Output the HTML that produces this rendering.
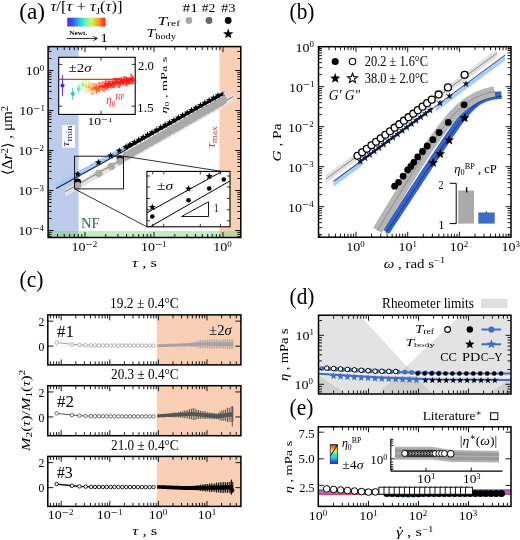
<!DOCTYPE html>
<html><head><meta charset="utf-8"><title>Figure</title>
<style>
html,body{margin:0;padding:0;background:#fff;width:520px;height:540px;overflow:hidden}
svg{display:block}
text{font-family:"Liberation Serif","DejaVu Serif",serif}
</style></head>
<body>
<svg width="520" height="540" viewBox="0 0 520 540">
<defs>
<linearGradient id="rainbow" x1="0" y1="0" x2="1" y2="0">
<stop offset="0" stop-color="#5a1ee8"/><stop offset="0.15" stop-color="#2f5cf5"/><stop offset="0.35" stop-color="#1fd8e0"/>
<stop offset="0.5" stop-color="#80f5a8"/><stop offset="0.65" stop-color="#d6f060"/><stop offset="0.82" stop-color="#ff9a30"/><stop offset="1" stop-color="#ff1a10"/>
</linearGradient>
<linearGradient id="rainbowv" x1="0" y1="1" x2="0" y2="0">
<stop offset="0" stop-color="#3a2ae8"/><stop offset="0.2" stop-color="#2090f0"/><stop offset="0.4" stop-color="#30e8c0"/>
<stop offset="0.6" stop-color="#c0f060"/><stop offset="0.8" stop-color="#ff9a30"/><stop offset="1" stop-color="#e82010"/>
</linearGradient>
</defs>
<rect width="520" height="540" fill="#fff"/>
<text transform="translate(19.23,18.88) scale(1.165,1.179)" font-size="20" fill="#000" >(a)</text>
<text transform="translate(50.40,11.32) scale(1.277,1.092)" font-size="13" fill="#000" ><tspan font-style="italic">τ</tspan>/[<tspan font-style="italic">τ</tspan> + <tspan font-style="italic">τ</tspan><tspan font-size="8" dy="2.5">J</tspan><tspan dy="-2.5">(</tspan><tspan font-style="italic">τ</tspan>)]</text>
<rect x="67.3" y="17.7" width="38" height="8.8" fill="url(#rainbow)" stroke="none" stroke-width="1" />
<text transform="translate(69.30,34.60) scale(0.972,0.900)" font-size="7.5" fill="#000" font-weight="bold">Newt.</text>
<line x1="66.5" y1="38.5" x2="97" y2="38.5" stroke="#000" stroke-width="0.8" />
<polyline points="93.3,36.4 97.5,38.5 93.3,40.6" fill="none" stroke="#000" stroke-width="0.8"/>
<text transform="translate(100.20,42.30) scale(1.400,1.100)" font-size="11" fill="#000" >1</text>
<text transform="translate(182.50,11.90) scale(1.282,1.025)" font-size="12" fill="#000" >#1</text>
<text transform="translate(201.70,11.90) scale(1.142,1.025)" font-size="12" fill="#000" >#2</text>
<text transform="translate(220.90,11.90) scale(1.217,1.025)" font-size="12" fill="#000" >#3</text>
<text transform="translate(157.46,24.68) scale(1.235,0.918)" font-size="14" fill="#000" ><tspan font-style="italic">T</tspan><tspan font-size="9.5" dy="1.2">ref</tspan></text>
<text transform="translate(146.60,37.45) scale(1.100,0.915)" font-size="14" fill="#000" ><tspan font-style="italic">T</tspan><tspan font-size="9.5" dy="1.2">body</tspan></text>
<circle cx="188.9" cy="20.5" r="3.4" fill="#a8a8a8" stroke="none" stroke-width="1" />
<circle cx="209" cy="20.5" r="3.4" fill="#666666" stroke="none" stroke-width="1" />
<circle cx="228.2" cy="20.5" r="3.4" fill="#000" stroke="none" stroke-width="1" />
<polygon points="228.2,28.6 229.53,32.17 233.34,32.33 230.36,34.7 231.37,38.37 228.2,36.27 225.03,38.37 226.04,34.7 223.06,32.33 226.87,32.17" fill="#000" stroke="none" stroke-width="1"/>
<rect x="48.1" y="46.6" width="30.5" height="190.9" fill="#bccbec" stroke="none" stroke-width="1" />
<rect x="219.4" y="46.6" width="21.4" height="190.9" fill="#f9cfb6" stroke="none" stroke-width="1" />
<rect x="48.1" y="231" width="192.7" height="6.5" fill="#7fd07f" stroke="none" stroke-width="1" fill-opacity="0.45"/>
<text transform="translate(80.97,227.90) scale(1.133,1.137)" font-size="13" fill="#2f6a3c" >NF</text>
<rect x="62.3" y="125" width="12.7" height="22.7" fill="#ffffff" stroke="none" stroke-width="1" />
<text transform="translate(69.43,146.70) rotate(-90) scale(1.150,0.856)" font-size="12.5" fill="#1e1e6e" ><tspan font-style="italic">τ</tspan><tspan font-size="9" dy="2.5">min</tspan></text>
<text transform="translate(214.53,148.00) rotate(-90) scale(1.100,0.922)" font-size="12.5" fill="#b84a30" ><tspan font-style="italic">τ</tspan><tspan font-size="9" dy="2.5">max</tspan></text>
<polygon points="56.2,183.3 131,141.94 131,147.44 56.2,188.8" fill="#a6c8f2" />
<polygon points="214,96.04 224.6,90.17 224.6,95.67 214,101.54" fill="#a6c8f2" />
<polygon points="65.4,189 233.3,93.97 233.3,101.47 65.4,196.5" fill="#e3e3e3" />
<line x1="56.2" y1="188.5" x2="224.6" y2="95.37" stroke="#10205a" stroke-width="1.1" />
<line x1="65.4" y1="191.5" x2="233.3" y2="96.47" stroke="#6a6a5a" stroke-width="0.9" />
<circle cx="77.7" cy="181.8" r="3.4" fill="#000" stroke="none" stroke-width="1" />
<circle cx="77.7" cy="185.4" r="3.4" fill="#ababab" stroke="#9c9c9c" stroke-width="0.5" />
<circle cx="98.9" cy="173.42" r="3.4" fill="#ababab" stroke="#9c9c9c" stroke-width="0.5" />
<circle cx="111.2" cy="166.47" r="3.4" fill="#ababab" stroke="#9c9c9c" stroke-width="0.5" />
<circle cx="120" cy="158.6" r="3.4" fill="#222" stroke="none" stroke-width="1" />
<circle cx="120" cy="161.5" r="3.4" fill="#a9a9a9" stroke="none" stroke-width="1" />
<polygon points="124.5,152.34 127.92,150.39 131.34,148.44 134.76,146.49 138.18,144.54 141.6,142.59 145.02,140.64 148.44,138.69 151.87,136.74 155.29,134.79 158.71,132.84 162.13,130.89 165.55,128.94 168.97,126.99 172.39,125.04 175.81,123.09 179.23,121.14 182.65,119.19 186.07,117.24 189.49,115.29 192.91,113.34 196.33,111.39 199.76,109.44 203.18,107.49 206.6,105.54 210.02,103.59 213.44,101.64 216.86,99.69 220.28,97.74 223.7,95.79 223.7,104.59 220.28,106.54 216.86,108.49 213.44,110.44 210.02,112.39 206.6,114.34 203.18,116.29 199.76,118.24 196.33,120.19 192.91,122.14 189.49,124.09 186.07,126.04 182.65,127.99 179.23,129.94 175.81,131.89 172.39,133.84 168.97,135.79 165.55,137.74 162.13,139.69 158.71,141.64 155.29,143.59 151.87,145.54 148.44,147.49 145.02,149.44 141.6,151.39 138.18,153.34 134.76,155.29 131.34,157.24 127.92,159.19 124.5,161.14" fill="#a9a9a9" />
<circle cx="126.5" cy="155.59" r="4.2" fill="#a9a9a9" stroke="none" stroke-width="1" />
<circle cx="222.82" cy="100.19" r="4.4" fill="#a9a9a9" stroke="none" stroke-width="1" />
<circle cx="128" cy="155.64" r="3.5" fill="#a9a9a9" stroke="none" stroke-width="1" />
<circle cx="132.4" cy="153.13" r="3.5" fill="#a9a9a9" stroke="none" stroke-width="1" />
<circle cx="136.8" cy="150.62" r="3.5" fill="#a9a9a9" stroke="none" stroke-width="1" />
<circle cx="141.2" cy="148.12" r="3.5" fill="#a9a9a9" stroke="none" stroke-width="1" />
<circle cx="145.6" cy="145.61" r="3.5" fill="#a9a9a9" stroke="none" stroke-width="1" />
<circle cx="150" cy="143.1" r="3.5" fill="#a9a9a9" stroke="none" stroke-width="1" />
<circle cx="154.4" cy="140.59" r="3.5" fill="#a9a9a9" stroke="none" stroke-width="1" />
<circle cx="158.8" cy="138.08" r="3.5" fill="#a9a9a9" stroke="none" stroke-width="1" />
<circle cx="163.2" cy="135.58" r="3.5" fill="#a9a9a9" stroke="none" stroke-width="1" />
<circle cx="167.6" cy="133.07" r="3.5" fill="#a9a9a9" stroke="none" stroke-width="1" />
<circle cx="172" cy="130.56" r="3.5" fill="#a9a9a9" stroke="none" stroke-width="1" />
<circle cx="176.4" cy="128.05" r="3.5" fill="#a9a9a9" stroke="none" stroke-width="1" />
<circle cx="180.8" cy="125.54" r="3.5" fill="#a9a9a9" stroke="none" stroke-width="1" />
<circle cx="185.2" cy="123.04" r="3.5" fill="#a9a9a9" stroke="none" stroke-width="1" />
<circle cx="189.6" cy="120.53" r="3.5" fill="#a9a9a9" stroke="none" stroke-width="1" />
<circle cx="194" cy="118.02" r="3.5" fill="#a9a9a9" stroke="none" stroke-width="1" />
<circle cx="198.4" cy="115.51" r="3.5" fill="#a9a9a9" stroke="none" stroke-width="1" />
<circle cx="202.8" cy="113" r="3.5" fill="#a9a9a9" stroke="none" stroke-width="1" />
<circle cx="207.2" cy="110.5" r="3.5" fill="#a9a9a9" stroke="none" stroke-width="1" />
<circle cx="211.6" cy="107.99" r="3.5" fill="#a9a9a9" stroke="none" stroke-width="1" />
<circle cx="216" cy="105.48" r="3.5" fill="#a9a9a9" stroke="none" stroke-width="1" />
<circle cx="220.4" cy="102.97" r="3.5" fill="#a9a9a9" stroke="none" stroke-width="1" />
<line x1="126" y1="150.56" x2="222" y2="96.32" stroke="#ffffff" stroke-width="1.0" />
<polygon points="126,146.24 129.36,144.36 132.71,142.48 136.07,140.6 139.42,138.72 142.78,136.85 146.13,134.97 149.49,133.09 152.84,131.21 156.2,129.33 159.55,127.45 162.91,125.57 166.26,123.69 169.62,121.81 172.97,119.94 176.33,118.06 179.68,116.18 183.04,114.3 186.39,112.42 189.75,110.54 193.1,108.66 196.46,106.78 199.81,104.9 203.17,103.03 206.52,101.15 209.88,99.27 213.23,97.39 216.59,95.51 219.94,93.63 223.3,91.75 223.3,95.15 219.94,97.03 216.59,98.91 213.23,100.79 209.88,102.67 206.52,104.55 203.17,106.43 199.81,108.3 196.46,110.18 193.1,112.06 189.75,113.94 186.39,115.82 183.04,117.7 179.68,119.58 176.33,121.46 172.97,123.34 169.62,125.21 166.26,127.09 162.91,128.97 159.55,130.85 156.2,132.73 152.84,134.61 149.49,136.49 146.13,138.37 142.78,140.25 139.42,142.12 136.07,144 132.71,145.88 129.36,147.76 126,149.64" fill="#000" />
<polygon points="77.7,170.49 78.59,172.86 81.12,172.98 79.14,174.56 79.82,177 77.7,175.6 75.58,177 76.26,174.56 74.28,172.98 76.81,172.86" fill="#000" stroke="none" stroke-width="1"/>
<polygon points="98.47,158.86 99.36,161.23 101.89,161.34 99.91,162.92 100.59,165.37 98.47,163.97 96.36,165.37 97.03,162.92 95.05,161.34 97.58,161.23" fill="#000" stroke="none" stroke-width="1"/>
<polygon points="110.62,152.05 111.51,154.43 114.05,154.54 112.06,156.12 112.74,158.56 110.62,157.16 108.51,158.56 109.18,156.12 107.2,154.54 109.73,154.43" fill="#000" stroke="none" stroke-width="1"/>
<polygon points="119.24,147.22 120.13,149.6 122.67,149.71 120.68,151.29 121.36,153.74 119.24,152.34 117.13,153.74 117.8,151.29 115.82,149.71 118.35,149.6" fill="#000" stroke="none" stroke-width="1"/>
<polygon points="125.93,143.48 126.82,145.86 129.35,145.97 127.37,147.55 128.04,149.99 125.93,148.59 123.81,149.99 124.49,147.55 122.51,145.97 125.04,145.86" fill="#000" stroke="none" stroke-width="1"/>
<polygon points="130,141.2 130.89,143.58 133.42,143.69 131.44,145.27 132.12,147.71 130,146.31 127.88,147.71 128.56,145.27 126.58,143.69 129.11,143.58" fill="#000" stroke="none" stroke-width="1"/>
<polygon points="134.4,138.74 135.29,141.11 137.82,141.22 135.84,142.8 136.52,145.25 134.4,143.85 132.28,145.25 132.96,142.8 130.98,141.22 133.51,141.11" fill="#000" stroke="none" stroke-width="1"/>
<polygon points="138.8,136.27 139.69,138.65 142.22,138.76 140.24,140.34 140.92,142.78 138.8,141.38 136.68,142.78 137.36,140.34 135.38,138.76 137.91,138.65" fill="#000" stroke="none" stroke-width="1"/>
<polygon points="143.2,133.81 144.09,136.18 146.62,136.3 144.64,137.88 145.32,140.32 143.2,138.92 141.08,140.32 141.76,137.88 139.78,136.3 142.31,136.18" fill="#000" stroke="none" stroke-width="1"/>
<polygon points="147.6,131.34 148.49,133.72 151.02,133.83 149.04,135.41 149.72,137.86 147.6,136.46 145.48,137.86 146.16,135.41 144.18,133.83 146.71,133.72" fill="#000" stroke="none" stroke-width="1"/>
<polygon points="152,128.88 152.89,131.26 155.42,131.37 153.44,132.95 154.12,135.39 152,133.99 149.88,135.39 150.56,132.95 148.58,131.37 151.11,131.26" fill="#000" stroke="none" stroke-width="1"/>
<polygon points="156.4,126.42 157.29,128.79 159.82,128.9 157.84,130.48 158.52,132.93 156.4,131.53 154.28,132.93 154.96,130.48 152.98,128.9 155.51,128.79" fill="#000" stroke="none" stroke-width="1"/>
<polygon points="160.8,123.95 161.69,126.33 164.22,126.44 162.24,128.02 162.92,130.46 160.8,129.06 158.68,130.46 159.36,128.02 157.38,126.44 159.91,126.33" fill="#000" stroke="none" stroke-width="1"/>
<polygon points="165.2,121.49 166.09,123.86 168.62,123.98 166.64,125.56 167.32,128 165.2,126.6 163.08,128 163.76,125.56 161.78,123.98 164.31,123.86" fill="#000" stroke="none" stroke-width="1"/>
<polygon points="169.6,119.02 170.49,121.4 173.02,121.51 171.04,123.09 171.72,125.54 169.6,124.14 167.48,125.54 168.16,123.09 166.18,121.51 168.71,121.4" fill="#000" stroke="none" stroke-width="1"/>
<polygon points="174,116.56 174.89,118.94 177.42,119.05 175.44,120.63 176.12,123.07 174,121.67 171.88,123.07 172.56,120.63 170.58,119.05 173.11,118.94" fill="#000" stroke="none" stroke-width="1"/>
<polygon points="178.4,114.1 179.29,116.47 181.82,116.58 179.84,118.16 180.52,120.61 178.4,119.21 176.28,120.61 176.96,118.16 174.98,116.58 177.51,116.47" fill="#000" stroke="none" stroke-width="1"/>
<polygon points="182.8,111.63 183.69,114.01 186.22,114.12 184.24,115.7 184.92,118.14 182.8,116.74 180.68,118.14 181.36,115.7 179.38,114.12 181.91,114.01" fill="#000" stroke="none" stroke-width="1"/>
<polygon points="187.2,109.17 188.09,111.54 190.62,111.66 188.64,113.24 189.32,115.68 187.2,114.28 185.08,115.68 185.76,113.24 183.78,111.66 186.31,111.54" fill="#000" stroke="none" stroke-width="1"/>
<polygon points="191.6,106.7 192.49,109.08 195.02,109.19 193.04,110.77 193.72,113.22 191.6,111.82 189.48,113.22 190.16,110.77 188.18,109.19 190.71,109.08" fill="#000" stroke="none" stroke-width="1"/>
<polygon points="196,104.24 196.89,106.62 199.42,106.73 197.44,108.31 198.12,110.75 196,109.35 193.88,110.75 194.56,108.31 192.58,106.73 195.11,106.62" fill="#000" stroke="none" stroke-width="1"/>
<polygon points="200.4,101.78 201.29,104.15 203.82,104.26 201.84,105.84 202.52,108.29 200.4,106.89 198.28,108.29 198.96,105.84 196.98,104.26 199.51,104.15" fill="#000" stroke="none" stroke-width="1"/>
<polygon points="204.8,99.31 205.69,101.69 208.22,101.8 206.24,103.38 206.92,105.82 204.8,104.42 202.68,105.82 203.36,103.38 201.38,101.8 203.91,101.69" fill="#000" stroke="none" stroke-width="1"/>
<polygon points="209.2,96.85 210.09,99.22 212.62,99.34 210.64,100.92 211.32,103.36 209.2,101.96 207.08,103.36 207.76,100.92 205.78,99.34 208.31,99.22" fill="#000" stroke="none" stroke-width="1"/>
<polygon points="213.6,94.38 214.49,96.76 217.02,96.87 215.04,98.45 215.72,100.9 213.6,99.5 211.48,100.9 212.16,98.45 210.18,96.87 212.71,96.76" fill="#000" stroke="none" stroke-width="1"/>
<polygon points="218,91.92 218.89,94.3 221.42,94.41 219.44,95.99 220.12,98.43 218,97.03 215.88,98.43 216.56,95.99 214.58,94.41 217.11,94.3" fill="#000" stroke="none" stroke-width="1"/>
<rect x="74.6" y="156.2" width="48.9" height="32.7" fill="none" stroke="#000" stroke-width="0.9" />
<line x1="123.5" y1="156.2" x2="222" y2="171.4" stroke="#000" stroke-width="0.8" />
<line x1="74.6" y1="188.9" x2="146.9" y2="226.8" stroke="#000" stroke-width="0.8" />
<rect x="146.9" y="171.4" width="83.1" height="55.4" fill="#fff" stroke="#000" stroke-width="1.1" />
<line x1="152.8" y1="226.8" x2="152.8" y2="223.8" stroke="#000" stroke-width="0.8" />
<line x1="152.8" y1="171.4" x2="152.8" y2="174.4" stroke="#000" stroke-width="0.8" />
<line x1="163.8" y1="226.8" x2="163.8" y2="223.8" stroke="#000" stroke-width="0.8" />
<line x1="163.8" y1="171.4" x2="163.8" y2="174.4" stroke="#000" stroke-width="0.8" />
<line x1="200.3" y1="226.8" x2="200.3" y2="223.8" stroke="#000" stroke-width="0.8" />
<line x1="200.3" y1="171.4" x2="200.3" y2="174.4" stroke="#000" stroke-width="0.8" />
<line x1="220.4" y1="226.8" x2="220.4" y2="223.8" stroke="#000" stroke-width="0.8" />
<line x1="220.4" y1="171.4" x2="220.4" y2="174.4" stroke="#000" stroke-width="0.8" />
<line x1="146.9" y1="176" x2="149.9" y2="176" stroke="#000" stroke-width="0.8" />
<line x1="230" y1="176" x2="227" y2="176" stroke="#000" stroke-width="0.8" />
<line x1="146.9" y1="187" x2="149.9" y2="187" stroke="#000" stroke-width="0.8" />
<line x1="230" y1="187" x2="227" y2="187" stroke="#000" stroke-width="0.8" />
<line x1="146.9" y1="198.5" x2="149.9" y2="198.5" stroke="#000" stroke-width="0.8" />
<line x1="230" y1="198.5" x2="227" y2="198.5" stroke="#000" stroke-width="0.8" />
<line x1="146.9" y1="209.8" x2="149.9" y2="209.8" stroke="#000" stroke-width="0.8" />
<line x1="230" y1="209.8" x2="227" y2="209.8" stroke="#000" stroke-width="0.8" />
<line x1="146.9" y1="220.8" x2="149.9" y2="220.8" stroke="#000" stroke-width="0.8" />
<line x1="230" y1="220.8" x2="227" y2="220.8" stroke="#000" stroke-width="0.8" />
<clipPath id="ci"><rect x="146.9" y="171.4" width="83.1" height="55.400000000000006"/></clipPath>
<g clip-path="url(#ci)">
<line x1="140" y1="216.62" x2="232" y2="165.84" stroke="#000" stroke-width="1.0" />
<line x1="140" y1="232.56" x2="232" y2="179.75" stroke="#000" stroke-width="1.0" />
</g>
<circle cx="152.3" cy="216.5" r="2.3" fill="#000" stroke="none" stroke-width="1" />
<circle cx="188.5" cy="200.3" r="2.3" fill="#000" stroke="none" stroke-width="1" />
<circle cx="209.2" cy="188.5" r="2.3" fill="#000" stroke="none" stroke-width="1" />
<circle cx="223.8" cy="179.5" r="2.3" fill="#000" stroke="none" stroke-width="1" />
<polygon points="152.3,203.5 153.21,205.94 155.82,206.06 153.78,207.68 154.47,210.19 152.3,208.75 150.13,210.19 150.82,207.68 148.78,206.06 151.39,205.94" fill="#000" stroke="none" stroke-width="1"/>
<polygon points="188.5,185.1 189.41,187.54 192.02,187.66 189.98,189.28 190.67,191.79 188.5,190.35 186.33,191.79 187.02,189.28 184.98,187.66 187.59,187.54" fill="#000" stroke="none" stroke-width="1"/>
<polygon points="209.2,172.6 210.11,175.04 212.72,175.16 210.68,176.78 211.37,179.29 209.2,177.85 207.03,179.29 207.72,176.78 205.68,175.16 208.29,175.04" fill="#000" stroke="none" stroke-width="1"/>
<polygon points="181.5,216.5 208.5,216.5 208.5,201.8" fill="none" stroke="#000" stroke-width="0.9"/>
<text transform="translate(213.75,212.20) scale(0.850,1.000)" font-size="11.5" fill="#000" >1</text>
<text transform="translate(156.90,190.30) scale(1.246,0.929)" font-size="12.5" fill="#000" >±<tspan font-style="italic">σ</tspan></text>
<rect x="58.7" y="57.3" width="76.5" height="57.1" fill="#fff" stroke="#000" stroke-width="1.1" />
<line x1="58.7" y1="64.4" x2="62.2" y2="64.4" stroke="#000" stroke-width="0.8" />
<line x1="135.2" y1="64.4" x2="131.7" y2="64.4" stroke="#000" stroke-width="0.8" />
<line x1="58.7" y1="106.2" x2="62.2" y2="106.2" stroke="#000" stroke-width="0.8" />
<line x1="135.2" y1="106.2" x2="131.7" y2="106.2" stroke="#000" stroke-width="0.8" />
<line x1="101" y1="57.3" x2="101" y2="60.8" stroke="#000" stroke-width="0.8" />
<line x1="101" y1="114.4" x2="101" y2="110.9" stroke="#000" stroke-width="0.8" />
<text transform="translate(138.10,70.00) scale(1.047,1.013)" font-size="12" fill="#000" >2.0</text>
<text transform="translate(136.98,111.60) scale(1.121,1.012)" font-size="12" fill="#000" >1.5</text>
<text transform="translate(166.91,113.60) rotate(-90) scale(1.235,0.764)" font-size="11.5" fill="#000" ><tspan font-style="italic">η</tspan><tspan font-size="8" dy="2.5">0</tspan><tspan dy="-2.5"> ,  mPa s</tspan></text>
<text transform="translate(87.45,125.40) scale(1.050,0.850)" font-size="13" fill="#000" >10<tspan font-size="11.5" dy="-3.3" letter-spacing="0.2">−</tspan><tspan font-size="8.3" dy="-0.9">1</tspan></text>
<text transform="translate(68.40,71.60) scale(1.155,0.975)" font-size="13" fill="#000" >±2<tspan font-style="italic">σ</tspan></text>
<line x1="58.7" y1="79.4" x2="135.2" y2="79.4" stroke="#e8392c" stroke-width="1.1" />
<text transform="translate(106.30,104.07) scale(0.857,0.977)" font-size="13" fill="#e8392c" ><tspan font-style="italic">η</tspan><tspan font-size="8.5" dy="2.5">0</tspan><tspan font-size="8.5" dy="-6.5">BP</tspan></text>
<line x1="62.5" y1="75" x2="62.5" y2="96.2" stroke="#5a1ee8" stroke-width="0.9" />
<circle cx="62.5" cy="85.6" r="2.1" fill="#5a1ee8" stroke="none" stroke-width="1" />
<line x1="72.7" y1="87.6" x2="72.7" y2="100" stroke="#20cbe2" stroke-width="0.9" />
<circle cx="72.7" cy="93.8" r="2.1" fill="#20cbe2" stroke="none" stroke-width="1" />
<line x1="78.67" y1="84" x2="78.67" y2="94" stroke="#5febba" stroke-width="0.9" />
<circle cx="78.67" cy="89" r="2.1" fill="#5febba" stroke="none" stroke-width="1" />
<line x1="82.91" y1="80.1" x2="82.91" y2="89.1" stroke="#adf281" stroke-width="0.9" />
<circle cx="82.91" cy="84.6" r="2.1" fill="#adf281" stroke="none" stroke-width="1" />
<line x1="86.2" y1="80.77" x2="86.2" y2="92.21" stroke="#dfdb54" stroke-width="0.9" />
<circle cx="86.2" cy="86.49" r="1.6" fill="#dfdb54" stroke="none" stroke-width="1" />
<line x1="85" y1="80.77" x2="87.4" y2="80.77" stroke="#dfdb54" stroke-width="0.7" />
<line x1="85" y1="92.21" x2="87.4" y2="92.21" stroke="#dfdb54" stroke-width="0.7" />
<line x1="88.88" y1="81.97" x2="88.88" y2="91.12" stroke="#eebd43" stroke-width="0.9" />
<circle cx="88.88" cy="86.54" r="1.6" fill="#eebd43" stroke="none" stroke-width="1" />
<line x1="87.68" y1="81.97" x2="90.08" y2="81.97" stroke="#eebd43" stroke-width="0.7" />
<line x1="87.68" y1="91.12" x2="90.08" y2="91.12" stroke="#eebd43" stroke-width="0.7" />
<line x1="91.15" y1="83.66" x2="91.15" y2="93.75" stroke="#faa435" stroke-width="0.9" />
<circle cx="91.15" cy="88.71" r="1.6" fill="#faa435" stroke="none" stroke-width="1" />
<line x1="89.95" y1="83.66" x2="92.35" y2="83.66" stroke="#faa435" stroke-width="0.7" />
<line x1="89.95" y1="93.75" x2="92.35" y2="93.75" stroke="#faa435" stroke-width="0.7" />
<line x1="93.11" y1="83.64" x2="93.11" y2="94.32" stroke="#ff8b2c" stroke-width="0.9" />
<circle cx="93.11" cy="88.98" r="1.6" fill="#ff8b2c" stroke="none" stroke-width="1" />
<line x1="91.91" y1="83.64" x2="94.31" y2="83.64" stroke="#ff8b2c" stroke-width="0.7" />
<line x1="91.91" y1="94.32" x2="94.31" y2="94.32" stroke="#ff8b2c" stroke-width="0.7" />
<line x1="94.85" y1="84.29" x2="94.85" y2="90.56" stroke="#ff6f25" stroke-width="0.9" />
<circle cx="94.85" cy="87.42" r="1.6" fill="#ff6f25" stroke="none" stroke-width="1" />
<line x1="93.65" y1="84.29" x2="96.05" y2="84.29" stroke="#ff6f25" stroke-width="0.7" />
<line x1="93.65" y1="90.56" x2="96.05" y2="90.56" stroke="#ff6f25" stroke-width="0.7" />
<line x1="96.4" y1="83.82" x2="96.4" y2="93.14" stroke="#ff591f" stroke-width="0.9" />
<circle cx="96.4" cy="88.48" r="1.6" fill="#ff591f" stroke="none" stroke-width="1" />
<line x1="95.2" y1="83.82" x2="97.6" y2="83.82" stroke="#ff591f" stroke-width="0.7" />
<line x1="95.2" y1="93.14" x2="97.6" y2="93.14" stroke="#ff591f" stroke-width="0.7" />
<line x1="97.8" y1="85.98" x2="97.8" y2="91.8" stroke="#ff591f" stroke-width="0.9" />
<circle cx="97.8" cy="88.89" r="1.6" fill="#ff591f" stroke="none" stroke-width="1" />
<line x1="96.6" y1="85.98" x2="99" y2="85.98" stroke="#ff591f" stroke-width="0.7" />
<line x1="96.6" y1="91.8" x2="99" y2="91.8" stroke="#ff591f" stroke-width="0.7" />
<line x1="99.08" y1="82.25" x2="99.08" y2="91.34" stroke="#ff521e" stroke-width="0.9" />
<circle cx="99.08" cy="86.79" r="1.6" fill="#ff521e" stroke="none" stroke-width="1" />
<line x1="97.88" y1="82.25" x2="100.28" y2="82.25" stroke="#ff521e" stroke-width="0.7" />
<line x1="97.88" y1="91.34" x2="100.28" y2="91.34" stroke="#ff521e" stroke-width="0.7" />
<line x1="100.26" y1="83.32" x2="100.26" y2="89.99" stroke="#ff4b1c" stroke-width="0.9" />
<circle cx="100.26" cy="86.66" r="1.6" fill="#ff4b1c" stroke="none" stroke-width="1" />
<line x1="99.06" y1="83.32" x2="101.46" y2="83.32" stroke="#ff4b1c" stroke-width="0.7" />
<line x1="99.06" y1="89.99" x2="101.46" y2="89.99" stroke="#ff4b1c" stroke-width="0.7" />
<line x1="102.37" y1="82.08" x2="102.37" y2="90.28" stroke="#ff3d18" stroke-width="0.9" />
<circle cx="102.37" cy="86.18" r="1.6" fill="#ff3d18" stroke="none" stroke-width="1" />
<line x1="101.17" y1="82.08" x2="103.57" y2="82.08" stroke="#ff3d18" stroke-width="0.7" />
<line x1="101.17" y1="90.28" x2="103.57" y2="90.28" stroke="#ff3d18" stroke-width="0.7" />
<line x1="104.21" y1="82" x2="104.21" y2="91.29" stroke="#ff2f15" stroke-width="0.9" />
<circle cx="104.21" cy="86.65" r="1.6" fill="#ff2f15" stroke="none" stroke-width="1" />
<line x1="103.01" y1="82" x2="105.41" y2="82" stroke="#ff2f15" stroke-width="0.7" />
<line x1="103.01" y1="91.29" x2="105.41" y2="91.29" stroke="#ff2f15" stroke-width="0.7" />
<line x1="105.85" y1="79.83" x2="105.85" y2="88.97" stroke="#ff2111" stroke-width="0.9" />
<circle cx="105.85" cy="84.4" r="1.6" fill="#ff2111" stroke="none" stroke-width="1" />
<line x1="104.65" y1="79.83" x2="107.05" y2="79.83" stroke="#ff2111" stroke-width="0.7" />
<line x1="104.65" y1="88.97" x2="107.05" y2="88.97" stroke="#ff2111" stroke-width="0.7" />
<line x1="107.32" y1="81.85" x2="107.32" y2="89.72" stroke="#ff1a10" stroke-width="0.9" />
<circle cx="107.32" cy="85.78" r="1.6" fill="#ff1a10" stroke="none" stroke-width="1" />
<line x1="106.12" y1="81.85" x2="108.52" y2="81.85" stroke="#ff1a10" stroke-width="0.7" />
<line x1="106.12" y1="89.72" x2="108.52" y2="89.72" stroke="#ff1a10" stroke-width="0.7" />
<line x1="108.66" y1="81.11" x2="108.66" y2="87.51" stroke="#ff1a10" stroke-width="0.9" />
<circle cx="108.66" cy="84.31" r="1.6" fill="#ff1a10" stroke="none" stroke-width="1" />
<line x1="107.46" y1="81.11" x2="109.86" y2="81.11" stroke="#ff1a10" stroke-width="0.7" />
<line x1="107.46" y1="87.51" x2="109.86" y2="87.51" stroke="#ff1a10" stroke-width="0.7" />
<line x1="109.89" y1="80.96" x2="109.89" y2="86.77" stroke="#ff1a10" stroke-width="0.9" />
<circle cx="109.89" cy="83.86" r="1.6" fill="#ff1a10" stroke="none" stroke-width="1" />
<line x1="108.69" y1="80.96" x2="111.09" y2="80.96" stroke="#ff1a10" stroke-width="0.7" />
<line x1="108.69" y1="86.77" x2="111.09" y2="86.77" stroke="#ff1a10" stroke-width="0.7" />
<line x1="111.02" y1="81.55" x2="111.02" y2="88.07" stroke="#ff1a10" stroke-width="0.9" />
<circle cx="111.02" cy="84.81" r="1.6" fill="#ff1a10" stroke="none" stroke-width="1" />
<line x1="109.82" y1="81.55" x2="112.22" y2="81.55" stroke="#ff1a10" stroke-width="0.7" />
<line x1="109.82" y1="88.07" x2="112.22" y2="88.07" stroke="#ff1a10" stroke-width="0.7" />
<line x1="112.57" y1="80.79" x2="112.57" y2="87.25" stroke="#ff1a10" stroke-width="0.9" />
<circle cx="112.57" cy="84.02" r="1.6" fill="#ff1a10" stroke="none" stroke-width="1" />
<line x1="111.37" y1="80.79" x2="113.77" y2="80.79" stroke="#ff1a10" stroke-width="0.7" />
<line x1="111.37" y1="87.25" x2="113.77" y2="87.25" stroke="#ff1a10" stroke-width="0.7" />
<line x1="113.98" y1="78.5" x2="113.98" y2="87.73" stroke="#ff1a10" stroke-width="0.9" />
<circle cx="113.98" cy="83.11" r="1.6" fill="#ff1a10" stroke="none" stroke-width="1" />
<line x1="112.78" y1="78.5" x2="115.18" y2="78.5" stroke="#ff1a10" stroke-width="0.7" />
<line x1="112.78" y1="87.73" x2="115.18" y2="87.73" stroke="#ff1a10" stroke-width="0.7" />
<line x1="115.26" y1="78.31" x2="115.26" y2="86.25" stroke="#ff1a10" stroke-width="0.9" />
<circle cx="115.26" cy="82.28" r="1.6" fill="#ff1a10" stroke="none" stroke-width="1" />
<line x1="114.06" y1="78.31" x2="116.46" y2="78.31" stroke="#ff1a10" stroke-width="0.7" />
<line x1="114.06" y1="86.25" x2="116.46" y2="86.25" stroke="#ff1a10" stroke-width="0.7" />
<line x1="116.44" y1="78.79" x2="116.44" y2="84.59" stroke="#ff1a10" stroke-width="0.9" />
<circle cx="116.44" cy="81.69" r="1.6" fill="#ff1a10" stroke="none" stroke-width="1" />
<line x1="115.24" y1="78.79" x2="117.64" y2="78.79" stroke="#ff1a10" stroke-width="0.7" />
<line x1="115.24" y1="84.59" x2="117.64" y2="84.59" stroke="#ff1a10" stroke-width="0.7" />
<line x1="117.87" y1="78.4" x2="117.87" y2="86.25" stroke="#ff1a10" stroke-width="0.9" />
<circle cx="117.87" cy="82.33" r="1.6" fill="#ff1a10" stroke="none" stroke-width="1" />
<line x1="116.67" y1="78.4" x2="119.07" y2="78.4" stroke="#ff1a10" stroke-width="0.7" />
<line x1="116.67" y1="86.25" x2="119.07" y2="86.25" stroke="#ff1a10" stroke-width="0.7" />
<line x1="119.18" y1="78.32" x2="119.18" y2="87.62" stroke="#ff1a10" stroke-width="0.9" />
<circle cx="119.18" cy="82.97" r="1.6" fill="#ff1a10" stroke="none" stroke-width="1" />
<line x1="117.98" y1="78.32" x2="120.38" y2="78.32" stroke="#ff1a10" stroke-width="0.7" />
<line x1="117.98" y1="87.62" x2="120.38" y2="87.62" stroke="#ff1a10" stroke-width="0.7" />
<line x1="120.39" y1="78.85" x2="120.39" y2="85.54" stroke="#ff1a10" stroke-width="0.9" />
<circle cx="120.39" cy="82.2" r="1.6" fill="#ff1a10" stroke="none" stroke-width="1" />
<line x1="119.19" y1="78.85" x2="121.59" y2="78.85" stroke="#ff1a10" stroke-width="0.7" />
<line x1="119.19" y1="85.54" x2="121.59" y2="85.54" stroke="#ff1a10" stroke-width="0.7" />
<line x1="121.5" y1="77.66" x2="121.5" y2="83.91" stroke="#ff1a10" stroke-width="0.9" />
<circle cx="121.5" cy="80.78" r="1.6" fill="#ff1a10" stroke="none" stroke-width="1" />
<line x1="120.3" y1="77.66" x2="122.7" y2="77.66" stroke="#ff1a10" stroke-width="0.7" />
<line x1="120.3" y1="83.91" x2="122.7" y2="83.91" stroke="#ff1a10" stroke-width="0.7" />
<line x1="122.78" y1="79.15" x2="122.78" y2="84.99" stroke="#ff1a10" stroke-width="0.9" />
<circle cx="122.78" cy="82.07" r="1.6" fill="#ff1a10" stroke="none" stroke-width="1" />
<line x1="121.58" y1="79.15" x2="123.98" y2="79.15" stroke="#ff1a10" stroke-width="0.7" />
<line x1="121.58" y1="84.99" x2="123.98" y2="84.99" stroke="#ff1a10" stroke-width="0.7" />
<line x1="123.96" y1="76.81" x2="123.96" y2="83.66" stroke="#ff1a10" stroke-width="0.9" />
<circle cx="123.96" cy="80.23" r="1.6" fill="#ff1a10" stroke="none" stroke-width="1" />
<line x1="122.76" y1="76.81" x2="125.16" y2="76.81" stroke="#ff1a10" stroke-width="0.7" />
<line x1="122.76" y1="83.66" x2="125.16" y2="83.66" stroke="#ff1a10" stroke-width="0.7" />
<line x1="125.26" y1="77.26" x2="125.26" y2="84.75" stroke="#ff1a10" stroke-width="0.9" />
<circle cx="125.26" cy="81.01" r="1.6" fill="#ff1a10" stroke="none" stroke-width="1" />
<line x1="124.06" y1="77.26" x2="126.46" y2="77.26" stroke="#ff1a10" stroke-width="0.7" />
<line x1="124.06" y1="84.75" x2="126.46" y2="84.75" stroke="#ff1a10" stroke-width="0.7" />
<line x1="126.45" y1="77.3" x2="126.45" y2="85.85" stroke="#ff1a10" stroke-width="0.9" />
<circle cx="126.45" cy="81.57" r="1.6" fill="#ff1a10" stroke="none" stroke-width="1" />
<line x1="125.25" y1="77.3" x2="127.65" y2="77.3" stroke="#ff1a10" stroke-width="0.7" />
<line x1="125.25" y1="85.85" x2="127.65" y2="85.85" stroke="#ff1a10" stroke-width="0.7" />
<line x1="127.56" y1="77.95" x2="127.56" y2="83.99" stroke="#ff1a10" stroke-width="0.9" />
<circle cx="127.56" cy="80.97" r="1.6" fill="#ff1a10" stroke="none" stroke-width="1" />
<line x1="126.36" y1="77.95" x2="128.76" y2="77.95" stroke="#ff1a10" stroke-width="0.7" />
<line x1="126.36" y1="83.99" x2="128.76" y2="83.99" stroke="#ff1a10" stroke-width="0.7" />
<line x1="128.75" y1="78.14" x2="128.75" y2="84.14" stroke="#ff1a10" stroke-width="0.9" />
<circle cx="128.75" cy="81.14" r="1.6" fill="#ff1a10" stroke="none" stroke-width="1" />
<line x1="127.55" y1="78.14" x2="129.95" y2="78.14" stroke="#ff1a10" stroke-width="0.7" />
<line x1="127.55" y1="84.14" x2="129.95" y2="84.14" stroke="#ff1a10" stroke-width="0.7" />
<line x1="129.85" y1="77.85" x2="129.85" y2="83.81" stroke="#ff1a10" stroke-width="0.9" />
<circle cx="129.85" cy="80.83" r="1.6" fill="#ff1a10" stroke="none" stroke-width="1" />
<line x1="128.65" y1="77.85" x2="131.05" y2="77.85" stroke="#ff1a10" stroke-width="0.7" />
<line x1="128.65" y1="83.81" x2="131.05" y2="83.81" stroke="#ff1a10" stroke-width="0.7" />
<line x1="131.02" y1="74.33" x2="131.02" y2="83.16" stroke="#ff1a10" stroke-width="0.9" />
<circle cx="131.02" cy="78.74" r="1.6" fill="#ff1a10" stroke="none" stroke-width="1" />
<line x1="129.82" y1="74.33" x2="132.22" y2="74.33" stroke="#ff1a10" stroke-width="0.7" />
<line x1="129.82" y1="83.16" x2="132.22" y2="83.16" stroke="#ff1a10" stroke-width="0.7" />
<line x1="132.23" y1="75.95" x2="132.23" y2="83.42" stroke="#ff1a10" stroke-width="0.9" />
<circle cx="132.23" cy="79.69" r="1.6" fill="#ff1a10" stroke="none" stroke-width="1" />
<line x1="131.03" y1="75.95" x2="133.43" y2="75.95" stroke="#ff1a10" stroke-width="0.7" />
<line x1="131.03" y1="83.42" x2="133.43" y2="83.42" stroke="#ff1a10" stroke-width="0.7" />
<line x1="133.35" y1="77.16" x2="133.35" y2="83.34" stroke="#ff1a10" stroke-width="0.9" />
<circle cx="133.35" cy="80.25" r="1.6" fill="#ff1a10" stroke="none" stroke-width="1" />
<line x1="132.15" y1="77.16" x2="134.55" y2="77.16" stroke="#ff1a10" stroke-width="0.7" />
<line x1="132.15" y1="83.34" x2="134.55" y2="83.34" stroke="#ff1a10" stroke-width="0.7" />
<line x1="48.92" y1="237.5" x2="48.92" y2="234" stroke="#000" stroke-width="0.9" />
<line x1="48.92" y1="46.6" x2="48.92" y2="50.1" stroke="#000" stroke-width="0.9" />
<line x1="57.54" y1="237.5" x2="57.54" y2="234" stroke="#000" stroke-width="0.9" />
<line x1="57.54" y1="46.6" x2="57.54" y2="50.1" stroke="#000" stroke-width="0.9" />
<line x1="64.23" y1="237.5" x2="64.23" y2="234" stroke="#000" stroke-width="0.9" />
<line x1="64.23" y1="46.6" x2="64.23" y2="50.1" stroke="#000" stroke-width="0.9" />
<line x1="69.69" y1="237.5" x2="69.69" y2="234" stroke="#000" stroke-width="0.9" />
<line x1="69.69" y1="46.6" x2="69.69" y2="50.1" stroke="#000" stroke-width="0.9" />
<line x1="74.31" y1="237.5" x2="74.31" y2="234" stroke="#000" stroke-width="0.9" />
<line x1="74.31" y1="46.6" x2="74.31" y2="50.1" stroke="#000" stroke-width="0.9" />
<line x1="78.31" y1="237.5" x2="78.31" y2="234" stroke="#000" stroke-width="0.9" />
<line x1="78.31" y1="46.6" x2="78.31" y2="50.1" stroke="#000" stroke-width="0.9" />
<line x1="81.84" y1="237.5" x2="81.84" y2="234" stroke="#000" stroke-width="0.9" />
<line x1="81.84" y1="46.6" x2="81.84" y2="50.1" stroke="#000" stroke-width="0.9" />
<line x1="85" y1="237.5" x2="85" y2="232" stroke="#000" stroke-width="0.9" />
<line x1="85" y1="46.6" x2="85" y2="52.1" stroke="#000" stroke-width="0.9" />
<line x1="105.77" y1="237.5" x2="105.77" y2="234" stroke="#000" stroke-width="0.9" />
<line x1="105.77" y1="46.6" x2="105.77" y2="50.1" stroke="#000" stroke-width="0.9" />
<line x1="117.92" y1="237.5" x2="117.92" y2="234" stroke="#000" stroke-width="0.9" />
<line x1="117.92" y1="46.6" x2="117.92" y2="50.1" stroke="#000" stroke-width="0.9" />
<line x1="126.54" y1="237.5" x2="126.54" y2="234" stroke="#000" stroke-width="0.9" />
<line x1="126.54" y1="46.6" x2="126.54" y2="50.1" stroke="#000" stroke-width="0.9" />
<line x1="133.23" y1="237.5" x2="133.23" y2="234" stroke="#000" stroke-width="0.9" />
<line x1="133.23" y1="46.6" x2="133.23" y2="50.1" stroke="#000" stroke-width="0.9" />
<line x1="138.69" y1="237.5" x2="138.69" y2="234" stroke="#000" stroke-width="0.9" />
<line x1="138.69" y1="46.6" x2="138.69" y2="50.1" stroke="#000" stroke-width="0.9" />
<line x1="143.31" y1="237.5" x2="143.31" y2="234" stroke="#000" stroke-width="0.9" />
<line x1="143.31" y1="46.6" x2="143.31" y2="50.1" stroke="#000" stroke-width="0.9" />
<line x1="147.31" y1="237.5" x2="147.31" y2="234" stroke="#000" stroke-width="0.9" />
<line x1="147.31" y1="46.6" x2="147.31" y2="50.1" stroke="#000" stroke-width="0.9" />
<line x1="150.84" y1="237.5" x2="150.84" y2="234" stroke="#000" stroke-width="0.9" />
<line x1="150.84" y1="46.6" x2="150.84" y2="50.1" stroke="#000" stroke-width="0.9" />
<line x1="154" y1="237.5" x2="154" y2="232" stroke="#000" stroke-width="0.9" />
<line x1="154" y1="46.6" x2="154" y2="52.1" stroke="#000" stroke-width="0.9" />
<line x1="174.77" y1="237.5" x2="174.77" y2="234" stroke="#000" stroke-width="0.9" />
<line x1="174.77" y1="46.6" x2="174.77" y2="50.1" stroke="#000" stroke-width="0.9" />
<line x1="186.92" y1="237.5" x2="186.92" y2="234" stroke="#000" stroke-width="0.9" />
<line x1="186.92" y1="46.6" x2="186.92" y2="50.1" stroke="#000" stroke-width="0.9" />
<line x1="195.54" y1="237.5" x2="195.54" y2="234" stroke="#000" stroke-width="0.9" />
<line x1="195.54" y1="46.6" x2="195.54" y2="50.1" stroke="#000" stroke-width="0.9" />
<line x1="202.23" y1="237.5" x2="202.23" y2="234" stroke="#000" stroke-width="0.9" />
<line x1="202.23" y1="46.6" x2="202.23" y2="50.1" stroke="#000" stroke-width="0.9" />
<line x1="207.69" y1="237.5" x2="207.69" y2="234" stroke="#000" stroke-width="0.9" />
<line x1="207.69" y1="46.6" x2="207.69" y2="50.1" stroke="#000" stroke-width="0.9" />
<line x1="212.31" y1="237.5" x2="212.31" y2="234" stroke="#000" stroke-width="0.9" />
<line x1="212.31" y1="46.6" x2="212.31" y2="50.1" stroke="#000" stroke-width="0.9" />
<line x1="216.31" y1="237.5" x2="216.31" y2="234" stroke="#000" stroke-width="0.9" />
<line x1="216.31" y1="46.6" x2="216.31" y2="50.1" stroke="#000" stroke-width="0.9" />
<line x1="219.84" y1="237.5" x2="219.84" y2="234" stroke="#000" stroke-width="0.9" />
<line x1="219.84" y1="46.6" x2="219.84" y2="50.1" stroke="#000" stroke-width="0.9" />
<line x1="223" y1="237.5" x2="223" y2="232" stroke="#000" stroke-width="0.9" />
<line x1="223" y1="46.6" x2="223" y2="52.1" stroke="#000" stroke-width="0.9" />
<line x1="48.1" y1="236.7" x2="51.6" y2="236.7" stroke="#000" stroke-width="0.9" />
<line x1="240.8" y1="236.7" x2="237.3" y2="236.7" stroke="#000" stroke-width="0.9" />
<line x1="48.1" y1="234.38" x2="51.6" y2="234.38" stroke="#000" stroke-width="0.9" />
<line x1="240.8" y1="234.38" x2="237.3" y2="234.38" stroke="#000" stroke-width="0.9" />
<line x1="48.1" y1="232.33" x2="51.6" y2="232.33" stroke="#000" stroke-width="0.9" />
<line x1="240.8" y1="232.33" x2="237.3" y2="232.33" stroke="#000" stroke-width="0.9" />
<line x1="48.1" y1="230.5" x2="53.6" y2="230.5" stroke="#000" stroke-width="0.9" />
<line x1="240.8" y1="230.5" x2="235.3" y2="230.5" stroke="#000" stroke-width="0.9" />
<line x1="48.1" y1="218.46" x2="51.6" y2="218.46" stroke="#000" stroke-width="0.9" />
<line x1="240.8" y1="218.46" x2="237.3" y2="218.46" stroke="#000" stroke-width="0.9" />
<line x1="48.1" y1="211.42" x2="51.6" y2="211.42" stroke="#000" stroke-width="0.9" />
<line x1="240.8" y1="211.42" x2="237.3" y2="211.42" stroke="#000" stroke-width="0.9" />
<line x1="48.1" y1="206.42" x2="51.6" y2="206.42" stroke="#000" stroke-width="0.9" />
<line x1="240.8" y1="206.42" x2="237.3" y2="206.42" stroke="#000" stroke-width="0.9" />
<line x1="48.1" y1="202.54" x2="51.6" y2="202.54" stroke="#000" stroke-width="0.9" />
<line x1="240.8" y1="202.54" x2="237.3" y2="202.54" stroke="#000" stroke-width="0.9" />
<line x1="48.1" y1="199.37" x2="51.6" y2="199.37" stroke="#000" stroke-width="0.9" />
<line x1="240.8" y1="199.37" x2="237.3" y2="199.37" stroke="#000" stroke-width="0.9" />
<line x1="48.1" y1="196.7" x2="51.6" y2="196.7" stroke="#000" stroke-width="0.9" />
<line x1="240.8" y1="196.7" x2="237.3" y2="196.7" stroke="#000" stroke-width="0.9" />
<line x1="48.1" y1="194.38" x2="51.6" y2="194.38" stroke="#000" stroke-width="0.9" />
<line x1="240.8" y1="194.38" x2="237.3" y2="194.38" stroke="#000" stroke-width="0.9" />
<line x1="48.1" y1="192.33" x2="51.6" y2="192.33" stroke="#000" stroke-width="0.9" />
<line x1="240.8" y1="192.33" x2="237.3" y2="192.33" stroke="#000" stroke-width="0.9" />
<line x1="48.1" y1="190.5" x2="53.6" y2="190.5" stroke="#000" stroke-width="0.9" />
<line x1="240.8" y1="190.5" x2="235.3" y2="190.5" stroke="#000" stroke-width="0.9" />
<line x1="48.1" y1="178.46" x2="51.6" y2="178.46" stroke="#000" stroke-width="0.9" />
<line x1="240.8" y1="178.46" x2="237.3" y2="178.46" stroke="#000" stroke-width="0.9" />
<line x1="48.1" y1="171.42" x2="51.6" y2="171.42" stroke="#000" stroke-width="0.9" />
<line x1="240.8" y1="171.42" x2="237.3" y2="171.42" stroke="#000" stroke-width="0.9" />
<line x1="48.1" y1="166.42" x2="51.6" y2="166.42" stroke="#000" stroke-width="0.9" />
<line x1="240.8" y1="166.42" x2="237.3" y2="166.42" stroke="#000" stroke-width="0.9" />
<line x1="48.1" y1="162.54" x2="51.6" y2="162.54" stroke="#000" stroke-width="0.9" />
<line x1="240.8" y1="162.54" x2="237.3" y2="162.54" stroke="#000" stroke-width="0.9" />
<line x1="48.1" y1="159.37" x2="51.6" y2="159.37" stroke="#000" stroke-width="0.9" />
<line x1="240.8" y1="159.37" x2="237.3" y2="159.37" stroke="#000" stroke-width="0.9" />
<line x1="48.1" y1="156.7" x2="51.6" y2="156.7" stroke="#000" stroke-width="0.9" />
<line x1="240.8" y1="156.7" x2="237.3" y2="156.7" stroke="#000" stroke-width="0.9" />
<line x1="48.1" y1="154.38" x2="51.6" y2="154.38" stroke="#000" stroke-width="0.9" />
<line x1="240.8" y1="154.38" x2="237.3" y2="154.38" stroke="#000" stroke-width="0.9" />
<line x1="48.1" y1="152.33" x2="51.6" y2="152.33" stroke="#000" stroke-width="0.9" />
<line x1="240.8" y1="152.33" x2="237.3" y2="152.33" stroke="#000" stroke-width="0.9" />
<line x1="48.1" y1="150.5" x2="53.6" y2="150.5" stroke="#000" stroke-width="0.9" />
<line x1="240.8" y1="150.5" x2="235.3" y2="150.5" stroke="#000" stroke-width="0.9" />
<line x1="48.1" y1="138.46" x2="51.6" y2="138.46" stroke="#000" stroke-width="0.9" />
<line x1="240.8" y1="138.46" x2="237.3" y2="138.46" stroke="#000" stroke-width="0.9" />
<line x1="48.1" y1="131.42" x2="51.6" y2="131.42" stroke="#000" stroke-width="0.9" />
<line x1="240.8" y1="131.42" x2="237.3" y2="131.42" stroke="#000" stroke-width="0.9" />
<line x1="48.1" y1="126.42" x2="51.6" y2="126.42" stroke="#000" stroke-width="0.9" />
<line x1="240.8" y1="126.42" x2="237.3" y2="126.42" stroke="#000" stroke-width="0.9" />
<line x1="48.1" y1="122.54" x2="51.6" y2="122.54" stroke="#000" stroke-width="0.9" />
<line x1="240.8" y1="122.54" x2="237.3" y2="122.54" stroke="#000" stroke-width="0.9" />
<line x1="48.1" y1="119.37" x2="51.6" y2="119.37" stroke="#000" stroke-width="0.9" />
<line x1="240.8" y1="119.37" x2="237.3" y2="119.37" stroke="#000" stroke-width="0.9" />
<line x1="48.1" y1="116.7" x2="51.6" y2="116.7" stroke="#000" stroke-width="0.9" />
<line x1="240.8" y1="116.7" x2="237.3" y2="116.7" stroke="#000" stroke-width="0.9" />
<line x1="48.1" y1="114.38" x2="51.6" y2="114.38" stroke="#000" stroke-width="0.9" />
<line x1="240.8" y1="114.38" x2="237.3" y2="114.38" stroke="#000" stroke-width="0.9" />
<line x1="48.1" y1="112.33" x2="51.6" y2="112.33" stroke="#000" stroke-width="0.9" />
<line x1="240.8" y1="112.33" x2="237.3" y2="112.33" stroke="#000" stroke-width="0.9" />
<line x1="48.1" y1="110.5" x2="53.6" y2="110.5" stroke="#000" stroke-width="0.9" />
<line x1="240.8" y1="110.5" x2="235.3" y2="110.5" stroke="#000" stroke-width="0.9" />
<line x1="48.1" y1="98.46" x2="51.6" y2="98.46" stroke="#000" stroke-width="0.9" />
<line x1="240.8" y1="98.46" x2="237.3" y2="98.46" stroke="#000" stroke-width="0.9" />
<line x1="48.1" y1="91.42" x2="51.6" y2="91.42" stroke="#000" stroke-width="0.9" />
<line x1="240.8" y1="91.42" x2="237.3" y2="91.42" stroke="#000" stroke-width="0.9" />
<line x1="48.1" y1="86.42" x2="51.6" y2="86.42" stroke="#000" stroke-width="0.9" />
<line x1="240.8" y1="86.42" x2="237.3" y2="86.42" stroke="#000" stroke-width="0.9" />
<line x1="48.1" y1="82.54" x2="51.6" y2="82.54" stroke="#000" stroke-width="0.9" />
<line x1="240.8" y1="82.54" x2="237.3" y2="82.54" stroke="#000" stroke-width="0.9" />
<line x1="48.1" y1="79.37" x2="51.6" y2="79.37" stroke="#000" stroke-width="0.9" />
<line x1="240.8" y1="79.37" x2="237.3" y2="79.37" stroke="#000" stroke-width="0.9" />
<line x1="48.1" y1="76.7" x2="51.6" y2="76.7" stroke="#000" stroke-width="0.9" />
<line x1="240.8" y1="76.7" x2="237.3" y2="76.7" stroke="#000" stroke-width="0.9" />
<line x1="48.1" y1="74.38" x2="51.6" y2="74.38" stroke="#000" stroke-width="0.9" />
<line x1="240.8" y1="74.38" x2="237.3" y2="74.38" stroke="#000" stroke-width="0.9" />
<line x1="48.1" y1="72.33" x2="51.6" y2="72.33" stroke="#000" stroke-width="0.9" />
<line x1="240.8" y1="72.33" x2="237.3" y2="72.33" stroke="#000" stroke-width="0.9" />
<line x1="48.1" y1="70.5" x2="53.6" y2="70.5" stroke="#000" stroke-width="0.9" />
<line x1="240.8" y1="70.5" x2="235.3" y2="70.5" stroke="#000" stroke-width="0.9" />
<line x1="48.1" y1="58.46" x2="51.6" y2="58.46" stroke="#000" stroke-width="0.9" />
<line x1="240.8" y1="58.46" x2="237.3" y2="58.46" stroke="#000" stroke-width="0.9" />
<line x1="48.1" y1="51.42" x2="51.6" y2="51.42" stroke="#000" stroke-width="0.9" />
<line x1="240.8" y1="51.42" x2="237.3" y2="51.42" stroke="#000" stroke-width="0.9" />
<rect x="48.1" y="46.6" width="192.7" height="190.9" fill="none" stroke="#000" stroke-width="1.5" />
<text transform="translate(25.74,74.90) scale(1.080,1.030)" font-size="13" fill="#000" >10<tspan font-size="8.3" dy="-4.2">0</tspan></text>
<text transform="translate(19.26,114.90) scale(1.080,1.030)" font-size="13" fill="#000" >10<tspan font-size="11.5" dy="-3.3" letter-spacing="0.2">−</tspan><tspan font-size="8.3" dy="-0.9">1</tspan></text>
<text transform="translate(18.18,154.90) scale(1.080,1.030)" font-size="13" fill="#000" >10<tspan font-size="11.5" dy="-3.3" letter-spacing="0.2">−</tspan><tspan font-size="8.3" dy="-0.9">2</tspan></text>
<text transform="translate(18.18,194.90) scale(1.080,1.030)" font-size="13" fill="#000" >10<tspan font-size="11.5" dy="-3.3" letter-spacing="0.2">−</tspan><tspan font-size="8.3" dy="-0.9">3</tspan></text>
<text transform="translate(18.18,234.90) scale(1.080,1.030)" font-size="13" fill="#000" >10<tspan font-size="11.5" dy="-3.3" letter-spacing="0.2">−</tspan><tspan font-size="8.3" dy="-0.9">4</tspan></text>
<text transform="translate(71.50,251.00) scale(1.080,1.030)" font-size="13" fill="#000" >10<tspan font-size="11.5" dy="-3.3" letter-spacing="0.2">−</tspan><tspan font-size="8.3" dy="-0.9">2</tspan></text>
<text transform="translate(141.04,251.00) scale(1.080,1.030)" font-size="13" fill="#000" >10<tspan font-size="11.5" dy="-3.3" letter-spacing="0.2">−</tspan><tspan font-size="8.3" dy="-0.9">1</tspan></text>
<text transform="translate(213.28,251.00) scale(1.080,1.030)" font-size="13" fill="#000" >10<tspan font-size="8.3" dy="-4.2">0</tspan></text>
<text transform="translate(132.00,266.71) scale(1.289,1.019)" font-size="13" fill="#000" ><tspan font-style="italic">τ</tspan> ,  s</text>
<text transform="translate(12.45,175.17) rotate(-90) scale(1.167,1.085)" font-size="13" fill="#000" >⟨Δ<tspan font-style="italic">r</tspan><tspan font-size="9" dy="-4.5">2</tspan><tspan dy="4.5">⟩</tspan> ,  μm<tspan font-size="9" dy="-4.5">2</tspan></text>
<text transform="translate(289.53,18.88) scale(1.068,1.179)" font-size="20" fill="#000" >(b)</text>
<clipPath id="cb"><rect x="318.5" y="46.7" width="192.5" height="190.5"/></clipPath>
<g clip-path="url(#cb)">
<polygon points="326,174.99 497,49.13 497,57.13 326,182.99" fill="#e0e0e0" />
<polygon points="333.5,181.32 362,160.34 362,165.84 333.5,186.82" fill="#a9ccf5" />
<polygon points="436,105.88 505,55.1 505,60.6 436,111.38" fill="#a9ccf5" />
<line x1="333.5" y1="181.32" x2="358.5" y2="162.92" stroke="#1d3f8f" stroke-width="1.1" />
<line x1="358.5" y1="162.92" x2="505" y2="55.1" stroke="#1d3f8f" stroke-width="0.9" />
<line x1="358.5" y1="162.32" x2="432.5" y2="107.86" stroke="#0c1838" stroke-width="1.6" />
<polygon points="356.7,159.31 359.46,160.46 360.5,158.16 361.54,160.46 364.3,159.31 362,161.84 362.8,164.83 360.5,162.99 358.2,164.83 359,161.84" fill="#0c1838" />
<polygon points="361.34,155.89 364.1,157.04 365.14,154.74 366.18,157.04 368.94,155.89 366.63,158.42 367.44,161.41 365.14,159.57 362.84,161.41 363.64,158.42" fill="#0c1838" />
<polygon points="365.98,152.48 368.74,153.63 369.78,151.33 370.81,153.63 373.57,152.48 371.27,155.01 372.08,158 369.78,156.16 367.48,158 368.28,155.01" fill="#0c1838" />
<polygon points="370.62,149.06 373.38,150.21 374.42,147.91 375.46,150.21 378.22,149.06 375.92,151.59 376.72,154.58 374.42,152.74 372.12,154.58 372.93,151.59" fill="#0c1838" />
<polygon points="375.26,145.65 378.02,146.8 379.06,144.5 380.1,146.8 382.86,145.65 380.56,148.18 381.36,151.17 379.06,149.33 376.76,151.17 377.56,148.18" fill="#0c1838" />
<polygon points="379.9,142.23 382.66,143.38 383.7,141.08 384.74,143.38 387.5,142.23 385.19,144.76 386,147.75 383.7,145.91 381.4,147.75 382.2,144.76" fill="#0c1838" />
<polygon points="384.54,138.82 387.3,139.97 388.34,137.67 389.38,139.97 392.13,138.82 389.83,141.35 390.64,144.34 388.34,142.5 386.04,144.34 386.84,141.35" fill="#0c1838" />
<polygon points="389.19,135.4 391.94,136.55 392.98,134.25 394.02,136.55 396.78,135.4 394.48,137.93 395.28,140.92 392.98,139.08 390.68,140.92 391.49,137.93" fill="#0c1838" />
<polygon points="393.82,131.99 396.58,133.14 397.62,130.84 398.66,133.14 401.42,131.99 399.12,134.52 399.92,137.51 397.62,135.67 395.32,137.51 396.12,134.52" fill="#0c1838" />
<polygon points="398.46,128.57 401.22,129.72 402.26,127.42 403.3,129.72 406.06,128.57 403.75,131.1 404.56,134.09 402.26,132.25 399.96,134.09 400.76,131.1" fill="#0c1838" />
<polygon points="403.1,125.16 405.86,126.31 406.9,124.01 407.94,126.31 410.69,125.16 408.39,127.69 409.2,130.68 406.9,128.84 404.6,130.68 405.4,127.69" fill="#0c1838" />
<polygon points="407.75,121.74 410.5,122.89 411.54,120.59 412.58,122.89 415.34,121.74 413.04,124.27 413.84,127.26 411.54,125.42 409.24,127.26 410.05,124.27" fill="#0c1838" />
<polygon points="412.38,118.33 415.14,119.48 416.18,117.18 417.22,119.48 419.98,118.33 417.68,120.86 418.48,123.85 416.18,122.01 413.88,123.85 414.69,120.86" fill="#0c1838" />
<polygon points="417.02,114.91 419.78,116.06 420.82,113.76 421.86,116.06 424.62,114.91 422.31,117.44 423.12,120.43 420.82,118.59 418.52,120.43 419.32,117.44" fill="#0c1838" />
<polygon points="421.66,111.5 424.42,112.65 425.46,110.35 426.5,112.65 429.25,111.5 426.95,114.03 427.76,117.02 425.46,115.18 423.16,117.02 423.96,114.03" fill="#0c1838" />
<polygon points="426.31,108.08 429.06,109.23 430.1,106.93 431.14,109.23 433.9,108.08 431.6,110.61 432.4,113.6 430.1,111.76 427.8,113.6 428.61,110.61" fill="#0c1838" />
<polygon points="436.2,100.8 438.96,101.95 440,99.65 441.04,101.95 443.8,100.8 441.5,103.33 442.3,106.32 440,104.48 437.7,106.32 438.5,103.33" fill="#0c1838" />
<polygon points="445.7,93.8 448.46,94.95 449.5,92.65 450.54,94.95 453.3,93.8 451,96.33 451.8,99.32 449.5,97.48 447.2,99.32 448,96.33" fill="#0c1838" />
<polygon points="462.2,81.66 464.96,82.81 466,80.51 467.04,82.81 469.8,81.66 467.5,84.19 468.3,87.18 466,85.34 463.7,87.18 464.5,84.19" fill="#0c1838" />
<line x1="326" y1="178.99" x2="497" y2="53.13" stroke="#6e6e6e" stroke-width="0.8" />
<circle cx="357.5" cy="155.79" r="3.45" fill="#fff" stroke="#000" stroke-width="1.3" />
<circle cx="362.14" cy="152.29" r="3.45" fill="#fff" stroke="#000" stroke-width="1.3" />
<circle cx="366.78" cy="148.78" r="3.45" fill="#fff" stroke="#000" stroke-width="1.3" />
<circle cx="371.42" cy="145.27" r="3.45" fill="#fff" stroke="#000" stroke-width="1.3" />
<circle cx="376.06" cy="141.76" r="3.45" fill="#fff" stroke="#000" stroke-width="1.3" />
<circle cx="380.7" cy="138.25" r="3.45" fill="#fff" stroke="#000" stroke-width="1.3" />
<circle cx="385.34" cy="134.74" r="3.45" fill="#fff" stroke="#000" stroke-width="1.3" />
<circle cx="389.98" cy="131.23" r="3.45" fill="#fff" stroke="#000" stroke-width="1.3" />
<circle cx="394.62" cy="127.72" r="3.45" fill="#fff" stroke="#000" stroke-width="1.3" />
<circle cx="399.26" cy="124.21" r="3.45" fill="#fff" stroke="#000" stroke-width="1.3" />
<circle cx="403.9" cy="120.7" r="3.45" fill="#fff" stroke="#000" stroke-width="1.3" />
<circle cx="408.54" cy="117.19" r="3.45" fill="#fff" stroke="#000" stroke-width="1.3" />
<circle cx="413.18" cy="113.68" r="3.45" fill="#fff" stroke="#000" stroke-width="1.3" />
<circle cx="417.82" cy="110.17" r="3.45" fill="#fff" stroke="#000" stroke-width="1.3" />
<circle cx="422.46" cy="106.66" r="3.45" fill="#fff" stroke="#000" stroke-width="1.3" />
<circle cx="427.1" cy="103.15" r="3.45" fill="#fff" stroke="#000" stroke-width="1.3" />
<circle cx="431.74" cy="99.64" r="3.45" fill="#fff" stroke="#000" stroke-width="1.3" />
<circle cx="438.6" cy="94.45" r="3.45" fill="#fff" stroke="#000" stroke-width="1.3" />
<circle cx="447.9" cy="87.42" r="3.45" fill="#fff" stroke="#000" stroke-width="1.3" />
<circle cx="464.6" cy="74.79" r="3.45" fill="#fff" stroke="#000" stroke-width="1.3" />
<polyline points="386,231.87 387.5,229.58 389,227.29 390.5,225 392,222.71 393.5,220.42 395,218.13 396.5,215.84 398,213.55 399.5,211.26 401,208.98 402.5,206.69 404,204.4 405.5,202.11 407,199.82 408.5,197.53 410,195.24 411.5,192.95 413,190.66 414.5,188.38 416,186.09 417.5,183.8 419,181.51 420.5,179.23 422,176.94 423.5,174.65 425,172.37 426.5,170.08 428,167.8 429.5,165.52 431,163.24 432.5,160.96 434,158.68 435.5,156.41 437,154.14 438.5,151.87 440,149.61 441.5,147.35 443,145.1 444.5,142.85 446,140.62 447.5,138.39 449,136.18 450.5,133.98 452,131.8 453.5,129.64 455,127.5 456.5,125.4 458,123.32 459.5,121.28 461,119.29 462.5,117.35 464,115.46 465.5,113.64 467,111.89 468.5,110.21 470,108.62 471.5,107.13 473,105.73 474.5,104.43 476,103.23 477.5,102.14 479,101.15 480.5,100.26 482,99.47 483.5,98.76 485,98.15 486.5,97.61 488,97.14 489.5,96.74 491,96.4 492.5,96.1 494,95.85 495.5,95.63 497,95.45 498.5,95.3 500,95.17 501.5,95.06" fill="none" stroke="#3563c8" stroke-width="7.6" stroke-linecap="butt" stroke-linejoin="round"/>
<polyline points="386,233.07 387.5,230.78 389,228.49 390.5,226.2 392,223.91 393.5,221.62 395,219.33 396.5,217.04 398,214.75 399.5,212.46 401,210.18 402.5,207.89 404,205.6 405.5,203.31 407,201.02 408.5,198.73 410,196.44 411.5,194.15 413,191.86 414.5,189.58 416,187.29 417.5,185 419,182.71 420.5,180.43 422,178.14 423.5,175.85 425,173.57 426.5,171.28 428,169 429.5,166.72 431,164.44 432.5,162.16 434,159.88 435.5,157.61 437,155.34 438.5,153.07 440,150.81 441.5,148.55 443,146.3 444.5,144.05 446,141.82 447.5,139.59 449,137.38 450.5,135.18 452,133 453.5,130.84 455,128.7 456.5,126.6 458,124.52 459.5,122.48 461,120.49 462.5,118.55 464,116.66 465.5,114.84 467,113.09 468.5,111.41 470,109.82 471.5,108.33 473,106.93 474.5,105.63 476,104.43 477.5,103.34 479,102.35 480.5,101.46 482,100.67 483.5,99.96 485,99.35 486.5,98.81 488,98.34 489.5,97.94 491,97.6 492.5,97.3 494,97.05 495.5,96.83 497,96.65 498.5,96.5 500,96.37 501.5,96.26" fill="none" stroke="#1a2f80" stroke-width="0.9"  stroke-linecap="round" stroke-linejoin="round"/>
<polyline points="377.5,230.28 379,227.8 380.5,225.32 382,222.85 383.5,220.38 385,217.91 386.5,215.44 388,212.97 389.5,210.5 391,208.03 392.5,205.57 394,203.11 395.5,200.65 397,198.2 398.5,195.74 400,193.3 401.5,190.85 403,188.41 404.5,185.97 406,183.54 407.5,181.12 409,178.7 410.5,176.28 412,173.88 413.5,171.48 415,169.09 416.5,166.71 418,164.34 419.5,161.99 421,159.64 422.5,157.31 424,154.99 425.5,152.69 427,150.41 428.5,148.15 430,145.91 431.5,143.69 433,141.49 434.5,139.32 436,137.18 437.5,135.07 439,132.99 440.5,130.95 442,128.94 443.5,126.98 445,125.05 446.5,123.17 448,121.34 449.5,119.55 451,117.82 452.5,116.13 454,114.5 455.5,112.93 457,111.42 458.5,109.96 460,108.57 461.5,107.23 463,105.96 464.5,104.75 466,103.6 467.5,102.51 469,101.48 470.5,100.5 472,99.59 473.5,98.73 475,97.93 476.5,97.18 478,96.48 479.5,95.83 481,95.22 482.5,94.66 484,94.14 485.5,93.66 487,93.22 488.5,92.81 490,92.44 491.5,92.09 493,91.78 494.5,91.49" fill="none" stroke="#b6b6b6" stroke-width="10.2" stroke-linecap="butt" stroke-linejoin="round"/>
<polyline points="377.5,230.28 379,227.8 380.5,225.32 382,222.85 383.5,220.38 385,217.91 386.5,215.44 388,212.97 389.5,210.5 391,208.03 392.5,205.57 394,203.11 395.5,200.65 397,198.2 398.5,195.74 400,193.3 401.5,190.85 403,188.41 404.5,185.97 406,183.54 407.5,181.12 409,178.7 410.5,176.28 412,173.88 413.5,171.48 415,169.09 416.5,166.71 418,164.34 419.5,161.99 421,159.64 422.5,157.31 424,154.99 425.5,152.69 427,150.41 428.5,148.15 430,145.91 431.5,143.69 433,141.49 434.5,139.32 436,137.18 437.5,135.07 439,132.99 440.5,130.95 442,128.94 443.5,126.98 445,125.05 446.5,123.17 448,121.34 449.5,119.55 451,117.82 452.5,116.13 454,114.5 455.5,112.93 457,111.42 458.5,109.96 460,108.57 461.5,107.23 463,105.96 464.5,104.75 466,103.6 467.5,102.51 469,101.48 470.5,100.5 472,99.59 473.5,98.73 475,97.93 476.5,97.18 478,96.48 479.5,95.83 481,95.22 482.5,94.66 484,94.14 485.5,93.66 487,93.22 488.5,92.81 490,92.44 491.5,92.09 493,91.78 494.5,91.49" fill="none" stroke="#808080" stroke-width="0.8"  stroke-linecap="round" stroke-linejoin="round"/>
<circle cx="394.6" cy="186.2" r="3.4" fill="#000" stroke="none" stroke-width="1" />
<circle cx="398.5" cy="182.3" r="3.4" fill="#000" stroke="none" stroke-width="1" />
<circle cx="403.1" cy="176.2" r="3.4" fill="#000" stroke="none" stroke-width="1" />
<circle cx="407.7" cy="170" r="3.4" fill="#000" stroke="none" stroke-width="1" />
<circle cx="410.8" cy="166.5" r="3.4" fill="#000" stroke="none" stroke-width="1" />
<circle cx="413.8" cy="162.3" r="3.4" fill="#000" stroke="none" stroke-width="1" />
<circle cx="417.7" cy="156.9" r="3.4" fill="#000" stroke="none" stroke-width="1" />
<circle cx="422.5" cy="151.5" r="3.4" fill="#000" stroke="none" stroke-width="1" />
<circle cx="427.2" cy="146" r="3.4" fill="#000" stroke="none" stroke-width="1" />
<circle cx="432.9" cy="139.7" r="3.4" fill="#000" stroke="none" stroke-width="1" />
<circle cx="439.1" cy="132.5" r="3.4" fill="#000" stroke="none" stroke-width="1" />
<circle cx="448.3" cy="122.4" r="3.4" fill="#000" stroke="none" stroke-width="1" />
<circle cx="464.1" cy="104.8" r="3.4" fill="#000" stroke="none" stroke-width="1" />
<polygon points="433.1,157.7 434.38,161.13 438.05,161.29 435.18,163.57 436.16,167.11 433.1,165.08 430.04,167.11 431.02,163.57 428.15,161.29 431.82,161.13" fill="#000" stroke="none" stroke-width="1"/>
<polygon points="440.2,148.8 441.48,152.23 445.15,152.39 442.28,154.67 443.26,158.21 440.2,156.18 437.14,158.21 438.12,154.67 435.25,152.39 438.92,152.23" fill="#000" stroke="none" stroke-width="1"/>
<polygon points="449.2,135 450.48,138.43 454.15,138.59 451.28,140.87 452.26,144.41 449.2,142.38 446.14,144.41 447.12,140.87 444.25,138.59 447.92,138.43" fill="#000" stroke="none" stroke-width="1"/>
<polygon points="464.6,112.9 465.88,116.33 469.55,116.49 466.68,118.77 467.66,122.31 464.6,120.28 461.54,122.31 462.52,118.77 459.65,116.49 463.32,116.33" fill="#000" stroke="none" stroke-width="1"/>
</g>
<text transform="translate(454.30,172.90) scale(0.970,0.900)" font-size="13" fill="#000" ><tspan font-style="italic">η</tspan><tspan font-size="8.5" dy="2.5">0</tspan><tspan font-size="8.5" dy="-6.5">BP</tspan><tspan dy="4"> , cP</tspan></text>
<rect x="458.2" y="190.5" width="15.8" height="33.1" fill="#aaaaaa" stroke="none" stroke-width="1" />
<rect x="478.3" y="212.5" width="16.4" height="11.1" fill="#3a6cc8" stroke="none" stroke-width="1" />
<line x1="466.6" y1="187.2" x2="466.6" y2="192.4" stroke="#000" stroke-width="1.4" />
<line x1="486.4" y1="211.6" x2="486.4" y2="213" stroke="#000" stroke-width="1.0" />
<polyline points="449.7,183.3 456.2,183.3 456.2,223.6 449.7,223.6" fill="none" stroke="#000" stroke-width="1.0" stroke-linecap="butt" stroke-linejoin="miter"/>
<text transform="translate(438.50,189.20) scale(0.833,1.000)" font-size="12" fill="#000" >2</text>
<text transform="translate(438.25,228.50) scale(1.050,1.000)" font-size="12" fill="#000" >1</text>
<circle cx="335.2" cy="61.5" r="3.5" fill="#000" stroke="none" stroke-width="1" />
<circle cx="352.5" cy="61.5" r="3.2" fill="#fff" stroke="#000" stroke-width="1.1" />
<polygon points="335.2,73 336.53,76.57 340.34,76.73 337.36,79.1 338.37,82.77 335.2,80.67 332.03,82.77 333.04,79.1 330.06,76.73 333.87,76.57" fill="#000" stroke="none" stroke-width="1"/>
<polygon points="352.5,73.3 353.76,76.67 357.35,76.82 354.54,79.06 355.5,82.53 352.5,80.54 349.5,82.53 350.46,79.06 347.65,76.82 351.24,76.67" fill="#fff" stroke="#000" stroke-width="1.1"/>
<text transform="translate(364.80,65.75) scale(0.952,1.056)" font-size="13" fill="#000" >20.2 ± 1.6°C</text>
<text transform="translate(364.80,83.30) scale(0.952,1.137)" font-size="13" fill="#000" >38.0 ± 2.0°C</text>
<text transform="translate(328.66,99.60) scale(1.041,1.062)" font-size="13" fill="#000" ><tspan font-style="italic">G′</tspan>  <tspan font-style="italic">G″</tspan></text>
<line x1="319.86" y1="237.2" x2="319.86" y2="233.7" stroke="#000" stroke-width="0.9" />
<line x1="319.86" y1="46.7" x2="319.86" y2="50.2" stroke="#000" stroke-width="0.9" />
<line x1="328.97" y1="237.2" x2="328.97" y2="233.7" stroke="#000" stroke-width="0.9" />
<line x1="328.97" y1="46.7" x2="328.97" y2="50.2" stroke="#000" stroke-width="0.9" />
<line x1="335.43" y1="237.2" x2="335.43" y2="233.7" stroke="#000" stroke-width="0.9" />
<line x1="335.43" y1="46.7" x2="335.43" y2="50.2" stroke="#000" stroke-width="0.9" />
<line x1="340.44" y1="237.2" x2="340.44" y2="233.7" stroke="#000" stroke-width="0.9" />
<line x1="340.44" y1="46.7" x2="340.44" y2="50.2" stroke="#000" stroke-width="0.9" />
<line x1="344.53" y1="237.2" x2="344.53" y2="233.7" stroke="#000" stroke-width="0.9" />
<line x1="344.53" y1="46.7" x2="344.53" y2="50.2" stroke="#000" stroke-width="0.9" />
<line x1="347.99" y1="237.2" x2="347.99" y2="233.7" stroke="#000" stroke-width="0.9" />
<line x1="347.99" y1="46.7" x2="347.99" y2="50.2" stroke="#000" stroke-width="0.9" />
<line x1="350.99" y1="237.2" x2="350.99" y2="233.7" stroke="#000" stroke-width="0.9" />
<line x1="350.99" y1="46.7" x2="350.99" y2="50.2" stroke="#000" stroke-width="0.9" />
<line x1="353.63" y1="237.2" x2="353.63" y2="233.7" stroke="#000" stroke-width="0.9" />
<line x1="353.63" y1="46.7" x2="353.63" y2="50.2" stroke="#000" stroke-width="0.9" />
<line x1="356" y1="237.2" x2="356" y2="231.7" stroke="#000" stroke-width="0.9" />
<line x1="356" y1="46.7" x2="356" y2="52.2" stroke="#000" stroke-width="0.9" />
<line x1="371.56" y1="237.2" x2="371.56" y2="233.7" stroke="#000" stroke-width="0.9" />
<line x1="371.56" y1="46.7" x2="371.56" y2="50.2" stroke="#000" stroke-width="0.9" />
<line x1="380.67" y1="237.2" x2="380.67" y2="233.7" stroke="#000" stroke-width="0.9" />
<line x1="380.67" y1="46.7" x2="380.67" y2="50.2" stroke="#000" stroke-width="0.9" />
<line x1="387.13" y1="237.2" x2="387.13" y2="233.7" stroke="#000" stroke-width="0.9" />
<line x1="387.13" y1="46.7" x2="387.13" y2="50.2" stroke="#000" stroke-width="0.9" />
<line x1="392.14" y1="237.2" x2="392.14" y2="233.7" stroke="#000" stroke-width="0.9" />
<line x1="392.14" y1="46.7" x2="392.14" y2="50.2" stroke="#000" stroke-width="0.9" />
<line x1="396.23" y1="237.2" x2="396.23" y2="233.7" stroke="#000" stroke-width="0.9" />
<line x1="396.23" y1="46.7" x2="396.23" y2="50.2" stroke="#000" stroke-width="0.9" />
<line x1="399.69" y1="237.2" x2="399.69" y2="233.7" stroke="#000" stroke-width="0.9" />
<line x1="399.69" y1="46.7" x2="399.69" y2="50.2" stroke="#000" stroke-width="0.9" />
<line x1="402.69" y1="237.2" x2="402.69" y2="233.7" stroke="#000" stroke-width="0.9" />
<line x1="402.69" y1="46.7" x2="402.69" y2="50.2" stroke="#000" stroke-width="0.9" />
<line x1="405.33" y1="237.2" x2="405.33" y2="233.7" stroke="#000" stroke-width="0.9" />
<line x1="405.33" y1="46.7" x2="405.33" y2="50.2" stroke="#000" stroke-width="0.9" />
<line x1="407.7" y1="237.2" x2="407.7" y2="231.7" stroke="#000" stroke-width="0.9" />
<line x1="407.7" y1="46.7" x2="407.7" y2="52.2" stroke="#000" stroke-width="0.9" />
<line x1="423.26" y1="237.2" x2="423.26" y2="233.7" stroke="#000" stroke-width="0.9" />
<line x1="423.26" y1="46.7" x2="423.26" y2="50.2" stroke="#000" stroke-width="0.9" />
<line x1="432.37" y1="237.2" x2="432.37" y2="233.7" stroke="#000" stroke-width="0.9" />
<line x1="432.37" y1="46.7" x2="432.37" y2="50.2" stroke="#000" stroke-width="0.9" />
<line x1="438.83" y1="237.2" x2="438.83" y2="233.7" stroke="#000" stroke-width="0.9" />
<line x1="438.83" y1="46.7" x2="438.83" y2="50.2" stroke="#000" stroke-width="0.9" />
<line x1="443.84" y1="237.2" x2="443.84" y2="233.7" stroke="#000" stroke-width="0.9" />
<line x1="443.84" y1="46.7" x2="443.84" y2="50.2" stroke="#000" stroke-width="0.9" />
<line x1="447.93" y1="237.2" x2="447.93" y2="233.7" stroke="#000" stroke-width="0.9" />
<line x1="447.93" y1="46.7" x2="447.93" y2="50.2" stroke="#000" stroke-width="0.9" />
<line x1="451.39" y1="237.2" x2="451.39" y2="233.7" stroke="#000" stroke-width="0.9" />
<line x1="451.39" y1="46.7" x2="451.39" y2="50.2" stroke="#000" stroke-width="0.9" />
<line x1="454.39" y1="237.2" x2="454.39" y2="233.7" stroke="#000" stroke-width="0.9" />
<line x1="454.39" y1="46.7" x2="454.39" y2="50.2" stroke="#000" stroke-width="0.9" />
<line x1="457.03" y1="237.2" x2="457.03" y2="233.7" stroke="#000" stroke-width="0.9" />
<line x1="457.03" y1="46.7" x2="457.03" y2="50.2" stroke="#000" stroke-width="0.9" />
<line x1="459.4" y1="237.2" x2="459.4" y2="231.7" stroke="#000" stroke-width="0.9" />
<line x1="459.4" y1="46.7" x2="459.4" y2="52.2" stroke="#000" stroke-width="0.9" />
<line x1="474.96" y1="237.2" x2="474.96" y2="233.7" stroke="#000" stroke-width="0.9" />
<line x1="474.96" y1="46.7" x2="474.96" y2="50.2" stroke="#000" stroke-width="0.9" />
<line x1="484.07" y1="237.2" x2="484.07" y2="233.7" stroke="#000" stroke-width="0.9" />
<line x1="484.07" y1="46.7" x2="484.07" y2="50.2" stroke="#000" stroke-width="0.9" />
<line x1="490.53" y1="237.2" x2="490.53" y2="233.7" stroke="#000" stroke-width="0.9" />
<line x1="490.53" y1="46.7" x2="490.53" y2="50.2" stroke="#000" stroke-width="0.9" />
<line x1="495.54" y1="237.2" x2="495.54" y2="233.7" stroke="#000" stroke-width="0.9" />
<line x1="495.54" y1="46.7" x2="495.54" y2="50.2" stroke="#000" stroke-width="0.9" />
<line x1="499.63" y1="237.2" x2="499.63" y2="233.7" stroke="#000" stroke-width="0.9" />
<line x1="499.63" y1="46.7" x2="499.63" y2="50.2" stroke="#000" stroke-width="0.9" />
<line x1="503.09" y1="237.2" x2="503.09" y2="233.7" stroke="#000" stroke-width="0.9" />
<line x1="503.09" y1="46.7" x2="503.09" y2="50.2" stroke="#000" stroke-width="0.9" />
<line x1="506.09" y1="237.2" x2="506.09" y2="233.7" stroke="#000" stroke-width="0.9" />
<line x1="506.09" y1="46.7" x2="506.09" y2="50.2" stroke="#000" stroke-width="0.9" />
<line x1="508.73" y1="237.2" x2="508.73" y2="233.7" stroke="#000" stroke-width="0.9" />
<line x1="508.73" y1="46.7" x2="508.73" y2="50.2" stroke="#000" stroke-width="0.9" />
<line x1="318.5" y1="234.66" x2="322" y2="234.66" stroke="#000" stroke-width="0.9" />
<line x1="511" y1="234.66" x2="507.5" y2="234.66" stroke="#000" stroke-width="0.9" />
<line x1="318.5" y1="227.62" x2="322" y2="227.62" stroke="#000" stroke-width="0.9" />
<line x1="511" y1="227.62" x2="507.5" y2="227.62" stroke="#000" stroke-width="0.9" />
<line x1="318.5" y1="222.62" x2="322" y2="222.62" stroke="#000" stroke-width="0.9" />
<line x1="511" y1="222.62" x2="507.5" y2="222.62" stroke="#000" stroke-width="0.9" />
<line x1="318.5" y1="218.74" x2="322" y2="218.74" stroke="#000" stroke-width="0.9" />
<line x1="511" y1="218.74" x2="507.5" y2="218.74" stroke="#000" stroke-width="0.9" />
<line x1="318.5" y1="215.57" x2="322" y2="215.57" stroke="#000" stroke-width="0.9" />
<line x1="511" y1="215.57" x2="507.5" y2="215.57" stroke="#000" stroke-width="0.9" />
<line x1="318.5" y1="212.9" x2="322" y2="212.9" stroke="#000" stroke-width="0.9" />
<line x1="511" y1="212.9" x2="507.5" y2="212.9" stroke="#000" stroke-width="0.9" />
<line x1="318.5" y1="210.58" x2="322" y2="210.58" stroke="#000" stroke-width="0.9" />
<line x1="511" y1="210.58" x2="507.5" y2="210.58" stroke="#000" stroke-width="0.9" />
<line x1="318.5" y1="208.53" x2="322" y2="208.53" stroke="#000" stroke-width="0.9" />
<line x1="511" y1="208.53" x2="507.5" y2="208.53" stroke="#000" stroke-width="0.9" />
<line x1="318.5" y1="206.7" x2="324" y2="206.7" stroke="#000" stroke-width="0.9" />
<line x1="511" y1="206.7" x2="505.5" y2="206.7" stroke="#000" stroke-width="0.9" />
<line x1="318.5" y1="194.66" x2="322" y2="194.66" stroke="#000" stroke-width="0.9" />
<line x1="511" y1="194.66" x2="507.5" y2="194.66" stroke="#000" stroke-width="0.9" />
<line x1="318.5" y1="187.62" x2="322" y2="187.62" stroke="#000" stroke-width="0.9" />
<line x1="511" y1="187.62" x2="507.5" y2="187.62" stroke="#000" stroke-width="0.9" />
<line x1="318.5" y1="182.62" x2="322" y2="182.62" stroke="#000" stroke-width="0.9" />
<line x1="511" y1="182.62" x2="507.5" y2="182.62" stroke="#000" stroke-width="0.9" />
<line x1="318.5" y1="178.74" x2="322" y2="178.74" stroke="#000" stroke-width="0.9" />
<line x1="511" y1="178.74" x2="507.5" y2="178.74" stroke="#000" stroke-width="0.9" />
<line x1="318.5" y1="175.57" x2="322" y2="175.57" stroke="#000" stroke-width="0.9" />
<line x1="511" y1="175.57" x2="507.5" y2="175.57" stroke="#000" stroke-width="0.9" />
<line x1="318.5" y1="172.9" x2="322" y2="172.9" stroke="#000" stroke-width="0.9" />
<line x1="511" y1="172.9" x2="507.5" y2="172.9" stroke="#000" stroke-width="0.9" />
<line x1="318.5" y1="170.58" x2="322" y2="170.58" stroke="#000" stroke-width="0.9" />
<line x1="511" y1="170.58" x2="507.5" y2="170.58" stroke="#000" stroke-width="0.9" />
<line x1="318.5" y1="168.53" x2="322" y2="168.53" stroke="#000" stroke-width="0.9" />
<line x1="511" y1="168.53" x2="507.5" y2="168.53" stroke="#000" stroke-width="0.9" />
<line x1="318.5" y1="166.7" x2="324" y2="166.7" stroke="#000" stroke-width="0.9" />
<line x1="511" y1="166.7" x2="505.5" y2="166.7" stroke="#000" stroke-width="0.9" />
<line x1="318.5" y1="154.66" x2="322" y2="154.66" stroke="#000" stroke-width="0.9" />
<line x1="511" y1="154.66" x2="507.5" y2="154.66" stroke="#000" stroke-width="0.9" />
<line x1="318.5" y1="147.62" x2="322" y2="147.62" stroke="#000" stroke-width="0.9" />
<line x1="511" y1="147.62" x2="507.5" y2="147.62" stroke="#000" stroke-width="0.9" />
<line x1="318.5" y1="142.62" x2="322" y2="142.62" stroke="#000" stroke-width="0.9" />
<line x1="511" y1="142.62" x2="507.5" y2="142.62" stroke="#000" stroke-width="0.9" />
<line x1="318.5" y1="138.74" x2="322" y2="138.74" stroke="#000" stroke-width="0.9" />
<line x1="511" y1="138.74" x2="507.5" y2="138.74" stroke="#000" stroke-width="0.9" />
<line x1="318.5" y1="135.57" x2="322" y2="135.57" stroke="#000" stroke-width="0.9" />
<line x1="511" y1="135.57" x2="507.5" y2="135.57" stroke="#000" stroke-width="0.9" />
<line x1="318.5" y1="132.9" x2="322" y2="132.9" stroke="#000" stroke-width="0.9" />
<line x1="511" y1="132.9" x2="507.5" y2="132.9" stroke="#000" stroke-width="0.9" />
<line x1="318.5" y1="130.58" x2="322" y2="130.58" stroke="#000" stroke-width="0.9" />
<line x1="511" y1="130.58" x2="507.5" y2="130.58" stroke="#000" stroke-width="0.9" />
<line x1="318.5" y1="128.53" x2="322" y2="128.53" stroke="#000" stroke-width="0.9" />
<line x1="511" y1="128.53" x2="507.5" y2="128.53" stroke="#000" stroke-width="0.9" />
<line x1="318.5" y1="126.7" x2="324" y2="126.7" stroke="#000" stroke-width="0.9" />
<line x1="511" y1="126.7" x2="505.5" y2="126.7" stroke="#000" stroke-width="0.9" />
<line x1="318.5" y1="114.66" x2="322" y2="114.66" stroke="#000" stroke-width="0.9" />
<line x1="511" y1="114.66" x2="507.5" y2="114.66" stroke="#000" stroke-width="0.9" />
<line x1="318.5" y1="107.62" x2="322" y2="107.62" stroke="#000" stroke-width="0.9" />
<line x1="511" y1="107.62" x2="507.5" y2="107.62" stroke="#000" stroke-width="0.9" />
<line x1="318.5" y1="102.62" x2="322" y2="102.62" stroke="#000" stroke-width="0.9" />
<line x1="511" y1="102.62" x2="507.5" y2="102.62" stroke="#000" stroke-width="0.9" />
<line x1="318.5" y1="98.74" x2="322" y2="98.74" stroke="#000" stroke-width="0.9" />
<line x1="511" y1="98.74" x2="507.5" y2="98.74" stroke="#000" stroke-width="0.9" />
<line x1="318.5" y1="95.57" x2="322" y2="95.57" stroke="#000" stroke-width="0.9" />
<line x1="511" y1="95.57" x2="507.5" y2="95.57" stroke="#000" stroke-width="0.9" />
<line x1="318.5" y1="92.9" x2="322" y2="92.9" stroke="#000" stroke-width="0.9" />
<line x1="511" y1="92.9" x2="507.5" y2="92.9" stroke="#000" stroke-width="0.9" />
<line x1="318.5" y1="90.58" x2="322" y2="90.58" stroke="#000" stroke-width="0.9" />
<line x1="511" y1="90.58" x2="507.5" y2="90.58" stroke="#000" stroke-width="0.9" />
<line x1="318.5" y1="88.53" x2="322" y2="88.53" stroke="#000" stroke-width="0.9" />
<line x1="511" y1="88.53" x2="507.5" y2="88.53" stroke="#000" stroke-width="0.9" />
<line x1="318.5" y1="86.7" x2="324" y2="86.7" stroke="#000" stroke-width="0.9" />
<line x1="511" y1="86.7" x2="505.5" y2="86.7" stroke="#000" stroke-width="0.9" />
<line x1="318.5" y1="74.66" x2="322" y2="74.66" stroke="#000" stroke-width="0.9" />
<line x1="511" y1="74.66" x2="507.5" y2="74.66" stroke="#000" stroke-width="0.9" />
<line x1="318.5" y1="67.62" x2="322" y2="67.62" stroke="#000" stroke-width="0.9" />
<line x1="511" y1="67.62" x2="507.5" y2="67.62" stroke="#000" stroke-width="0.9" />
<line x1="318.5" y1="62.62" x2="322" y2="62.62" stroke="#000" stroke-width="0.9" />
<line x1="511" y1="62.62" x2="507.5" y2="62.62" stroke="#000" stroke-width="0.9" />
<line x1="318.5" y1="58.74" x2="322" y2="58.74" stroke="#000" stroke-width="0.9" />
<line x1="511" y1="58.74" x2="507.5" y2="58.74" stroke="#000" stroke-width="0.9" />
<line x1="318.5" y1="55.57" x2="322" y2="55.57" stroke="#000" stroke-width="0.9" />
<line x1="511" y1="55.57" x2="507.5" y2="55.57" stroke="#000" stroke-width="0.9" />
<line x1="318.5" y1="52.9" x2="322" y2="52.9" stroke="#000" stroke-width="0.9" />
<line x1="511" y1="52.9" x2="507.5" y2="52.9" stroke="#000" stroke-width="0.9" />
<line x1="318.5" y1="50.58" x2="322" y2="50.58" stroke="#000" stroke-width="0.9" />
<line x1="511" y1="50.58" x2="507.5" y2="50.58" stroke="#000" stroke-width="0.9" />
<line x1="318.5" y1="48.53" x2="322" y2="48.53" stroke="#000" stroke-width="0.9" />
<line x1="511" y1="48.53" x2="507.5" y2="48.53" stroke="#000" stroke-width="0.9" />
<rect x="318.5" y="46.7" width="192.5" height="190.5" fill="none" stroke="#000" stroke-width="1.5" />
<text transform="translate(295.44,51.50) scale(1.080,1.030)" font-size="13" fill="#000" >10<tspan font-size="8.3" dy="-4.2">0</tspan></text>
<text transform="translate(288.96,91.50) scale(1.080,1.030)" font-size="13" fill="#000" >10<tspan font-size="11.5" dy="-3.3" letter-spacing="0.2">−</tspan><tspan font-size="8.3" dy="-0.9">1</tspan></text>
<text transform="translate(287.88,131.50) scale(1.080,1.030)" font-size="13" fill="#000" >10<tspan font-size="11.5" dy="-3.3" letter-spacing="0.2">−</tspan><tspan font-size="8.3" dy="-0.9">2</tspan></text>
<text transform="translate(287.88,171.50) scale(1.080,1.030)" font-size="13" fill="#000" >10<tspan font-size="11.5" dy="-3.3" letter-spacing="0.2">−</tspan><tspan font-size="8.3" dy="-0.9">3</tspan></text>
<text transform="translate(287.88,211.50) scale(1.080,1.030)" font-size="13" fill="#000" >10<tspan font-size="11.5" dy="-3.3" letter-spacing="0.2">−</tspan><tspan font-size="8.3" dy="-0.9">4</tspan></text>
<text transform="translate(346.28,251.40) scale(1.080,1.030)" font-size="13" fill="#000" >10<tspan font-size="8.3" dy="-4.2">0</tspan></text>
<text transform="translate(398.52,251.40) scale(1.080,1.030)" font-size="13" fill="#000" >10<tspan font-size="8.3" dy="-4.2">1</tspan></text>
<text transform="translate(449.68,251.40) scale(1.080,1.030)" font-size="13" fill="#000" >10<tspan font-size="8.3" dy="-4.2">2</tspan></text>
<text transform="translate(501.38,251.40) scale(1.080,1.030)" font-size="13" fill="#000" >10<tspan font-size="8.3" dy="-4.2">3</tspan></text>
<text transform="translate(383.80,267.55) scale(1.148,0.975)" font-size="13" fill="#000" ><tspan font-style="italic">ω</tspan> ,  rad s<tspan font-size="9" dy="-4.5">−1</tspan></text>
<text transform="translate(281.36,161.48) rotate(-90) scale(1.181,0.970)" font-size="13" fill="#000" ><tspan font-style="italic">G</tspan> ,  Pa</text>
<text transform="translate(19.52,286.98) scale(1.080,1.179)" font-size="20" fill="#000" >(c)</text>
<rect x="156.8" y="314.9" width="84.1" height="50" fill="#f9cfb6" stroke="none" stroke-width="1" />
<text transform="translate(110.11,308.10) scale(0.994,1.113)" font-size="13.5" fill="#000" >19.2 ± 0.4°C</text>
<text transform="translate(56.90,336.50) scale(1.215,1.200)" font-size="14" fill="#000" >#1</text>
<line x1="56" y1="346.15" x2="157.5" y2="346.15" stroke="#c8c8c8" stroke-width="0.6" stroke-dasharray="1.2,1.2"/>
<polyline points="56.6,342.55 72,344.25 79.5,344.85 85.7,345.15 91.1,345.35 95,345.45 98.9,345.46 102.8,345.47 106.7,345.49 110.6,345.5 114.5,345.51 118.4,345.52 122.3,345.53 126.2,345.55 130.1,345.56 134,345.57 137.9,345.58 141.8,345.59 145.7,345.6 149.6,345.62 153.5,345.63" fill="none" stroke="#a4a4a4" stroke-width="1.0"  stroke-linecap="round" stroke-linejoin="round"/>
<circle cx="56.6" cy="342.55" r="1.75" fill="#fff" stroke="#a4a4a4" stroke-width="0.85" />
<circle cx="72" cy="344.25" r="1.75" fill="#fff" stroke="#a4a4a4" stroke-width="0.85" />
<circle cx="79.5" cy="344.85" r="1.75" fill="#fff" stroke="#a4a4a4" stroke-width="0.85" />
<circle cx="85.7" cy="345.15" r="1.75" fill="#fff" stroke="#a4a4a4" stroke-width="0.85" />
<circle cx="91.1" cy="345.35" r="1.75" fill="#fff" stroke="#a4a4a4" stroke-width="0.85" />
<circle cx="95" cy="345.45" r="1.75" fill="#fff" stroke="#a4a4a4" stroke-width="0.85" />
<circle cx="98.9" cy="345.46" r="1.75" fill="#fff" stroke="#a4a4a4" stroke-width="0.85" />
<circle cx="102.8" cy="345.47" r="1.75" fill="#fff" stroke="#a4a4a4" stroke-width="0.85" />
<circle cx="106.7" cy="345.49" r="1.75" fill="#fff" stroke="#a4a4a4" stroke-width="0.85" />
<circle cx="110.6" cy="345.5" r="1.75" fill="#fff" stroke="#a4a4a4" stroke-width="0.85" />
<circle cx="114.5" cy="345.51" r="1.75" fill="#fff" stroke="#a4a4a4" stroke-width="0.85" />
<circle cx="118.4" cy="345.52" r="1.75" fill="#fff" stroke="#a4a4a4" stroke-width="0.85" />
<circle cx="122.3" cy="345.53" r="1.75" fill="#fff" stroke="#a4a4a4" stroke-width="0.85" />
<circle cx="126.2" cy="345.55" r="1.75" fill="#fff" stroke="#a4a4a4" stroke-width="0.85" />
<circle cx="130.1" cy="345.56" r="1.75" fill="#fff" stroke="#a4a4a4" stroke-width="0.85" />
<circle cx="134" cy="345.57" r="1.75" fill="#fff" stroke="#a4a4a4" stroke-width="0.85" />
<circle cx="137.9" cy="345.58" r="1.75" fill="#fff" stroke="#a4a4a4" stroke-width="0.85" />
<circle cx="141.8" cy="345.59" r="1.75" fill="#fff" stroke="#a4a4a4" stroke-width="0.85" />
<circle cx="145.7" cy="345.6" r="1.75" fill="#fff" stroke="#a4a4a4" stroke-width="0.85" />
<circle cx="149.6" cy="345.62" r="1.75" fill="#fff" stroke="#a4a4a4" stroke-width="0.85" />
<circle cx="153.5" cy="345.63" r="1.75" fill="#fff" stroke="#a4a4a4" stroke-width="0.85" />
<polygon points="157.2,344.34 158.1,344.3 159,344.27 159.9,344.23 160.8,344.19 161.7,344.16 162.6,344.12 163.5,344.08 164.4,344.04 165.3,344.01 166.2,343.97 167.1,343.93 168,343.9 168.9,343.86 169.8,343.82 170.7,343.79 171.6,343.75 172.5,343.71 173.4,343.67 174.3,343.64 175.2,343.6 176.1,343.56 177,343.53 177.9,343.49 178.8,343.45 179.7,343.41 180.6,343.38 181.5,343.34 182.4,343.3 183.3,343.27 184.2,343.23 185.1,343.19 186,343.15 186.9,343.12 187.8,343.08 188.7,343.04 189.6,343.01 190.5,342.96 191.4,342.91 192.3,342.86 193.2,342.81 194.1,342.77 195,342.72 195.9,342.67 196.8,342.62 197.7,342.57 198.6,342.52 199.5,342.47 200.4,342.42 201.3,342.37 202.2,342.32 203.1,342.27 204,342.23 204.9,342.18 205.8,342.17 206.7,342.17 207.6,342.17 208.5,342.17 209.4,342.17 210.3,342.17 211.2,342.17 212.1,342.17 213,342.17 213.9,342.16 214.8,342.16 215.7,342.16 216.6,342.16 217.5,342.16 218.4,342.16 219.3,342.16 220.2,342.16 221.1,342.16 222,342.16 222.9,342.16 223.8,342.16 224.7,342.16 225.6,342.16 226.5,342.15 227.4,342.15 228.3,342.15 229.2,342.15 230.1,342.15 231,342.15 231.9,342.15 232.8,342.15 232.8,346.15 231.9,346.13 231,346.12 230.1,346.11 229.2,346.09 228.3,346.08 227.4,346.07 226.5,346.05 225.6,346.04 224.7,346.03 223.8,346.01 222.9,346 222,345.98 221.1,345.97 220.2,345.96 219.3,345.94 218.4,345.93 217.5,345.92 216.6,345.9 215.7,345.89 214.8,345.88 213.9,345.86 213,345.85 212.1,345.84 211.2,345.82 210.3,345.81 209.4,345.8 208.5,345.78 207.6,345.77 206.7,345.75 205.8,345.74 204.9,345.73 204,345.77 203.1,345.8 202.2,345.84 201.3,345.87 200.4,345.91 199.5,345.94 198.6,345.98 197.7,346.01 196.8,346.05 195.9,346.08 195,346.12 194.1,346.15 193.2,346.19 192.3,346.22 191.4,346.26 190.5,346.29 189.6,346.32 188.7,346.34 187.8,346.37 186.9,346.39 186,346.41 185.1,346.44 184.2,346.46 183.3,346.48 182.4,346.5 181.5,346.53 180.6,346.55 179.7,346.57 178.8,346.6 177.9,346.62 177,346.64 176.1,346.66 175.2,346.69 174.3,346.71 173.4,346.73 172.5,346.76 171.6,346.78 170.7,346.8 169.8,346.82 168.9,346.85 168,346.87 167.1,346.89 166.2,346.92 165.3,346.94 164.4,346.96 163.5,346.98 162.6,347.01 161.7,347.03 160.8,347.05 159.9,347.08 159,347.1 158.1,347.12 157.2,347.14" fill="#a4a4a4" />
<line x1="186" y1="343.5" x2="186" y2="346.06" stroke="#a4a4a4" stroke-width="1.0" />
<line x1="187.8" y1="343.5" x2="187.8" y2="345.94" stroke="#a4a4a4" stroke-width="1.0" />
<line x1="189.6" y1="343.2" x2="189.6" y2="346.12" stroke="#a4a4a4" stroke-width="1.0" />
<line x1="191.4" y1="342.77" x2="191.4" y2="346.4" stroke="#a4a4a4" stroke-width="1.0" />
<line x1="193.2" y1="342.27" x2="193.2" y2="346.74" stroke="#a4a4a4" stroke-width="1.0" />
<line x1="195" y1="341.93" x2="195" y2="346.9" stroke="#a4a4a4" stroke-width="1.0" />
<line x1="196.8" y1="341.24" x2="196.8" y2="347.43" stroke="#a4a4a4" stroke-width="1.0" />
<line x1="198.6" y1="340.43" x2="198.6" y2="348.06" stroke="#a4a4a4" stroke-width="1.0" />
<line x1="200.4" y1="340.16" x2="200.4" y2="348.17" stroke="#a4a4a4" stroke-width="1.0" />
<line x1="202.2" y1="340.03" x2="202.2" y2="348.13" stroke="#a4a4a4" stroke-width="1.0" />
<line x1="204" y1="339.73" x2="204" y2="348.26" stroke="#a4a4a4" stroke-width="1.0" />
<line x1="205.8" y1="339.74" x2="205.8" y2="348.18" stroke="#a4a4a4" stroke-width="1.0" />
<line x1="207.6" y1="339.57" x2="207.6" y2="348.37" stroke="#a4a4a4" stroke-width="1.0" />
<line x1="209.4" y1="339.58" x2="209.4" y2="348.38" stroke="#a4a4a4" stroke-width="1.0" />
<line x1="211.2" y1="339.34" x2="211.2" y2="348.65" stroke="#a4a4a4" stroke-width="1.0" />
<line x1="213" y1="339.58" x2="213" y2="348.43" stroke="#a4a4a4" stroke-width="1.0" />
<line x1="214.8" y1="339.16" x2="214.8" y2="348.88" stroke="#a4a4a4" stroke-width="1.0" />
<line x1="216.6" y1="339.71" x2="216.6" y2="348.35" stroke="#a4a4a4" stroke-width="1.0" />
<line x1="218.4" y1="339.91" x2="218.4" y2="348.18" stroke="#a4a4a4" stroke-width="1.0" />
<line x1="220.2" y1="339.66" x2="220.2" y2="348.46" stroke="#a4a4a4" stroke-width="1.0" />
<line x1="222" y1="339.82" x2="222" y2="348.32" stroke="#a4a4a4" stroke-width="1.0" />
<line x1="223.8" y1="339.04" x2="223.8" y2="349.13" stroke="#a4a4a4" stroke-width="1.0" />
<line x1="225.6" y1="339.83" x2="225.6" y2="348.37" stroke="#a4a4a4" stroke-width="1.0" />
<line x1="227.4" y1="339.18" x2="227.4" y2="349.04" stroke="#a4a4a4" stroke-width="1.0" />
<line x1="229.2" y1="339.23" x2="229.2" y2="349.02" stroke="#a4a4a4" stroke-width="1.0" />
<line x1="231" y1="338.89" x2="231" y2="349.38" stroke="#a4a4a4" stroke-width="1.0" />
<line x1="232.8" y1="339.53" x2="232.8" y2="348.76" stroke="#a4a4a4" stroke-width="1.0" />
<line x1="50.42" y1="364.9" x2="50.42" y2="361.4" stroke="#000" stroke-width="0.9" />
<line x1="50.42" y1="314.9" x2="50.42" y2="318.4" stroke="#000" stroke-width="0.9" />
<line x1="53.67" y1="364.9" x2="53.67" y2="361.4" stroke="#000" stroke-width="0.9" />
<line x1="53.67" y1="314.9" x2="53.67" y2="318.4" stroke="#000" stroke-width="0.9" />
<line x1="56.49" y1="364.9" x2="56.49" y2="361.4" stroke="#000" stroke-width="0.9" />
<line x1="56.49" y1="314.9" x2="56.49" y2="318.4" stroke="#000" stroke-width="0.9" />
<line x1="58.98" y1="364.9" x2="58.98" y2="361.4" stroke="#000" stroke-width="0.9" />
<line x1="58.98" y1="314.9" x2="58.98" y2="318.4" stroke="#000" stroke-width="0.9" />
<line x1="61.2" y1="364.9" x2="61.2" y2="359.4" stroke="#000" stroke-width="0.9" />
<line x1="61.2" y1="314.9" x2="61.2" y2="320.4" stroke="#000" stroke-width="0.9" />
<line x1="75.83" y1="364.9" x2="75.83" y2="361.4" stroke="#000" stroke-width="0.9" />
<line x1="75.83" y1="314.9" x2="75.83" y2="318.4" stroke="#000" stroke-width="0.9" />
<line x1="84.39" y1="364.9" x2="84.39" y2="361.4" stroke="#000" stroke-width="0.9" />
<line x1="84.39" y1="314.9" x2="84.39" y2="318.4" stroke="#000" stroke-width="0.9" />
<line x1="90.46" y1="364.9" x2="90.46" y2="361.4" stroke="#000" stroke-width="0.9" />
<line x1="90.46" y1="314.9" x2="90.46" y2="318.4" stroke="#000" stroke-width="0.9" />
<line x1="95.17" y1="364.9" x2="95.17" y2="361.4" stroke="#000" stroke-width="0.9" />
<line x1="95.17" y1="314.9" x2="95.17" y2="318.4" stroke="#000" stroke-width="0.9" />
<line x1="99.02" y1="364.9" x2="99.02" y2="361.4" stroke="#000" stroke-width="0.9" />
<line x1="99.02" y1="314.9" x2="99.02" y2="318.4" stroke="#000" stroke-width="0.9" />
<line x1="102.27" y1="364.9" x2="102.27" y2="361.4" stroke="#000" stroke-width="0.9" />
<line x1="102.27" y1="314.9" x2="102.27" y2="318.4" stroke="#000" stroke-width="0.9" />
<line x1="105.09" y1="364.9" x2="105.09" y2="361.4" stroke="#000" stroke-width="0.9" />
<line x1="105.09" y1="314.9" x2="105.09" y2="318.4" stroke="#000" stroke-width="0.9" />
<line x1="107.58" y1="364.9" x2="107.58" y2="361.4" stroke="#000" stroke-width="0.9" />
<line x1="107.58" y1="314.9" x2="107.58" y2="318.4" stroke="#000" stroke-width="0.9" />
<line x1="109.8" y1="364.9" x2="109.8" y2="359.4" stroke="#000" stroke-width="0.9" />
<line x1="109.8" y1="314.9" x2="109.8" y2="320.4" stroke="#000" stroke-width="0.9" />
<line x1="124.43" y1="364.9" x2="124.43" y2="361.4" stroke="#000" stroke-width="0.9" />
<line x1="124.43" y1="314.9" x2="124.43" y2="318.4" stroke="#000" stroke-width="0.9" />
<line x1="132.99" y1="364.9" x2="132.99" y2="361.4" stroke="#000" stroke-width="0.9" />
<line x1="132.99" y1="314.9" x2="132.99" y2="318.4" stroke="#000" stroke-width="0.9" />
<line x1="139.06" y1="364.9" x2="139.06" y2="361.4" stroke="#000" stroke-width="0.9" />
<line x1="139.06" y1="314.9" x2="139.06" y2="318.4" stroke="#000" stroke-width="0.9" />
<line x1="143.77" y1="364.9" x2="143.77" y2="361.4" stroke="#000" stroke-width="0.9" />
<line x1="143.77" y1="314.9" x2="143.77" y2="318.4" stroke="#000" stroke-width="0.9" />
<line x1="147.62" y1="364.9" x2="147.62" y2="361.4" stroke="#000" stroke-width="0.9" />
<line x1="147.62" y1="314.9" x2="147.62" y2="318.4" stroke="#000" stroke-width="0.9" />
<line x1="150.87" y1="364.9" x2="150.87" y2="361.4" stroke="#000" stroke-width="0.9" />
<line x1="150.87" y1="314.9" x2="150.87" y2="318.4" stroke="#000" stroke-width="0.9" />
<line x1="153.69" y1="364.9" x2="153.69" y2="361.4" stroke="#000" stroke-width="0.9" />
<line x1="153.69" y1="314.9" x2="153.69" y2="318.4" stroke="#000" stroke-width="0.9" />
<line x1="156.18" y1="364.9" x2="156.18" y2="361.4" stroke="#000" stroke-width="0.9" />
<line x1="156.18" y1="314.9" x2="156.18" y2="318.4" stroke="#000" stroke-width="0.9" />
<line x1="158.4" y1="364.9" x2="158.4" y2="359.4" stroke="#000" stroke-width="0.9" />
<line x1="158.4" y1="314.9" x2="158.4" y2="320.4" stroke="#000" stroke-width="0.9" />
<line x1="173.03" y1="364.9" x2="173.03" y2="361.4" stroke="#000" stroke-width="0.9" />
<line x1="173.03" y1="314.9" x2="173.03" y2="318.4" stroke="#000" stroke-width="0.9" />
<line x1="181.59" y1="364.9" x2="181.59" y2="361.4" stroke="#000" stroke-width="0.9" />
<line x1="181.59" y1="314.9" x2="181.59" y2="318.4" stroke="#000" stroke-width="0.9" />
<line x1="187.66" y1="364.9" x2="187.66" y2="361.4" stroke="#000" stroke-width="0.9" />
<line x1="187.66" y1="314.9" x2="187.66" y2="318.4" stroke="#000" stroke-width="0.9" />
<line x1="192.37" y1="364.9" x2="192.37" y2="361.4" stroke="#000" stroke-width="0.9" />
<line x1="192.37" y1="314.9" x2="192.37" y2="318.4" stroke="#000" stroke-width="0.9" />
<line x1="196.22" y1="364.9" x2="196.22" y2="361.4" stroke="#000" stroke-width="0.9" />
<line x1="196.22" y1="314.9" x2="196.22" y2="318.4" stroke="#000" stroke-width="0.9" />
<line x1="199.47" y1="364.9" x2="199.47" y2="361.4" stroke="#000" stroke-width="0.9" />
<line x1="199.47" y1="314.9" x2="199.47" y2="318.4" stroke="#000" stroke-width="0.9" />
<line x1="202.29" y1="364.9" x2="202.29" y2="361.4" stroke="#000" stroke-width="0.9" />
<line x1="202.29" y1="314.9" x2="202.29" y2="318.4" stroke="#000" stroke-width="0.9" />
<line x1="204.78" y1="364.9" x2="204.78" y2="361.4" stroke="#000" stroke-width="0.9" />
<line x1="204.78" y1="314.9" x2="204.78" y2="318.4" stroke="#000" stroke-width="0.9" />
<line x1="207" y1="364.9" x2="207" y2="359.4" stroke="#000" stroke-width="0.9" />
<line x1="207" y1="314.9" x2="207" y2="320.4" stroke="#000" stroke-width="0.9" />
<line x1="221.63" y1="364.9" x2="221.63" y2="361.4" stroke="#000" stroke-width="0.9" />
<line x1="221.63" y1="314.9" x2="221.63" y2="318.4" stroke="#000" stroke-width="0.9" />
<line x1="230.19" y1="364.9" x2="230.19" y2="361.4" stroke="#000" stroke-width="0.9" />
<line x1="230.19" y1="314.9" x2="230.19" y2="318.4" stroke="#000" stroke-width="0.9" />
<line x1="236.26" y1="364.9" x2="236.26" y2="361.4" stroke="#000" stroke-width="0.9" />
<line x1="236.26" y1="314.9" x2="236.26" y2="318.4" stroke="#000" stroke-width="0.9" />
<line x1="47.8" y1="321.15" x2="53.3" y2="321.15" stroke="#000" stroke-width="0.9" />
<line x1="240.9" y1="321.15" x2="235.4" y2="321.15" stroke="#000" stroke-width="0.9" />
<line x1="47.8" y1="346.15" x2="53.3" y2="346.15" stroke="#000" stroke-width="0.9" />
<line x1="240.9" y1="346.15" x2="235.4" y2="346.15" stroke="#000" stroke-width="0.9" />
<rect x="47.8" y="314.9" width="193.1" height="50" fill="none" stroke="#000" stroke-width="1.5" />
<text transform="translate(38.60,325.90) scale(0.900,1.025)" font-size="13" fill="#000" >2</text>
<text transform="translate(38.60,350.70) scale(0.900,1.025)" font-size="13" fill="#000" >0</text>
<rect x="156.8" y="385.7" width="84.1" height="50" fill="#f9cfb6" stroke="none" stroke-width="1" />
<text transform="translate(111.10,378.90) scale(0.979,1.113)" font-size="13.5" fill="#000" >20.3 ± 0.4°C</text>
<text transform="translate(56.90,407.30) scale(1.215,1.200)" font-size="14" fill="#000" >#2</text>
<polyline points="56.6,413.35 72,415.05 79.5,415.65 85.7,415.95 91.1,416.15 95,416.25 98.9,416.26 102.8,416.27 106.7,416.29 110.6,416.3 114.5,416.31 118.4,416.32 122.3,416.33 126.2,416.35 130.1,416.36 134,416.37 137.9,416.38 141.8,416.39 145.7,416.4 149.6,416.42 153.5,416.43" fill="none" stroke="#555555" stroke-width="1.0"  stroke-linecap="round" stroke-linejoin="round"/>
<circle cx="56.6" cy="413.35" r="1.75" fill="#fff" stroke="#555555" stroke-width="0.85" />
<circle cx="72" cy="415.05" r="1.75" fill="#fff" stroke="#555555" stroke-width="0.85" />
<circle cx="79.5" cy="415.65" r="1.75" fill="#fff" stroke="#555555" stroke-width="0.85" />
<circle cx="85.7" cy="415.95" r="1.75" fill="#fff" stroke="#555555" stroke-width="0.85" />
<circle cx="91.1" cy="416.15" r="1.75" fill="#fff" stroke="#555555" stroke-width="0.85" />
<circle cx="95" cy="416.25" r="1.75" fill="#fff" stroke="#555555" stroke-width="0.85" />
<circle cx="98.9" cy="416.26" r="1.75" fill="#fff" stroke="#555555" stroke-width="0.85" />
<circle cx="102.8" cy="416.27" r="1.75" fill="#fff" stroke="#555555" stroke-width="0.85" />
<circle cx="106.7" cy="416.29" r="1.75" fill="#fff" stroke="#555555" stroke-width="0.85" />
<circle cx="110.6" cy="416.3" r="1.75" fill="#fff" stroke="#555555" stroke-width="0.85" />
<circle cx="114.5" cy="416.31" r="1.75" fill="#fff" stroke="#555555" stroke-width="0.85" />
<circle cx="118.4" cy="416.32" r="1.75" fill="#fff" stroke="#555555" stroke-width="0.85" />
<circle cx="122.3" cy="416.33" r="1.75" fill="#fff" stroke="#555555" stroke-width="0.85" />
<circle cx="126.2" cy="416.35" r="1.75" fill="#fff" stroke="#555555" stroke-width="0.85" />
<circle cx="130.1" cy="416.36" r="1.75" fill="#fff" stroke="#555555" stroke-width="0.85" />
<circle cx="134" cy="416.37" r="1.75" fill="#fff" stroke="#555555" stroke-width="0.85" />
<circle cx="137.9" cy="416.38" r="1.75" fill="#fff" stroke="#555555" stroke-width="0.85" />
<circle cx="141.8" cy="416.39" r="1.75" fill="#fff" stroke="#555555" stroke-width="0.85" />
<circle cx="145.7" cy="416.4" r="1.75" fill="#fff" stroke="#555555" stroke-width="0.85" />
<circle cx="149.6" cy="416.42" r="1.75" fill="#fff" stroke="#555555" stroke-width="0.85" />
<circle cx="153.5" cy="416.43" r="1.75" fill="#fff" stroke="#555555" stroke-width="0.85" />
<polygon points="157.2,414.34 158.1,414.28 159,414.22 159.9,414.16 160.8,414.1 161.7,414.04 162.6,413.99 163.5,413.93 164.4,413.87 165.3,413.81 166.2,413.75 167.1,413.69 168,413.63 168.9,413.58 169.8,413.52 170.7,413.46 171.6,413.4 172.5,413.34 173.4,413.28 174.3,413.22 175.2,413.17 176.1,413.11 177,413.05 177.9,412.99 178.8,412.93 179.7,412.87 180.6,412.82 181.5,412.76 182.4,412.7 183.3,412.64 184.2,412.58 185.1,412.52 186,412.46 186.9,412.41 187.8,412.35 188.7,412.29 189.6,412.23 190.5,412.17 191.4,412.11 192.3,412.1 193.2,412.18 194.1,412.26 195,412.34 195.9,412.42 196.8,412.5 197.7,412.58 198.6,412.66 199.5,412.73 200.4,412.81 201.3,412.89 202.2,412.97 203.1,413.05 204,413.13 204.9,413.21 205.8,413.29 206.7,413.37 207.6,413.45 208.5,413.53 209.4,413.61 210.3,413.69 211.2,413.77 212.1,413.84 213,413.92 213.9,414 214.8,414.08 215.7,414.16 216.6,414.24 217.5,414.2 218.4,414.08 219.3,413.95 220.2,413.82 221.1,413.69 222,413.56 222.9,413.43 223.8,413.3 224.7,413.17 225.6,413.04 226.5,412.91 227.4,412.78 228.3,412.65 229.2,412.52 230.1,412.4 231,412.27 231.9,412.26 232.8,412.25 232.8,416.65 231.9,416.64 231,416.63 230.1,416.75 229.2,416.86 228.3,416.98 227.4,417.09 226.5,417.21 225.6,417.32 224.7,417.44 223.8,417.55 222.9,417.67 222,417.78 221.1,417.9 220.2,418.01 219.3,418.13 218.4,418.24 217.5,418.36 216.6,418.38 215.7,418.29 214.8,418.2 213.9,418.1 213,418.01 212.1,417.91 211.2,417.82 210.3,417.73 209.4,417.63 208.5,417.54 207.6,417.45 206.7,417.35 205.8,417.26 204.9,417.17 204,417.07 203.1,416.98 202.2,416.89 201.3,416.79 200.4,416.7 199.5,416.61 198.6,416.51 197.7,416.42 196.8,416.33 195.9,416.23 195,416.14 194.1,416.04 193.2,415.95 192.3,415.86 191.4,415.86 190.5,415.9 189.6,415.94 188.7,415.99 187.8,416.03 186.9,416.08 186,416.12 185.1,416.17 184.2,416.21 183.3,416.25 182.4,416.3 181.5,416.34 180.6,416.39 179.7,416.43 178.8,416.48 177.9,416.52 177,416.57 176.1,416.61 175.2,416.65 174.3,416.7 173.4,416.74 172.5,416.79 171.6,416.83 170.7,416.88 169.8,416.92 168.9,416.96 168,417.01 167.1,417.05 166.2,417.1 165.3,417.14 164.4,417.19 163.5,417.23 162.6,417.27 161.7,417.32 160.8,417.36 159.9,417.41 159,417.45 158.1,417.5 157.2,417.54" fill="#555555" />
<line x1="162.6" y1="414.37" x2="162.6" y2="416.89" stroke="#555555" stroke-width="1.0" />
<line x1="164.4" y1="414.19" x2="164.4" y2="416.86" stroke="#555555" stroke-width="1.0" />
<line x1="166.2" y1="413.92" x2="166.2" y2="416.93" stroke="#555555" stroke-width="1.0" />
<line x1="168" y1="413.83" x2="168" y2="416.81" stroke="#555555" stroke-width="1.0" />
<line x1="169.8" y1="413.4" x2="169.8" y2="417.04" stroke="#555555" stroke-width="1.0" />
<line x1="171.6" y1="412.94" x2="171.6" y2="417.29" stroke="#555555" stroke-width="1.0" />
<line x1="173.4" y1="412.71" x2="173.4" y2="417.31" stroke="#555555" stroke-width="1.0" />
<line x1="175.2" y1="412.51" x2="175.2" y2="417.31" stroke="#555555" stroke-width="1.0" />
<line x1="177" y1="412.58" x2="177" y2="417.04" stroke="#555555" stroke-width="1.0" />
<line x1="178.8" y1="411.88" x2="178.8" y2="417.53" stroke="#555555" stroke-width="1.0" />
<line x1="180.6" y1="411.52" x2="180.6" y2="417.69" stroke="#555555" stroke-width="1.0" />
<line x1="182.4" y1="411.42" x2="182.4" y2="417.58" stroke="#555555" stroke-width="1.0" />
<line x1="184.2" y1="410.48" x2="184.2" y2="418.31" stroke="#555555" stroke-width="1.0" />
<line x1="186" y1="410.47" x2="186" y2="418.11" stroke="#555555" stroke-width="1.0" />
<line x1="187.8" y1="409.85" x2="187.8" y2="418.53" stroke="#555555" stroke-width="1.0" />
<line x1="189.6" y1="409.08" x2="189.6" y2="419.09" stroke="#555555" stroke-width="1.0" />
<line x1="191.4" y1="408.72" x2="191.4" y2="419.24" stroke="#555555" stroke-width="1.0" />
<line x1="193.2" y1="408.1" x2="193.2" y2="420.03" stroke="#555555" stroke-width="1.0" />
<line x1="195" y1="408.53" x2="195" y2="419.95" stroke="#555555" stroke-width="1.0" />
<line x1="196.8" y1="409.56" x2="196.8" y2="419.26" stroke="#555555" stroke-width="1.0" />
<line x1="198.6" y1="410.07" x2="198.6" y2="419.1" stroke="#555555" stroke-width="1.0" />
<line x1="200.4" y1="410.74" x2="200.4" y2="418.77" stroke="#555555" stroke-width="1.0" />
<line x1="202.2" y1="411.22" x2="202.2" y2="418.64" stroke="#555555" stroke-width="1.0" />
<line x1="204" y1="411.15" x2="204" y2="419.05" stroke="#555555" stroke-width="1.0" />
<line x1="205.8" y1="411.66" x2="205.8" y2="418.89" stroke="#555555" stroke-width="1.0" />
<line x1="207.6" y1="412.38" x2="207.6" y2="418.52" stroke="#555555" stroke-width="1.0" />
<line x1="209.4" y1="412.37" x2="209.4" y2="418.88" stroke="#555555" stroke-width="1.0" />
<line x1="211.2" y1="412.73" x2="211.2" y2="418.86" stroke="#555555" stroke-width="1.0" />
<line x1="213" y1="412.73" x2="213" y2="419.2" stroke="#555555" stroke-width="1.0" />
<line x1="214.8" y1="413.14" x2="214.8" y2="419.14" stroke="#555555" stroke-width="1.0" />
<line x1="216.6" y1="413.52" x2="216.6" y2="419.1" stroke="#555555" stroke-width="1.0" />
<line x1="218.4" y1="412.86" x2="218.4" y2="419.46" stroke="#555555" stroke-width="1.0" />
<line x1="220.2" y1="411.54" x2="220.2" y2="420.29" stroke="#555555" stroke-width="1.0" />
<line x1="222" y1="410.46" x2="222" y2="420.88" stroke="#555555" stroke-width="1.0" />
<line x1="223.8" y1="410.2" x2="223.8" y2="420.65" stroke="#555555" stroke-width="1.0" />
<line x1="225.6" y1="409.4" x2="225.6" y2="420.97" stroke="#555555" stroke-width="1.0" />
<line x1="227.4" y1="407.69" x2="227.4" y2="422.19" stroke="#555555" stroke-width="1.0" />
<line x1="229.2" y1="407.96" x2="229.2" y2="421.42" stroke="#555555" stroke-width="1.0" />
<line x1="231" y1="406.59" x2="231" y2="422.31" stroke="#555555" stroke-width="1.0" />
<line x1="232.8" y1="407.12" x2="232.8" y2="421.78" stroke="#555555" stroke-width="1.0" />
<line x1="232.3" y1="405.95" x2="232.3" y2="426.45" stroke="#555555" stroke-width="1.0" />
<line x1="50.42" y1="435.7" x2="50.42" y2="432.2" stroke="#000" stroke-width="0.9" />
<line x1="50.42" y1="385.7" x2="50.42" y2="389.2" stroke="#000" stroke-width="0.9" />
<line x1="53.67" y1="435.7" x2="53.67" y2="432.2" stroke="#000" stroke-width="0.9" />
<line x1="53.67" y1="385.7" x2="53.67" y2="389.2" stroke="#000" stroke-width="0.9" />
<line x1="56.49" y1="435.7" x2="56.49" y2="432.2" stroke="#000" stroke-width="0.9" />
<line x1="56.49" y1="385.7" x2="56.49" y2="389.2" stroke="#000" stroke-width="0.9" />
<line x1="58.98" y1="435.7" x2="58.98" y2="432.2" stroke="#000" stroke-width="0.9" />
<line x1="58.98" y1="385.7" x2="58.98" y2="389.2" stroke="#000" stroke-width="0.9" />
<line x1="61.2" y1="435.7" x2="61.2" y2="430.2" stroke="#000" stroke-width="0.9" />
<line x1="61.2" y1="385.7" x2="61.2" y2="391.2" stroke="#000" stroke-width="0.9" />
<line x1="75.83" y1="435.7" x2="75.83" y2="432.2" stroke="#000" stroke-width="0.9" />
<line x1="75.83" y1="385.7" x2="75.83" y2="389.2" stroke="#000" stroke-width="0.9" />
<line x1="84.39" y1="435.7" x2="84.39" y2="432.2" stroke="#000" stroke-width="0.9" />
<line x1="84.39" y1="385.7" x2="84.39" y2="389.2" stroke="#000" stroke-width="0.9" />
<line x1="90.46" y1="435.7" x2="90.46" y2="432.2" stroke="#000" stroke-width="0.9" />
<line x1="90.46" y1="385.7" x2="90.46" y2="389.2" stroke="#000" stroke-width="0.9" />
<line x1="95.17" y1="435.7" x2="95.17" y2="432.2" stroke="#000" stroke-width="0.9" />
<line x1="95.17" y1="385.7" x2="95.17" y2="389.2" stroke="#000" stroke-width="0.9" />
<line x1="99.02" y1="435.7" x2="99.02" y2="432.2" stroke="#000" stroke-width="0.9" />
<line x1="99.02" y1="385.7" x2="99.02" y2="389.2" stroke="#000" stroke-width="0.9" />
<line x1="102.27" y1="435.7" x2="102.27" y2="432.2" stroke="#000" stroke-width="0.9" />
<line x1="102.27" y1="385.7" x2="102.27" y2="389.2" stroke="#000" stroke-width="0.9" />
<line x1="105.09" y1="435.7" x2="105.09" y2="432.2" stroke="#000" stroke-width="0.9" />
<line x1="105.09" y1="385.7" x2="105.09" y2="389.2" stroke="#000" stroke-width="0.9" />
<line x1="107.58" y1="435.7" x2="107.58" y2="432.2" stroke="#000" stroke-width="0.9" />
<line x1="107.58" y1="385.7" x2="107.58" y2="389.2" stroke="#000" stroke-width="0.9" />
<line x1="109.8" y1="435.7" x2="109.8" y2="430.2" stroke="#000" stroke-width="0.9" />
<line x1="109.8" y1="385.7" x2="109.8" y2="391.2" stroke="#000" stroke-width="0.9" />
<line x1="124.43" y1="435.7" x2="124.43" y2="432.2" stroke="#000" stroke-width="0.9" />
<line x1="124.43" y1="385.7" x2="124.43" y2="389.2" stroke="#000" stroke-width="0.9" />
<line x1="132.99" y1="435.7" x2="132.99" y2="432.2" stroke="#000" stroke-width="0.9" />
<line x1="132.99" y1="385.7" x2="132.99" y2="389.2" stroke="#000" stroke-width="0.9" />
<line x1="139.06" y1="435.7" x2="139.06" y2="432.2" stroke="#000" stroke-width="0.9" />
<line x1="139.06" y1="385.7" x2="139.06" y2="389.2" stroke="#000" stroke-width="0.9" />
<line x1="143.77" y1="435.7" x2="143.77" y2="432.2" stroke="#000" stroke-width="0.9" />
<line x1="143.77" y1="385.7" x2="143.77" y2="389.2" stroke="#000" stroke-width="0.9" />
<line x1="147.62" y1="435.7" x2="147.62" y2="432.2" stroke="#000" stroke-width="0.9" />
<line x1="147.62" y1="385.7" x2="147.62" y2="389.2" stroke="#000" stroke-width="0.9" />
<line x1="150.87" y1="435.7" x2="150.87" y2="432.2" stroke="#000" stroke-width="0.9" />
<line x1="150.87" y1="385.7" x2="150.87" y2="389.2" stroke="#000" stroke-width="0.9" />
<line x1="153.69" y1="435.7" x2="153.69" y2="432.2" stroke="#000" stroke-width="0.9" />
<line x1="153.69" y1="385.7" x2="153.69" y2="389.2" stroke="#000" stroke-width="0.9" />
<line x1="156.18" y1="435.7" x2="156.18" y2="432.2" stroke="#000" stroke-width="0.9" />
<line x1="156.18" y1="385.7" x2="156.18" y2="389.2" stroke="#000" stroke-width="0.9" />
<line x1="158.4" y1="435.7" x2="158.4" y2="430.2" stroke="#000" stroke-width="0.9" />
<line x1="158.4" y1="385.7" x2="158.4" y2="391.2" stroke="#000" stroke-width="0.9" />
<line x1="173.03" y1="435.7" x2="173.03" y2="432.2" stroke="#000" stroke-width="0.9" />
<line x1="173.03" y1="385.7" x2="173.03" y2="389.2" stroke="#000" stroke-width="0.9" />
<line x1="181.59" y1="435.7" x2="181.59" y2="432.2" stroke="#000" stroke-width="0.9" />
<line x1="181.59" y1="385.7" x2="181.59" y2="389.2" stroke="#000" stroke-width="0.9" />
<line x1="187.66" y1="435.7" x2="187.66" y2="432.2" stroke="#000" stroke-width="0.9" />
<line x1="187.66" y1="385.7" x2="187.66" y2="389.2" stroke="#000" stroke-width="0.9" />
<line x1="192.37" y1="435.7" x2="192.37" y2="432.2" stroke="#000" stroke-width="0.9" />
<line x1="192.37" y1="385.7" x2="192.37" y2="389.2" stroke="#000" stroke-width="0.9" />
<line x1="196.22" y1="435.7" x2="196.22" y2="432.2" stroke="#000" stroke-width="0.9" />
<line x1="196.22" y1="385.7" x2="196.22" y2="389.2" stroke="#000" stroke-width="0.9" />
<line x1="199.47" y1="435.7" x2="199.47" y2="432.2" stroke="#000" stroke-width="0.9" />
<line x1="199.47" y1="385.7" x2="199.47" y2="389.2" stroke="#000" stroke-width="0.9" />
<line x1="202.29" y1="435.7" x2="202.29" y2="432.2" stroke="#000" stroke-width="0.9" />
<line x1="202.29" y1="385.7" x2="202.29" y2="389.2" stroke="#000" stroke-width="0.9" />
<line x1="204.78" y1="435.7" x2="204.78" y2="432.2" stroke="#000" stroke-width="0.9" />
<line x1="204.78" y1="385.7" x2="204.78" y2="389.2" stroke="#000" stroke-width="0.9" />
<line x1="207" y1="435.7" x2="207" y2="430.2" stroke="#000" stroke-width="0.9" />
<line x1="207" y1="385.7" x2="207" y2="391.2" stroke="#000" stroke-width="0.9" />
<line x1="221.63" y1="435.7" x2="221.63" y2="432.2" stroke="#000" stroke-width="0.9" />
<line x1="221.63" y1="385.7" x2="221.63" y2="389.2" stroke="#000" stroke-width="0.9" />
<line x1="230.19" y1="435.7" x2="230.19" y2="432.2" stroke="#000" stroke-width="0.9" />
<line x1="230.19" y1="385.7" x2="230.19" y2="389.2" stroke="#000" stroke-width="0.9" />
<line x1="236.26" y1="435.7" x2="236.26" y2="432.2" stroke="#000" stroke-width="0.9" />
<line x1="236.26" y1="385.7" x2="236.26" y2="389.2" stroke="#000" stroke-width="0.9" />
<line x1="47.8" y1="391.95" x2="53.3" y2="391.95" stroke="#000" stroke-width="0.9" />
<line x1="240.9" y1="391.95" x2="235.4" y2="391.95" stroke="#000" stroke-width="0.9" />
<line x1="47.8" y1="416.95" x2="53.3" y2="416.95" stroke="#000" stroke-width="0.9" />
<line x1="240.9" y1="416.95" x2="235.4" y2="416.95" stroke="#000" stroke-width="0.9" />
<rect x="47.8" y="385.7" width="193.1" height="50" fill="none" stroke="#000" stroke-width="1.5" />
<text transform="translate(38.60,396.70) scale(0.900,1.025)" font-size="13" fill="#000" >2</text>
<text transform="translate(38.60,421.50) scale(0.900,1.025)" font-size="13" fill="#000" >0</text>
<rect x="156.8" y="456.4" width="84.1" height="50" fill="#f9cfb6" stroke="none" stroke-width="1" />
<text transform="translate(111.10,449.60) scale(0.979,1.113)" font-size="13.5" fill="#000" >21.0 ± 0.4°C</text>
<text transform="translate(56.90,478.00) scale(1.129,1.200)" font-size="14" fill="#000" >#3</text>
<polyline points="56.6,484.05 72,485.75 79.5,486.35 85.7,486.65 91.1,486.85 95,486.95 98.9,486.96 102.8,486.97 106.7,486.99 110.6,487 114.5,487.01 118.4,487.02 122.3,487.03 126.2,487.05 130.1,487.06 134,487.07 137.9,487.08 141.8,487.09 145.7,487.1 149.6,487.12 153.5,487.13" fill="none" stroke="#000000" stroke-width="1.3"  stroke-linecap="round" stroke-linejoin="round"/>
<circle cx="56.6" cy="484.05" r="1.75" fill="#fff" stroke="#000000" stroke-width="0.85" />
<circle cx="72" cy="485.75" r="1.75" fill="#fff" stroke="#000000" stroke-width="0.85" />
<circle cx="79.5" cy="486.35" r="1.75" fill="#fff" stroke="#000000" stroke-width="0.85" />
<circle cx="85.7" cy="486.65" r="1.75" fill="#fff" stroke="#000000" stroke-width="0.85" />
<circle cx="91.1" cy="486.85" r="1.75" fill="#fff" stroke="#000000" stroke-width="0.85" />
<circle cx="95" cy="486.95" r="1.75" fill="#fff" stroke="#000000" stroke-width="0.85" />
<circle cx="98.9" cy="486.96" r="1.75" fill="#fff" stroke="#000000" stroke-width="0.85" />
<circle cx="102.8" cy="486.97" r="1.75" fill="#fff" stroke="#000000" stroke-width="0.85" />
<circle cx="106.7" cy="486.99" r="1.75" fill="#fff" stroke="#000000" stroke-width="0.85" />
<circle cx="110.6" cy="487" r="1.75" fill="#fff" stroke="#000000" stroke-width="0.85" />
<circle cx="114.5" cy="487.01" r="1.75" fill="#fff" stroke="#000000" stroke-width="0.85" />
<circle cx="118.4" cy="487.02" r="1.75" fill="#fff" stroke="#000000" stroke-width="0.85" />
<circle cx="122.3" cy="487.03" r="1.75" fill="#fff" stroke="#000000" stroke-width="0.85" />
<circle cx="126.2" cy="487.05" r="1.75" fill="#fff" stroke="#000000" stroke-width="0.85" />
<circle cx="130.1" cy="487.06" r="1.75" fill="#fff" stroke="#000000" stroke-width="0.85" />
<circle cx="134" cy="487.07" r="1.75" fill="#fff" stroke="#000000" stroke-width="0.85" />
<circle cx="137.9" cy="487.08" r="1.75" fill="#fff" stroke="#000000" stroke-width="0.85" />
<circle cx="141.8" cy="487.09" r="1.75" fill="#fff" stroke="#000000" stroke-width="0.85" />
<circle cx="145.7" cy="487.1" r="1.75" fill="#fff" stroke="#000000" stroke-width="0.85" />
<circle cx="149.6" cy="487.12" r="1.75" fill="#fff" stroke="#000000" stroke-width="0.85" />
<circle cx="153.5" cy="487.13" r="1.75" fill="#fff" stroke="#000000" stroke-width="0.85" />
<polygon points="157.2,485.06 158.1,485.09 159,485.13 159.9,485.16 160.8,485.19 161.7,485.23 162.6,485.26 163.5,485.29 164.4,485.33 165.3,485.36 166.2,485.4 167.1,485.43 168,485.46 168.9,485.5 169.8,485.53 170.7,485.57 171.6,485.6 172.5,485.63 173.4,485.67 174.3,485.7 175.2,485.73 176.1,485.77 177,485.8 177.9,485.84 178.8,485.87 179.7,485.9 180.6,485.94 181.5,485.97 182.4,486 183.3,486.04 184.2,486.07 185.1,486.1 186,486.08 186.9,486.06 187.8,486.05 188.7,486.03 189.6,486.01 190.5,485.99 191.4,485.98 192.3,485.96 193.2,485.94 194.1,485.92 195,485.9 195.9,485.89 196.8,485.87 197.7,485.85 198.6,485.83 199.5,485.81 200.4,485.8 201.3,485.78 202.2,485.76 203.1,485.74 204,485.73 204.9,485.71 205.8,485.69 206.7,485.67 207.6,485.65 208.5,485.64 209.4,485.62 210.3,485.6 211.2,485.58 212.1,485.56 213,485.55 213.9,485.53 214.8,485.51 215.7,485.49 216.6,485.48 217.5,485.46 218.4,485.44 219.3,485.42 220.2,485.4 221.1,485.39 222,485.37 222.9,485.35 223.8,485.33 224.7,485.31 225.6,485.3 226.5,485.28 227.4,485.26 228.3,485.24 229.2,485.23 230.1,485.21 231,485.19 231.9,485.17 232.8,485.15 232.8,489.55 231.9,489.56 231,489.57 230.1,489.58 229.2,489.59 228.3,489.59 227.4,489.6 226.5,489.61 225.6,489.62 224.7,489.63 223.8,489.64 222.9,489.64 222,489.65 221.1,489.66 220.2,489.67 219.3,489.68 218.4,489.69 217.5,489.69 216.6,489.7 215.7,489.71 214.8,489.72 213.9,489.73 213,489.74 212.1,489.74 211.2,489.75 210.3,489.76 209.4,489.77 208.5,489.78 207.6,489.79 206.7,489.8 205.8,489.8 204.9,489.81 204,489.82 203.1,489.83 202.2,489.84 201.3,489.85 200.4,489.85 199.5,489.86 198.6,489.87 197.7,489.88 196.8,489.89 195.9,489.9 195,489.9 194.1,489.91 193.2,489.92 192.3,489.93 191.4,489.94 190.5,489.95 189.6,489.95 188.7,489.96 187.8,489.97 186.9,489.98 186,489.99 185.1,490 184.2,489.96 183.3,489.92 182.4,489.87 181.5,489.83 180.6,489.79 179.7,489.74 178.8,489.7 177.9,489.66 177,489.61 176.1,489.57 175.2,489.53 174.3,489.48 173.4,489.44 172.5,489.4 171.6,489.35 170.7,489.31 169.8,489.27 168.9,489.22 168,489.18 167.1,489.14 166.2,489.09 165.3,489.05 164.4,489.01 163.5,488.96 162.6,488.92 161.7,488.88 160.8,488.83 159.9,488.79 159,488.75 158.1,488.7 157.2,488.66" fill="#000000" />
<line x1="187.8" y1="486.69" x2="187.8" y2="489.32" stroke="#000000" stroke-width="1.0" />
<line x1="189.6" y1="486.3" x2="189.6" y2="489.67" stroke="#000000" stroke-width="1.0" />
<line x1="191.4" y1="486.24" x2="191.4" y2="489.68" stroke="#000000" stroke-width="1.0" />
<line x1="193.2" y1="485.68" x2="193.2" y2="490.19" stroke="#000000" stroke-width="1.0" />
<line x1="195" y1="485.76" x2="195" y2="490.05" stroke="#000000" stroke-width="1.0" />
<line x1="196.8" y1="485.42" x2="196.8" y2="490.33" stroke="#000000" stroke-width="1.0" />
<line x1="198.6" y1="485.16" x2="198.6" y2="490.54" stroke="#000000" stroke-width="1.0" />
<line x1="200.4" y1="484.78" x2="200.4" y2="490.87" stroke="#000000" stroke-width="1.0" />
<line x1="202.2" y1="484.34" x2="202.2" y2="491.26" stroke="#000000" stroke-width="1.0" />
<line x1="204" y1="484.32" x2="204" y2="491.23" stroke="#000000" stroke-width="1.0" />
<line x1="205.8" y1="483.87" x2="205.8" y2="491.63" stroke="#000000" stroke-width="1.0" />
<line x1="207.6" y1="484.12" x2="207.6" y2="491.32" stroke="#000000" stroke-width="1.0" />
<line x1="209.4" y1="483.57" x2="209.4" y2="491.82" stroke="#000000" stroke-width="1.0" />
<line x1="211.2" y1="483.42" x2="211.2" y2="491.92" stroke="#000000" stroke-width="1.0" />
<line x1="213" y1="483.59" x2="213" y2="491.69" stroke="#000000" stroke-width="1.0" />
<line x1="214.8" y1="483.41" x2="214.8" y2="491.82" stroke="#000000" stroke-width="1.0" />
<line x1="216.6" y1="482.6" x2="216.6" y2="492.58" stroke="#000000" stroke-width="1.0" />
<line x1="218.4" y1="482.78" x2="218.4" y2="492.35" stroke="#000000" stroke-width="1.0" />
<line x1="220.2" y1="482.25" x2="220.2" y2="492.82" stroke="#000000" stroke-width="1.0" />
<line x1="222" y1="482.27" x2="222" y2="492.75" stroke="#000000" stroke-width="1.0" />
<line x1="223.8" y1="482.02" x2="223.8" y2="492.95" stroke="#000000" stroke-width="1.0" />
<line x1="225.6" y1="482.32" x2="225.6" y2="492.59" stroke="#000000" stroke-width="1.0" />
<line x1="227.4" y1="482.1" x2="227.4" y2="492.77" stroke="#000000" stroke-width="1.0" />
<line x1="229.2" y1="481.99" x2="229.2" y2="492.82" stroke="#000000" stroke-width="1.0" />
<line x1="231" y1="481.07" x2="231" y2="493.69" stroke="#000000" stroke-width="1.0" />
<line x1="232.8" y1="481.94" x2="232.8" y2="492.77" stroke="#000000" stroke-width="1.0" />
<line x1="231.5" y1="479.65" x2="231.5" y2="494.65" stroke="#000000" stroke-width="1.1" />
<circle cx="232.3" cy="490.15" r="2" fill="#000" stroke="none" stroke-width="1" />
<line x1="50.42" y1="506.4" x2="50.42" y2="502.9" stroke="#000" stroke-width="0.9" />
<line x1="50.42" y1="456.4" x2="50.42" y2="459.9" stroke="#000" stroke-width="0.9" />
<line x1="53.67" y1="506.4" x2="53.67" y2="502.9" stroke="#000" stroke-width="0.9" />
<line x1="53.67" y1="456.4" x2="53.67" y2="459.9" stroke="#000" stroke-width="0.9" />
<line x1="56.49" y1="506.4" x2="56.49" y2="502.9" stroke="#000" stroke-width="0.9" />
<line x1="56.49" y1="456.4" x2="56.49" y2="459.9" stroke="#000" stroke-width="0.9" />
<line x1="58.98" y1="506.4" x2="58.98" y2="502.9" stroke="#000" stroke-width="0.9" />
<line x1="58.98" y1="456.4" x2="58.98" y2="459.9" stroke="#000" stroke-width="0.9" />
<line x1="61.2" y1="506.4" x2="61.2" y2="500.9" stroke="#000" stroke-width="0.9" />
<line x1="61.2" y1="456.4" x2="61.2" y2="461.9" stroke="#000" stroke-width="0.9" />
<line x1="75.83" y1="506.4" x2="75.83" y2="502.9" stroke="#000" stroke-width="0.9" />
<line x1="75.83" y1="456.4" x2="75.83" y2="459.9" stroke="#000" stroke-width="0.9" />
<line x1="84.39" y1="506.4" x2="84.39" y2="502.9" stroke="#000" stroke-width="0.9" />
<line x1="84.39" y1="456.4" x2="84.39" y2="459.9" stroke="#000" stroke-width="0.9" />
<line x1="90.46" y1="506.4" x2="90.46" y2="502.9" stroke="#000" stroke-width="0.9" />
<line x1="90.46" y1="456.4" x2="90.46" y2="459.9" stroke="#000" stroke-width="0.9" />
<line x1="95.17" y1="506.4" x2="95.17" y2="502.9" stroke="#000" stroke-width="0.9" />
<line x1="95.17" y1="456.4" x2="95.17" y2="459.9" stroke="#000" stroke-width="0.9" />
<line x1="99.02" y1="506.4" x2="99.02" y2="502.9" stroke="#000" stroke-width="0.9" />
<line x1="99.02" y1="456.4" x2="99.02" y2="459.9" stroke="#000" stroke-width="0.9" />
<line x1="102.27" y1="506.4" x2="102.27" y2="502.9" stroke="#000" stroke-width="0.9" />
<line x1="102.27" y1="456.4" x2="102.27" y2="459.9" stroke="#000" stroke-width="0.9" />
<line x1="105.09" y1="506.4" x2="105.09" y2="502.9" stroke="#000" stroke-width="0.9" />
<line x1="105.09" y1="456.4" x2="105.09" y2="459.9" stroke="#000" stroke-width="0.9" />
<line x1="107.58" y1="506.4" x2="107.58" y2="502.9" stroke="#000" stroke-width="0.9" />
<line x1="107.58" y1="456.4" x2="107.58" y2="459.9" stroke="#000" stroke-width="0.9" />
<line x1="109.8" y1="506.4" x2="109.8" y2="500.9" stroke="#000" stroke-width="0.9" />
<line x1="109.8" y1="456.4" x2="109.8" y2="461.9" stroke="#000" stroke-width="0.9" />
<line x1="124.43" y1="506.4" x2="124.43" y2="502.9" stroke="#000" stroke-width="0.9" />
<line x1="124.43" y1="456.4" x2="124.43" y2="459.9" stroke="#000" stroke-width="0.9" />
<line x1="132.99" y1="506.4" x2="132.99" y2="502.9" stroke="#000" stroke-width="0.9" />
<line x1="132.99" y1="456.4" x2="132.99" y2="459.9" stroke="#000" stroke-width="0.9" />
<line x1="139.06" y1="506.4" x2="139.06" y2="502.9" stroke="#000" stroke-width="0.9" />
<line x1="139.06" y1="456.4" x2="139.06" y2="459.9" stroke="#000" stroke-width="0.9" />
<line x1="143.77" y1="506.4" x2="143.77" y2="502.9" stroke="#000" stroke-width="0.9" />
<line x1="143.77" y1="456.4" x2="143.77" y2="459.9" stroke="#000" stroke-width="0.9" />
<line x1="147.62" y1="506.4" x2="147.62" y2="502.9" stroke="#000" stroke-width="0.9" />
<line x1="147.62" y1="456.4" x2="147.62" y2="459.9" stroke="#000" stroke-width="0.9" />
<line x1="150.87" y1="506.4" x2="150.87" y2="502.9" stroke="#000" stroke-width="0.9" />
<line x1="150.87" y1="456.4" x2="150.87" y2="459.9" stroke="#000" stroke-width="0.9" />
<line x1="153.69" y1="506.4" x2="153.69" y2="502.9" stroke="#000" stroke-width="0.9" />
<line x1="153.69" y1="456.4" x2="153.69" y2="459.9" stroke="#000" stroke-width="0.9" />
<line x1="156.18" y1="506.4" x2="156.18" y2="502.9" stroke="#000" stroke-width="0.9" />
<line x1="156.18" y1="456.4" x2="156.18" y2="459.9" stroke="#000" stroke-width="0.9" />
<line x1="158.4" y1="506.4" x2="158.4" y2="500.9" stroke="#000" stroke-width="0.9" />
<line x1="158.4" y1="456.4" x2="158.4" y2="461.9" stroke="#000" stroke-width="0.9" />
<line x1="173.03" y1="506.4" x2="173.03" y2="502.9" stroke="#000" stroke-width="0.9" />
<line x1="173.03" y1="456.4" x2="173.03" y2="459.9" stroke="#000" stroke-width="0.9" />
<line x1="181.59" y1="506.4" x2="181.59" y2="502.9" stroke="#000" stroke-width="0.9" />
<line x1="181.59" y1="456.4" x2="181.59" y2="459.9" stroke="#000" stroke-width="0.9" />
<line x1="187.66" y1="506.4" x2="187.66" y2="502.9" stroke="#000" stroke-width="0.9" />
<line x1="187.66" y1="456.4" x2="187.66" y2="459.9" stroke="#000" stroke-width="0.9" />
<line x1="192.37" y1="506.4" x2="192.37" y2="502.9" stroke="#000" stroke-width="0.9" />
<line x1="192.37" y1="456.4" x2="192.37" y2="459.9" stroke="#000" stroke-width="0.9" />
<line x1="196.22" y1="506.4" x2="196.22" y2="502.9" stroke="#000" stroke-width="0.9" />
<line x1="196.22" y1="456.4" x2="196.22" y2="459.9" stroke="#000" stroke-width="0.9" />
<line x1="199.47" y1="506.4" x2="199.47" y2="502.9" stroke="#000" stroke-width="0.9" />
<line x1="199.47" y1="456.4" x2="199.47" y2="459.9" stroke="#000" stroke-width="0.9" />
<line x1="202.29" y1="506.4" x2="202.29" y2="502.9" stroke="#000" stroke-width="0.9" />
<line x1="202.29" y1="456.4" x2="202.29" y2="459.9" stroke="#000" stroke-width="0.9" />
<line x1="204.78" y1="506.4" x2="204.78" y2="502.9" stroke="#000" stroke-width="0.9" />
<line x1="204.78" y1="456.4" x2="204.78" y2="459.9" stroke="#000" stroke-width="0.9" />
<line x1="207" y1="506.4" x2="207" y2="500.9" stroke="#000" stroke-width="0.9" />
<line x1="207" y1="456.4" x2="207" y2="461.9" stroke="#000" stroke-width="0.9" />
<line x1="221.63" y1="506.4" x2="221.63" y2="502.9" stroke="#000" stroke-width="0.9" />
<line x1="221.63" y1="456.4" x2="221.63" y2="459.9" stroke="#000" stroke-width="0.9" />
<line x1="230.19" y1="506.4" x2="230.19" y2="502.9" stroke="#000" stroke-width="0.9" />
<line x1="230.19" y1="456.4" x2="230.19" y2="459.9" stroke="#000" stroke-width="0.9" />
<line x1="236.26" y1="506.4" x2="236.26" y2="502.9" stroke="#000" stroke-width="0.9" />
<line x1="236.26" y1="456.4" x2="236.26" y2="459.9" stroke="#000" stroke-width="0.9" />
<line x1="47.8" y1="462.65" x2="53.3" y2="462.65" stroke="#000" stroke-width="0.9" />
<line x1="240.9" y1="462.65" x2="235.4" y2="462.65" stroke="#000" stroke-width="0.9" />
<line x1="47.8" y1="487.65" x2="53.3" y2="487.65" stroke="#000" stroke-width="0.9" />
<line x1="240.9" y1="487.65" x2="235.4" y2="487.65" stroke="#000" stroke-width="0.9" />
<rect x="47.8" y="456.4" width="193.1" height="50" fill="none" stroke="#000" stroke-width="1.5" />
<text transform="translate(38.60,467.40) scale(0.900,1.025)" font-size="13" fill="#000" >2</text>
<text transform="translate(38.60,492.20) scale(0.900,1.025)" font-size="13" fill="#000" >0</text>
<text transform="translate(209.10,334.60) scale(1.086,1.100)" font-size="13.5" fill="#000" >±2<tspan font-style="italic">σ</tspan></text>
<text transform="translate(47.70,519.40) scale(1.080,1.030)" font-size="13" fill="#000" >10<tspan font-size="11.5" dy="-3.3" letter-spacing="0.2">−</tspan><tspan font-size="8.3" dy="-0.9">2</tspan></text>
<text transform="translate(96.84,519.40) scale(1.080,1.030)" font-size="13" fill="#000" >10<tspan font-size="11.5" dy="-3.3" letter-spacing="0.2">−</tspan><tspan font-size="8.3" dy="-0.9">1</tspan></text>
<text transform="translate(148.68,519.40) scale(1.080,1.030)" font-size="13" fill="#000" >10<tspan font-size="8.3" dy="-4.2">0</tspan></text>
<text transform="translate(197.82,519.40) scale(1.080,1.030)" font-size="13" fill="#000" >10<tspan font-size="8.3" dy="-4.2">1</tspan></text>
<text transform="translate(132.20,534.68) scale(1.289,1.013)" font-size="13" fill="#000" ><tspan font-style="italic">τ</tspan> ,  s</text>
<text transform="translate(29.84,450.90) rotate(-90) scale(1.190,0.953)" font-size="13.5" fill="#000" ><tspan font-style="italic">M</tspan><tspan font-size="9.5" dy="2.5">2</tspan><tspan dy="-2.5">(</tspan><tspan font-style="italic">τ</tspan>)/<tspan font-style="italic">M</tspan><tspan font-size="9.5" dy="2.5">1</tspan><tspan dy="-2.5">(</tspan><tspan font-style="italic">τ</tspan>)<tspan font-size="9.5" dy="-5.5">2</tspan></text>
<text transform="translate(289.53,303.88) scale(1.068,1.179)" font-size="20" fill="#000" >(d)</text>
<clipPath id="cd"><rect x="318.5" y="315.2" width="192.5" height="78.80000000000001"/></clipPath>
<g clip-path="url(#cd)">
<rect x="318.5" y="315.2" width="192.5" height="78.8" fill="#e3e3e3" stroke="none" stroke-width="1" />
<polygon points="359.6,315.2 460.2,315.2 406.7,366.2" fill="#ffffff" />
<polygon points="318.5,375.5 318.5,394 346.5,394" fill="#d0d0d0" />
<polygon points="377.4,394 406.7,366.2 432.4,394" fill="#d0d0d0" />
<polygon points="488,394 511,394 511,378" fill="#d0d0d0" />
<polyline points="318.5,368.4 378,371.4 440,373.2 511,373.6" fill="none" stroke="#3f6fc3" stroke-width="2.0"  stroke-linecap="round" stroke-linejoin="round"/>
<polyline points="318.5,373.8 378,377.3 440,379.6 511,380" fill="none" stroke="#3f6fc3" stroke-width="2.0"  stroke-linecap="round" stroke-linejoin="round"/>
<polyline points="318.5,371.2 378,374.3 440,376.2 511,376.6" fill="none" stroke="#f4f7fc" stroke-width="1.2"  stroke-linecap="round" stroke-linejoin="round"/>
<circle cx="322" cy="368.58" r="2.4" fill="#3f6fc3" stroke="none" stroke-width="1" />
<circle cx="328.9" cy="368.92" r="2.4" fill="#3f6fc3" stroke="none" stroke-width="1" />
<circle cx="335.8" cy="369.27" r="2.4" fill="#3f6fc3" stroke="none" stroke-width="1" />
<circle cx="342.7" cy="369.62" r="2.4" fill="#3f6fc3" stroke="none" stroke-width="1" />
<circle cx="349.6" cy="369.97" r="2.4" fill="#3f6fc3" stroke="none" stroke-width="1" />
<circle cx="356.5" cy="370.32" r="2.4" fill="#3f6fc3" stroke="none" stroke-width="1" />
<circle cx="363.4" cy="370.66" r="2.4" fill="#3f6fc3" stroke="none" stroke-width="1" />
<circle cx="370.3" cy="371.01" r="2.4" fill="#3f6fc3" stroke="none" stroke-width="1" />
<circle cx="377.2" cy="371.36" r="2.4" fill="#3f6fc3" stroke="none" stroke-width="1" />
<circle cx="384.1" cy="371.58" r="2.4" fill="#3f6fc3" stroke="none" stroke-width="1" />
<circle cx="391" cy="371.78" r="2.4" fill="#3f6fc3" stroke="none" stroke-width="1" />
<circle cx="397.9" cy="371.98" r="2.4" fill="#3f6fc3" stroke="none" stroke-width="1" />
<circle cx="404.8" cy="372.18" r="2.4" fill="#3f6fc3" stroke="none" stroke-width="1" />
<circle cx="411.7" cy="372.38" r="2.4" fill="#3f6fc3" stroke="none" stroke-width="1" />
<circle cx="418.6" cy="372.58" r="2.4" fill="#3f6fc3" stroke="none" stroke-width="1" />
<circle cx="425.5" cy="372.78" r="2.4" fill="#3f6fc3" stroke="none" stroke-width="1" />
<circle cx="432.4" cy="372.98" r="2.4" fill="#3f6fc3" stroke="none" stroke-width="1" />
<circle cx="439.3" cy="373.18" r="2.4" fill="#3f6fc3" stroke="none" stroke-width="1" />
<polygon points="333.6,372.29 334.56,374.86 337.31,374.98 335.16,376.69 335.89,379.34 333.6,377.83 331.31,379.34 332.04,376.69 329.89,374.98 332.64,374.86" fill="#3f6fc3" stroke="none" stroke-width="1"/>
<polygon points="340.5,372.69 341.46,375.27 344.21,375.39 342.06,377.1 342.79,379.75 340.5,378.23 338.21,379.75 338.94,377.1 336.79,375.39 339.54,375.27" fill="#3f6fc3" stroke="none" stroke-width="1"/>
<polygon points="347.4,373.1 348.36,375.67 351.11,375.79 348.96,377.51 349.69,380.16 347.4,378.64 345.11,380.16 345.84,377.51 343.69,375.79 346.44,375.67" fill="#3f6fc3" stroke="none" stroke-width="1"/>
<polygon points="354.3,373.51 355.26,376.08 358.01,376.2 355.86,377.91 356.59,380.56 354.3,379.04 352.01,380.56 352.74,377.91 350.59,376.2 353.34,376.08" fill="#3f6fc3" stroke="none" stroke-width="1"/>
<polygon points="361.2,373.91 362.16,376.49 364.91,376.61 362.76,378.32 363.49,380.97 361.2,379.45 358.91,380.97 359.64,378.32 357.49,376.61 360.24,376.49" fill="#3f6fc3" stroke="none" stroke-width="1"/>
<polygon points="368.1,374.32 369.06,376.89 371.81,377.01 369.66,378.72 370.39,381.37 368.1,379.86 365.81,381.37 366.54,378.72 364.39,377.01 367.14,376.89" fill="#3f6fc3" stroke="none" stroke-width="1"/>
<polygon points="375,374.72 375.96,377.3 378.71,377.42 376.56,379.13 377.29,381.78 375,380.26 372.71,381.78 373.44,379.13 371.29,377.42 374.04,377.3" fill="#3f6fc3" stroke="none" stroke-width="1"/>
<polygon points="381.9,375.04 382.86,377.62 385.61,377.74 383.46,379.45 384.19,382.1 381.9,380.58 379.61,382.1 380.34,379.45 378.19,377.74 380.94,377.62" fill="#3f6fc3" stroke="none" stroke-width="1"/>
<polygon points="388.8,375.3 389.76,377.88 392.51,378 390.36,379.71 391.09,382.36 388.8,380.84 386.51,382.36 387.24,379.71 385.09,378 387.84,377.88" fill="#3f6fc3" stroke="none" stroke-width="1"/>
<polygon points="395.7,375.56 396.66,378.13 399.41,378.25 397.26,379.96 397.99,382.61 395.7,381.09 393.41,382.61 394.14,379.96 391.99,378.25 394.74,378.13" fill="#3f6fc3" stroke="none" stroke-width="1"/>
<polygon points="402.6,375.81 403.56,378.39 406.31,378.51 404.16,380.22 404.89,382.87 402.6,381.35 400.31,382.87 401.04,380.22 398.89,378.51 401.64,378.39" fill="#3f6fc3" stroke="none" stroke-width="1"/>
<polygon points="409.5,376.07 410.46,378.64 413.21,378.76 411.06,380.47 411.79,383.12 409.5,381.61 407.21,383.12 407.94,380.47 405.79,378.76 408.54,378.64" fill="#3f6fc3" stroke="none" stroke-width="1"/>
<polygon points="416.4,376.32 417.36,378.9 420.11,379.02 417.96,380.73 418.69,383.38 416.4,381.86 414.11,383.38 414.84,380.73 412.69,379.02 415.44,378.9" fill="#3f6fc3" stroke="none" stroke-width="1"/>
<circle cx="326.7" cy="368.1" r="2.3" fill="#fff" stroke="#000" stroke-width="1.0" />
<circle cx="333.6" cy="368.54" r="2.3" fill="#fff" stroke="#000" stroke-width="1.0" />
<circle cx="340.5" cy="368.97" r="2.3" fill="#fff" stroke="#000" stroke-width="1.0" />
<circle cx="347.4" cy="369.41" r="2.3" fill="#fff" stroke="#000" stroke-width="1.0" />
<circle cx="354.3" cy="369.85" r="2.3" fill="#fff" stroke="#000" stroke-width="1.0" />
<circle cx="361.2" cy="370.28" r="2.3" fill="#fff" stroke="#000" stroke-width="1.0" />
<circle cx="368.1" cy="370.72" r="2.3" fill="#fff" stroke="#000" stroke-width="1.0" />
<circle cx="375" cy="371.16" r="2.3" fill="#fff" stroke="#000" stroke-width="1.0" />
<circle cx="381.9" cy="371.28" r="2.3" fill="#fff" stroke="#000" stroke-width="1.0" />
<circle cx="388.8" cy="371.36" r="2.3" fill="#fff" stroke="#000" stroke-width="1.0" />
<circle cx="395.7" cy="371.45" r="2.3" fill="#fff" stroke="#000" stroke-width="1.0" />
<circle cx="417.7" cy="373.5" r="2.3" fill="#000" stroke="none" stroke-width="1" />
<circle cx="424.65" cy="373.5" r="2.3" fill="#000" stroke="none" stroke-width="1" />
<circle cx="431.6" cy="373.5" r="2.3" fill="#000" stroke="none" stroke-width="1" />
<circle cx="438.55" cy="373.5" r="2.3" fill="#000" stroke="none" stroke-width="1" />
<circle cx="445.5" cy="373.5" r="2.3" fill="#000" stroke="none" stroke-width="1" />
<circle cx="452.45" cy="373.5" r="2.3" fill="#000" stroke="none" stroke-width="1" />
<circle cx="459.4" cy="373.5" r="2.3" fill="#000" stroke="none" stroke-width="1" />
<circle cx="466.35" cy="373.5" r="2.3" fill="#000" stroke="none" stroke-width="1" />
<circle cx="473.3" cy="373.5" r="2.3" fill="#000" stroke="none" stroke-width="1" />
<circle cx="480.25" cy="373.5" r="2.3" fill="#000" stroke="none" stroke-width="1" />
<circle cx="487.2" cy="373.5" r="2.3" fill="#000" stroke="none" stroke-width="1" />
<circle cx="494.15" cy="373.5" r="2.3" fill="#000" stroke="none" stroke-width="1" />
<circle cx="501.1" cy="373.5" r="2.3" fill="#000" stroke="none" stroke-width="1" />
<polygon points="425.4,377 426.24,379.24 428.63,379.35 426.76,380.84 427.4,383.15 425.4,381.83 423.4,383.15 424.04,380.84 422.17,379.35 424.56,379.24" fill="#000" stroke="none" stroke-width="1"/>
<polygon points="432.35,377 433.19,379.24 435.58,379.35 433.71,380.84 434.35,383.15 432.35,381.83 430.35,383.15 430.99,380.84 429.12,379.35 431.51,379.24" fill="#000" stroke="none" stroke-width="1"/>
<polygon points="439.3,377 440.14,379.24 442.53,379.35 440.66,380.84 441.3,383.15 439.3,381.83 437.3,383.15 437.94,380.84 436.07,379.35 438.46,379.24" fill="#000" stroke="none" stroke-width="1"/>
<polygon points="446.25,377 447.09,379.24 449.48,379.35 447.61,380.84 448.25,383.15 446.25,381.83 444.25,383.15 444.89,380.84 443.02,379.35 445.41,379.24" fill="#000" stroke="none" stroke-width="1"/>
<polygon points="453.2,377 454.04,379.24 456.43,379.35 454.56,380.84 455.2,383.15 453.2,381.83 451.2,383.15 451.84,380.84 449.97,379.35 452.36,379.24" fill="#000" stroke="none" stroke-width="1"/>
<polygon points="460.15,377 460.99,379.24 463.38,379.35 461.51,380.84 462.15,383.15 460.15,381.83 458.15,383.15 458.79,380.84 456.92,379.35 459.31,379.24" fill="#000" stroke="none" stroke-width="1"/>
<polygon points="467.1,377 467.94,379.24 470.33,379.35 468.46,380.84 469.1,383.15 467.1,381.83 465.1,383.15 465.74,380.84 463.87,379.35 466.26,379.24" fill="#000" stroke="none" stroke-width="1"/>
<polygon points="474.05,377 474.89,379.24 477.28,379.35 475.41,380.84 476.05,383.15 474.05,381.83 472.05,383.15 472.69,380.84 470.82,379.35 473.21,379.24" fill="#000" stroke="none" stroke-width="1"/>
<polygon points="481,377 481.84,379.24 484.23,379.35 482.36,380.84 483,383.15 481,381.83 479,383.15 479.64,380.84 477.77,379.35 480.16,379.24" fill="#000" stroke="none" stroke-width="1"/>
<polygon points="487.95,377 488.79,379.24 491.18,379.35 489.31,380.84 489.95,383.15 487.95,381.83 485.95,383.15 486.59,380.84 484.72,379.35 487.11,379.24" fill="#000" stroke="none" stroke-width="1"/>
<polygon points="494.9,377 495.74,379.24 498.13,379.35 496.26,380.84 496.9,383.15 494.9,381.83 492.9,383.15 493.54,380.84 491.67,379.35 494.06,379.24" fill="#000" stroke="none" stroke-width="1"/>
</g>
<text transform="translate(382.08,308.20) scale(1.022,1.144)" font-size="13" fill="#000" >Rheometer limits</text>
<rect x="481.4" y="299.5" width="25.5" height="8.1" fill="#e0e0e0" stroke="#d0d0d0" stroke-width="0.6" />
<text transform="translate(415.16,332.87) scale(1.035,0.867)" font-size="14" fill="#000" ><tspan font-style="italic">T</tspan><tspan font-size="9.5" dy="1.8">ref</tspan></text>
<text transform="translate(405.41,345.50) scale(1.092,0.750)" font-size="14" fill="#000" ><tspan font-style="italic">T</tspan><tspan font-size="9.5" dy="1.8">body</tspan></text>
<circle cx="447.6" cy="329.5" r="2.9" fill="#fff" stroke="#000" stroke-width="1.1" />
<circle cx="469.8" cy="329.5" r="3.2" fill="#000" stroke="none" stroke-width="1" />
<line x1="481.4" y1="329.5" x2="501.1" y2="329.5" stroke="#3f6fc3" stroke-width="2.0" />
<circle cx="491.4" cy="329.5" r="3.1" fill="#3f6fc3" stroke="none" stroke-width="1" />
<polygon points="469.8,339.3 471.03,342.6 474.56,342.75 471.8,344.95 472.74,348.35 469.8,346.4 466.86,348.35 467.8,344.95 465.04,342.75 468.57,342.6" fill="#000" stroke="none" stroke-width="1"/>
<line x1="481.4" y1="344.3" x2="501.1" y2="344.3" stroke="#3f6fc3" stroke-width="2.0" />
<polygon points="491.4,339.3 492.63,342.6 496.16,342.75 493.4,344.95 494.34,348.35 491.4,346.4 488.46,348.35 489.4,344.95 486.64,342.75 490.17,342.6" fill="#3f6fc3" stroke="none" stroke-width="1"/>
<text transform="translate(440.20,361.30) scale(0.935,0.988)" font-size="13.5" fill="#000" >CC</text>
<text transform="translate(461.94,361.30) scale(1.062,0.988)" font-size="13.5" fill="#000" >PD</text>
<text transform="translate(480.80,361.30) scale(0.848,0.988)" font-size="13.5" fill="#000" >C–Y</text>
<line x1="333.55" y1="394" x2="333.55" y2="390.5" stroke="#000" stroke-width="0.9" />
<line x1="333.55" y1="315.2" x2="333.55" y2="318.7" stroke="#000" stroke-width="0.9" />
<line x1="342.36" y1="394" x2="342.36" y2="390.5" stroke="#000" stroke-width="0.9" />
<line x1="342.36" y1="315.2" x2="342.36" y2="318.7" stroke="#000" stroke-width="0.9" />
<line x1="348.6" y1="394" x2="348.6" y2="390.5" stroke="#000" stroke-width="0.9" />
<line x1="348.6" y1="315.2" x2="348.6" y2="318.7" stroke="#000" stroke-width="0.9" />
<line x1="353.45" y1="394" x2="353.45" y2="390.5" stroke="#000" stroke-width="0.9" />
<line x1="353.45" y1="315.2" x2="353.45" y2="318.7" stroke="#000" stroke-width="0.9" />
<line x1="357.41" y1="394" x2="357.41" y2="390.5" stroke="#000" stroke-width="0.9" />
<line x1="357.41" y1="315.2" x2="357.41" y2="318.7" stroke="#000" stroke-width="0.9" />
<line x1="360.75" y1="394" x2="360.75" y2="390.5" stroke="#000" stroke-width="0.9" />
<line x1="360.75" y1="315.2" x2="360.75" y2="318.7" stroke="#000" stroke-width="0.9" />
<line x1="363.65" y1="394" x2="363.65" y2="390.5" stroke="#000" stroke-width="0.9" />
<line x1="363.65" y1="315.2" x2="363.65" y2="318.7" stroke="#000" stroke-width="0.9" />
<line x1="366.21" y1="394" x2="366.21" y2="390.5" stroke="#000" stroke-width="0.9" />
<line x1="366.21" y1="315.2" x2="366.21" y2="318.7" stroke="#000" stroke-width="0.9" />
<line x1="368.5" y1="394" x2="368.5" y2="388.5" stroke="#000" stroke-width="0.9" />
<line x1="368.5" y1="315.2" x2="368.5" y2="320.7" stroke="#000" stroke-width="0.9" />
<line x1="383.55" y1="394" x2="383.55" y2="390.5" stroke="#000" stroke-width="0.9" />
<line x1="383.55" y1="315.2" x2="383.55" y2="318.7" stroke="#000" stroke-width="0.9" />
<line x1="392.36" y1="394" x2="392.36" y2="390.5" stroke="#000" stroke-width="0.9" />
<line x1="392.36" y1="315.2" x2="392.36" y2="318.7" stroke="#000" stroke-width="0.9" />
<line x1="398.6" y1="394" x2="398.6" y2="390.5" stroke="#000" stroke-width="0.9" />
<line x1="398.6" y1="315.2" x2="398.6" y2="318.7" stroke="#000" stroke-width="0.9" />
<line x1="403.45" y1="394" x2="403.45" y2="390.5" stroke="#000" stroke-width="0.9" />
<line x1="403.45" y1="315.2" x2="403.45" y2="318.7" stroke="#000" stroke-width="0.9" />
<line x1="407.41" y1="394" x2="407.41" y2="390.5" stroke="#000" stroke-width="0.9" />
<line x1="407.41" y1="315.2" x2="407.41" y2="318.7" stroke="#000" stroke-width="0.9" />
<line x1="410.75" y1="394" x2="410.75" y2="390.5" stroke="#000" stroke-width="0.9" />
<line x1="410.75" y1="315.2" x2="410.75" y2="318.7" stroke="#000" stroke-width="0.9" />
<line x1="413.65" y1="394" x2="413.65" y2="390.5" stroke="#000" stroke-width="0.9" />
<line x1="413.65" y1="315.2" x2="413.65" y2="318.7" stroke="#000" stroke-width="0.9" />
<line x1="416.21" y1="394" x2="416.21" y2="390.5" stroke="#000" stroke-width="0.9" />
<line x1="416.21" y1="315.2" x2="416.21" y2="318.7" stroke="#000" stroke-width="0.9" />
<line x1="418.5" y1="394" x2="418.5" y2="388.5" stroke="#000" stroke-width="0.9" />
<line x1="418.5" y1="315.2" x2="418.5" y2="320.7" stroke="#000" stroke-width="0.9" />
<line x1="433.55" y1="394" x2="433.55" y2="390.5" stroke="#000" stroke-width="0.9" />
<line x1="433.55" y1="315.2" x2="433.55" y2="318.7" stroke="#000" stroke-width="0.9" />
<line x1="442.36" y1="394" x2="442.36" y2="390.5" stroke="#000" stroke-width="0.9" />
<line x1="442.36" y1="315.2" x2="442.36" y2="318.7" stroke="#000" stroke-width="0.9" />
<line x1="448.6" y1="394" x2="448.6" y2="390.5" stroke="#000" stroke-width="0.9" />
<line x1="448.6" y1="315.2" x2="448.6" y2="318.7" stroke="#000" stroke-width="0.9" />
<line x1="453.45" y1="394" x2="453.45" y2="390.5" stroke="#000" stroke-width="0.9" />
<line x1="453.45" y1="315.2" x2="453.45" y2="318.7" stroke="#000" stroke-width="0.9" />
<line x1="457.41" y1="394" x2="457.41" y2="390.5" stroke="#000" stroke-width="0.9" />
<line x1="457.41" y1="315.2" x2="457.41" y2="318.7" stroke="#000" stroke-width="0.9" />
<line x1="460.75" y1="394" x2="460.75" y2="390.5" stroke="#000" stroke-width="0.9" />
<line x1="460.75" y1="315.2" x2="460.75" y2="318.7" stroke="#000" stroke-width="0.9" />
<line x1="463.65" y1="394" x2="463.65" y2="390.5" stroke="#000" stroke-width="0.9" />
<line x1="463.65" y1="315.2" x2="463.65" y2="318.7" stroke="#000" stroke-width="0.9" />
<line x1="466.21" y1="394" x2="466.21" y2="390.5" stroke="#000" stroke-width="0.9" />
<line x1="466.21" y1="315.2" x2="466.21" y2="318.7" stroke="#000" stroke-width="0.9" />
<line x1="468.5" y1="394" x2="468.5" y2="388.5" stroke="#000" stroke-width="0.9" />
<line x1="468.5" y1="315.2" x2="468.5" y2="320.7" stroke="#000" stroke-width="0.9" />
<line x1="483.55" y1="394" x2="483.55" y2="390.5" stroke="#000" stroke-width="0.9" />
<line x1="483.55" y1="315.2" x2="483.55" y2="318.7" stroke="#000" stroke-width="0.9" />
<line x1="492.36" y1="394" x2="492.36" y2="390.5" stroke="#000" stroke-width="0.9" />
<line x1="492.36" y1="315.2" x2="492.36" y2="318.7" stroke="#000" stroke-width="0.9" />
<line x1="498.6" y1="394" x2="498.6" y2="390.5" stroke="#000" stroke-width="0.9" />
<line x1="498.6" y1="315.2" x2="498.6" y2="318.7" stroke="#000" stroke-width="0.9" />
<line x1="503.45" y1="394" x2="503.45" y2="390.5" stroke="#000" stroke-width="0.9" />
<line x1="503.45" y1="315.2" x2="503.45" y2="318.7" stroke="#000" stroke-width="0.9" />
<line x1="507.41" y1="394" x2="507.41" y2="390.5" stroke="#000" stroke-width="0.9" />
<line x1="507.41" y1="315.2" x2="507.41" y2="318.7" stroke="#000" stroke-width="0.9" />
<line x1="318.5" y1="391.89" x2="322" y2="391.89" stroke="#000" stroke-width="0.9" />
<line x1="511" y1="391.89" x2="507.5" y2="391.89" stroke="#000" stroke-width="0.9" />
<line x1="318.5" y1="389.05" x2="322" y2="389.05" stroke="#000" stroke-width="0.9" />
<line x1="511" y1="389.05" x2="507.5" y2="389.05" stroke="#000" stroke-width="0.9" />
<line x1="318.5" y1="386.54" x2="322" y2="386.54" stroke="#000" stroke-width="0.9" />
<line x1="511" y1="386.54" x2="507.5" y2="386.54" stroke="#000" stroke-width="0.9" />
<line x1="318.5" y1="384.3" x2="324" y2="384.3" stroke="#000" stroke-width="0.9" />
<line x1="511" y1="384.3" x2="505.5" y2="384.3" stroke="#000" stroke-width="0.9" />
<line x1="318.5" y1="369.55" x2="322" y2="369.55" stroke="#000" stroke-width="0.9" />
<line x1="511" y1="369.55" x2="507.5" y2="369.55" stroke="#000" stroke-width="0.9" />
<line x1="318.5" y1="360.92" x2="322" y2="360.92" stroke="#000" stroke-width="0.9" />
<line x1="511" y1="360.92" x2="507.5" y2="360.92" stroke="#000" stroke-width="0.9" />
<line x1="318.5" y1="354.8" x2="322" y2="354.8" stroke="#000" stroke-width="0.9" />
<line x1="511" y1="354.8" x2="507.5" y2="354.8" stroke="#000" stroke-width="0.9" />
<line x1="318.5" y1="350.05" x2="322" y2="350.05" stroke="#000" stroke-width="0.9" />
<line x1="511" y1="350.05" x2="507.5" y2="350.05" stroke="#000" stroke-width="0.9" />
<line x1="318.5" y1="346.17" x2="322" y2="346.17" stroke="#000" stroke-width="0.9" />
<line x1="511" y1="346.17" x2="507.5" y2="346.17" stroke="#000" stroke-width="0.9" />
<line x1="318.5" y1="342.89" x2="322" y2="342.89" stroke="#000" stroke-width="0.9" />
<line x1="511" y1="342.89" x2="507.5" y2="342.89" stroke="#000" stroke-width="0.9" />
<line x1="318.5" y1="340.05" x2="322" y2="340.05" stroke="#000" stroke-width="0.9" />
<line x1="511" y1="340.05" x2="507.5" y2="340.05" stroke="#000" stroke-width="0.9" />
<line x1="318.5" y1="337.54" x2="322" y2="337.54" stroke="#000" stroke-width="0.9" />
<line x1="511" y1="337.54" x2="507.5" y2="337.54" stroke="#000" stroke-width="0.9" />
<line x1="318.5" y1="335.3" x2="324" y2="335.3" stroke="#000" stroke-width="0.9" />
<line x1="511" y1="335.3" x2="505.5" y2="335.3" stroke="#000" stroke-width="0.9" />
<line x1="318.5" y1="320.55" x2="322" y2="320.55" stroke="#000" stroke-width="0.9" />
<line x1="511" y1="320.55" x2="507.5" y2="320.55" stroke="#000" stroke-width="0.9" />
<rect x="318.5" y="315.2" width="192.5" height="78.8" fill="none" stroke="#000" stroke-width="1.5" />
<text transform="translate(295.52,339.70) scale(1.080,1.030)" font-size="13" fill="#000" >10<tspan font-size="8.3" dy="-4.2">1</tspan></text>
<text transform="translate(294.44,388.80) scale(1.080,1.030)" font-size="13" fill="#000" >10<tspan font-size="8.3" dy="-4.2">0</tspan></text>
<text transform="translate(288.45,381.10) rotate(-90) scale(1.109,0.918)" font-size="13" fill="#000" ><tspan font-style="italic">η</tspan> ,  mPa s</text>
<text transform="translate(289.52,415.46) scale(1.080,1.184)" font-size="20" fill="#000" >(e)</text>
<clipPath id="ce"><rect x="318.3" y="426.8" width="192.7" height="79.59999999999997"/></clipPath>
<g clip-path="url(#ce)">
<linearGradient id="bpband" x1="0" y1="0" x2="0" y2="1"><stop offset="0" stop-color="#6050d0"/><stop offset="0.5" stop-color="#b070c0"/><stop offset="1" stop-color="#d84060"/></linearGradient>
<rect x="318.3" y="489.3" width="192.7" height="5.8" fill="url(#bpband)" stroke="none" stroke-width="1" />
<circle cx="398" cy="494.3" r="3.3" fill="#3f6fc3" stroke="none" stroke-width="1" />
<circle cx="403.2" cy="494.3" r="3.3" fill="#3f6fc3" stroke="none" stroke-width="1" />
<circle cx="408.4" cy="494.3" r="3.3" fill="#3f6fc3" stroke="none" stroke-width="1" />
<circle cx="413.6" cy="494.3" r="3.3" fill="#3f6fc3" stroke="none" stroke-width="1" />
<circle cx="418.8" cy="494.3" r="3.3" fill="#3f6fc3" stroke="none" stroke-width="1" />
<circle cx="387" cy="493.5" r="3.6" fill="#000" stroke="none" stroke-width="1" />
<circle cx="392.2" cy="493.5" r="3.6" fill="#000" stroke="none" stroke-width="1" />
<circle cx="397.4" cy="493.5" r="3.6" fill="#000" stroke="none" stroke-width="1" />
<circle cx="402.6" cy="493.5" r="3.6" fill="#000" stroke="none" stroke-width="1" />
<circle cx="407.8" cy="493.5" r="3.6" fill="#000" stroke="none" stroke-width="1" />
<circle cx="413" cy="493.5" r="3.6" fill="#000" stroke="none" stroke-width="1" />
<circle cx="418.2" cy="493.5" r="3.6" fill="#000" stroke="none" stroke-width="1" />
<circle cx="423.4" cy="493.5" r="3.6" fill="#000" stroke="none" stroke-width="1" />
<circle cx="428.6" cy="493.5" r="3.6" fill="#000" stroke="none" stroke-width="1" />
<circle cx="433.8" cy="493.5" r="3.6" fill="#000" stroke="none" stroke-width="1" />
<circle cx="439" cy="493.5" r="3.6" fill="#000" stroke="none" stroke-width="1" />
<circle cx="444.2" cy="493.5" r="3.6" fill="#000" stroke="none" stroke-width="1" />
<circle cx="449.4" cy="493.5" r="3.6" fill="#000" stroke="none" stroke-width="1" />
<circle cx="454.6" cy="493.5" r="3.6" fill="#000" stroke="none" stroke-width="1" />
<circle cx="459.8" cy="493.5" r="3.6" fill="#000" stroke="none" stroke-width="1" />
<circle cx="465" cy="493.5" r="3.6" fill="#000" stroke="none" stroke-width="1" />
<circle cx="470.2" cy="493.5" r="3.6" fill="#000" stroke="none" stroke-width="1" />
<circle cx="475.4" cy="493.5" r="3.6" fill="#000" stroke="none" stroke-width="1" />
<circle cx="480.6" cy="493.5" r="3.6" fill="#000" stroke="none" stroke-width="1" />
<circle cx="485.8" cy="493.5" r="3.6" fill="#000" stroke="none" stroke-width="1" />
<circle cx="491" cy="493.5" r="3.6" fill="#000" stroke="none" stroke-width="1" />
<circle cx="496.2" cy="493.5" r="3.6" fill="#000" stroke="none" stroke-width="1" />
<circle cx="501.4" cy="493.5" r="3.6" fill="#000" stroke="none" stroke-width="1" />
<rect x="378.9" y="487.2" width="6.8" height="7" fill="#fff" stroke="#000" stroke-width="0.9" />
<rect x="384" y="487.2" width="6.8" height="7" fill="#fff" stroke="#000" stroke-width="0.9" />
<rect x="389.1" y="487.2" width="6.8" height="7" fill="#fff" stroke="#000" stroke-width="0.9" />
<rect x="394.2" y="487.2" width="6.8" height="7" fill="#fff" stroke="#000" stroke-width="0.9" />
<rect x="399.3" y="487.2" width="6.8" height="7" fill="#fff" stroke="#000" stroke-width="0.9" />
<rect x="404.4" y="487.2" width="6.8" height="7" fill="#fff" stroke="#000" stroke-width="0.9" />
<rect x="409.5" y="487.2" width="6.8" height="7" fill="#fff" stroke="#000" stroke-width="0.9" />
<rect x="414.6" y="487.2" width="6.8" height="7" fill="#fff" stroke="#000" stroke-width="0.9" />
<rect x="419.7" y="487.2" width="6.8" height="7" fill="#fff" stroke="#000" stroke-width="0.9" />
<rect x="424.8" y="487.2" width="6.8" height="7" fill="#fff" stroke="#000" stroke-width="0.9" />
<rect x="429.9" y="487.2" width="6.8" height="7" fill="#fff" stroke="#000" stroke-width="0.9" />
<rect x="435" y="487.2" width="6.8" height="7" fill="#fff" stroke="#000" stroke-width="0.9" />
<rect x="440.1" y="487.2" width="6.8" height="7" fill="#fff" stroke="#000" stroke-width="0.9" />
<rect x="445.2" y="487.2" width="6.8" height="7" fill="#fff" stroke="#000" stroke-width="0.9" />
<rect x="450.3" y="487.2" width="6.8" height="7" fill="#fff" stroke="#000" stroke-width="0.9" />
<rect x="455.4" y="487.2" width="6.8" height="7" fill="#fff" stroke="#000" stroke-width="0.9" />
<rect x="460.5" y="487.2" width="6.8" height="7" fill="#fff" stroke="#000" stroke-width="0.9" />
<rect x="465.6" y="487.2" width="6.8" height="7" fill="#fff" stroke="#000" stroke-width="0.9" />
<circle cx="326.7" cy="488.9" r="3.3" fill="#fff" stroke="#000" stroke-width="1.0" />
<circle cx="333.65" cy="489.43" r="3.3" fill="#fff" stroke="#000" stroke-width="1.0" />
<circle cx="340.6" cy="489.96" r="3.3" fill="#fff" stroke="#000" stroke-width="1.0" />
<circle cx="347.55" cy="490.48" r="3.3" fill="#fff" stroke="#000" stroke-width="1.0" />
<circle cx="354.5" cy="491.01" r="3.3" fill="#fff" stroke="#000" stroke-width="1.0" />
<circle cx="361.45" cy="491.54" r="3.3" fill="#fff" stroke="#000" stroke-width="1.0" />
<circle cx="368.4" cy="492.07" r="3.3" fill="#fff" stroke="#000" stroke-width="1.0" />
<circle cx="375.35" cy="491.89" r="3.3" fill="#fff" stroke="#000" stroke-width="1.0" />
</g>
<linearGradient id="cbv" x1="0" y1="1" x2="0" y2="0"><stop offset="0" stop-color="#2a20b0"/><stop offset="0.12" stop-color="#2060f0"/><stop offset="0.3" stop-color="#20c8f0"/><stop offset="0.5" stop-color="#40f0a0"/><stop offset="0.66" stop-color="#e8f040"/><stop offset="0.82" stop-color="#ff8a20"/><stop offset="1" stop-color="#c01810"/></linearGradient>
<rect x="330.2" y="444.4" width="7.4" height="19.3" fill="url(#cbv)" stroke="#202060" stroke-width="0.7" />
<line x1="330.6" y1="455.6" x2="337.4" y2="445" stroke="#111" stroke-width="1.0" />
<text transform="translate(341.90,447.07) scale(0.919,0.977)" font-size="13" fill="#000" ><tspan font-style="italic">η</tspan><tspan font-size="8.5" dy="2.5">0</tspan><tspan font-size="8.5" dy="-6.5">BP</tspan></text>
<text transform="translate(342.30,468.80) scale(1.060,1.025)" font-size="13" fill="#000" >±4<tspan font-style="italic">σ</tspan></text>
<polygon points="395,446.8 432,446.8 452,450 499,451 499,462.6 452,462 432,459.8 395,459.8" fill="#b4b4b4" />
<polygon points="395,448.8 432,448.8 452,452 499,453 499,460.6 452,460 432,457.8 395,457.8" fill="#9a9a9a" />
<polyline points="395,453.3 432,453.3 452,456 499,456.8" fill="none" stroke="#c0c0c0" stroke-width="0.7"  stroke-linecap="round" stroke-linejoin="round"/>
<circle cx="408" cy="453.5" r="2.9" fill="#fff" stroke="#000" stroke-width="1.0" />
<circle cx="409.5" cy="453.5" r="2.9" fill="#fff" stroke="#000" stroke-width="1.0" />
<circle cx="411" cy="453.5" r="2.9" fill="#fff" stroke="#000" stroke-width="1.0" />
<circle cx="412.5" cy="453.5" r="2.9" fill="#fff" stroke="#000" stroke-width="1.0" />
<circle cx="414" cy="453.5" r="2.9" fill="#fff" stroke="#000" stroke-width="1.0" />
<circle cx="415.5" cy="453.5" r="2.9" fill="#fff" stroke="#000" stroke-width="1.0" />
<circle cx="417" cy="453.5" r="2.9" fill="#fff" stroke="#000" stroke-width="1.0" />
<circle cx="418.5" cy="453.5" r="2.9" fill="#fff" stroke="#000" stroke-width="1.0" />
<circle cx="420" cy="453.5" r="2.9" fill="#fff" stroke="#000" stroke-width="1.0" />
<circle cx="421.5" cy="453.5" r="2.9" fill="#fff" stroke="#000" stroke-width="1.0" />
<circle cx="423" cy="453.5" r="2.9" fill="#fff" stroke="#000" stroke-width="1.0" />
<circle cx="424.5" cy="453.5" r="2.9" fill="#fff" stroke="#000" stroke-width="1.0" />
<circle cx="426" cy="453.5" r="2.9" fill="#fff" stroke="#000" stroke-width="1.0" />
<circle cx="427.5" cy="453.5" r="2.9" fill="#fff" stroke="#000" stroke-width="1.0" />
<circle cx="429" cy="453.5" r="2.9" fill="#fff" stroke="#000" stroke-width="1.0" />
<circle cx="430.5" cy="453.5" r="2.9" fill="#fff" stroke="#000" stroke-width="1.0" />
<circle cx="432" cy="453.5" r="2.9" fill="#fff" stroke="#000" stroke-width="1.0" />
<circle cx="433.5" cy="453.5" r="2.9" fill="#fff" stroke="#000" stroke-width="1.0" />
<circle cx="435" cy="453.5" r="2.9" fill="#fff" stroke="#000" stroke-width="1.0" />
<circle cx="438.8" cy="453.5" r="3" fill="#fff" stroke="#000" stroke-width="0.9" />
<circle cx="441.6" cy="453.5" r="3" fill="#fff" stroke="#000" stroke-width="0.9" />
<circle cx="444.4" cy="453.5" r="3" fill="#fff" stroke="#000" stroke-width="0.9" />
<circle cx="404.8" cy="453.4" r="3.1" fill="#fff" stroke="#000" stroke-width="1.0" />
<circle cx="450.7" cy="453.8" r="3.4" fill="#fff" stroke="#000" stroke-width="1.0" />
<line x1="390.8" y1="438.8" x2="390.8" y2="471.1" stroke="#000" stroke-width="1.1" />
<line x1="390.8" y1="471.1" x2="502.5" y2="471.1" stroke="#000" stroke-width="1.1" />
<line x1="390.8" y1="439.5" x2="393.3" y2="439.5" stroke="#000" stroke-width="0.8" />
<line x1="390.8" y1="441" x2="393.3" y2="441" stroke="#000" stroke-width="0.8" />
<line x1="390.8" y1="443" x2="393.3" y2="443" stroke="#000" stroke-width="0.8" />
<line x1="390.8" y1="445.5" x2="393.3" y2="445.5" stroke="#000" stroke-width="0.8" />
<line x1="390.8" y1="462" x2="393.3" y2="462" stroke="#000" stroke-width="0.8" />
<line x1="390.8" y1="464.5" x2="393.3" y2="464.5" stroke="#000" stroke-width="0.8" />
<line x1="390.8" y1="466.5" x2="393.3" y2="466.5" stroke="#000" stroke-width="0.8" />
<line x1="390.8" y1="468.2" x2="393.3" y2="468.2" stroke="#000" stroke-width="0.8" />
<line x1="390.8" y1="469.6" x2="393.3" y2="469.6" stroke="#000" stroke-width="0.8" />
<line x1="390.8" y1="458.8" x2="394.8" y2="458.8" stroke="#000" stroke-width="0.9" />
<line x1="426" y1="471.1" x2="426" y2="467.6" stroke="#000" stroke-width="0.9" />
<line x1="471.2" y1="471.1" x2="471.2" y2="467.6" stroke="#000" stroke-width="0.9" />
<text transform="translate(370.19,464.00) scale(1.006,1.000)" font-size="13" fill="#000" >10<tspan font-size="8.3" dy="-4.2">0</tspan></text>
<text transform="translate(416.92,483.40) scale(1.080,0.940)" font-size="13" fill="#000" >10<tspan font-size="8.3" dy="-4.2">1</tspan></text>
<text transform="translate(462.97,483.40) scale(1.031,0.940)" font-size="13" fill="#000" >10<tspan font-size="8.3" dy="-4.2">3</tspan></text>
<text transform="translate(459.74,444.73) scale(1.056,0.992)" font-size="13" fill="#000" >|<tspan font-style="italic">η</tspan><tspan font-size="9" dy="-4.5">∗</tspan><tspan dy="4.5">(</tspan><tspan font-style="italic">ω</tspan>)|</text>
<line x1="333.55" y1="506.4" x2="333.55" y2="502.9" stroke="#000" stroke-width="0.9" />
<line x1="333.55" y1="426.8" x2="333.55" y2="430.3" stroke="#000" stroke-width="0.9" />
<line x1="342.36" y1="506.4" x2="342.36" y2="502.9" stroke="#000" stroke-width="0.9" />
<line x1="342.36" y1="426.8" x2="342.36" y2="430.3" stroke="#000" stroke-width="0.9" />
<line x1="348.6" y1="506.4" x2="348.6" y2="502.9" stroke="#000" stroke-width="0.9" />
<line x1="348.6" y1="426.8" x2="348.6" y2="430.3" stroke="#000" stroke-width="0.9" />
<line x1="353.45" y1="506.4" x2="353.45" y2="502.9" stroke="#000" stroke-width="0.9" />
<line x1="353.45" y1="426.8" x2="353.45" y2="430.3" stroke="#000" stroke-width="0.9" />
<line x1="357.41" y1="506.4" x2="357.41" y2="502.9" stroke="#000" stroke-width="0.9" />
<line x1="357.41" y1="426.8" x2="357.41" y2="430.3" stroke="#000" stroke-width="0.9" />
<line x1="360.75" y1="506.4" x2="360.75" y2="502.9" stroke="#000" stroke-width="0.9" />
<line x1="360.75" y1="426.8" x2="360.75" y2="430.3" stroke="#000" stroke-width="0.9" />
<line x1="363.65" y1="506.4" x2="363.65" y2="502.9" stroke="#000" stroke-width="0.9" />
<line x1="363.65" y1="426.8" x2="363.65" y2="430.3" stroke="#000" stroke-width="0.9" />
<line x1="366.21" y1="506.4" x2="366.21" y2="502.9" stroke="#000" stroke-width="0.9" />
<line x1="366.21" y1="426.8" x2="366.21" y2="430.3" stroke="#000" stroke-width="0.9" />
<line x1="368.5" y1="506.4" x2="368.5" y2="500.9" stroke="#000" stroke-width="0.9" />
<line x1="368.5" y1="426.8" x2="368.5" y2="432.3" stroke="#000" stroke-width="0.9" />
<line x1="383.55" y1="506.4" x2="383.55" y2="502.9" stroke="#000" stroke-width="0.9" />
<line x1="383.55" y1="426.8" x2="383.55" y2="430.3" stroke="#000" stroke-width="0.9" />
<line x1="392.36" y1="506.4" x2="392.36" y2="502.9" stroke="#000" stroke-width="0.9" />
<line x1="392.36" y1="426.8" x2="392.36" y2="430.3" stroke="#000" stroke-width="0.9" />
<line x1="398.6" y1="506.4" x2="398.6" y2="502.9" stroke="#000" stroke-width="0.9" />
<line x1="398.6" y1="426.8" x2="398.6" y2="430.3" stroke="#000" stroke-width="0.9" />
<line x1="403.45" y1="506.4" x2="403.45" y2="502.9" stroke="#000" stroke-width="0.9" />
<line x1="403.45" y1="426.8" x2="403.45" y2="430.3" stroke="#000" stroke-width="0.9" />
<line x1="407.41" y1="506.4" x2="407.41" y2="502.9" stroke="#000" stroke-width="0.9" />
<line x1="407.41" y1="426.8" x2="407.41" y2="430.3" stroke="#000" stroke-width="0.9" />
<line x1="410.75" y1="506.4" x2="410.75" y2="502.9" stroke="#000" stroke-width="0.9" />
<line x1="410.75" y1="426.8" x2="410.75" y2="430.3" stroke="#000" stroke-width="0.9" />
<line x1="413.65" y1="506.4" x2="413.65" y2="502.9" stroke="#000" stroke-width="0.9" />
<line x1="413.65" y1="426.8" x2="413.65" y2="430.3" stroke="#000" stroke-width="0.9" />
<line x1="416.21" y1="506.4" x2="416.21" y2="502.9" stroke="#000" stroke-width="0.9" />
<line x1="416.21" y1="426.8" x2="416.21" y2="430.3" stroke="#000" stroke-width="0.9" />
<line x1="418.5" y1="506.4" x2="418.5" y2="500.9" stroke="#000" stroke-width="0.9" />
<line x1="418.5" y1="426.8" x2="418.5" y2="432.3" stroke="#000" stroke-width="0.9" />
<line x1="433.55" y1="506.4" x2="433.55" y2="502.9" stroke="#000" stroke-width="0.9" />
<line x1="433.55" y1="426.8" x2="433.55" y2="430.3" stroke="#000" stroke-width="0.9" />
<line x1="442.36" y1="506.4" x2="442.36" y2="502.9" stroke="#000" stroke-width="0.9" />
<line x1="442.36" y1="426.8" x2="442.36" y2="430.3" stroke="#000" stroke-width="0.9" />
<line x1="448.6" y1="506.4" x2="448.6" y2="502.9" stroke="#000" stroke-width="0.9" />
<line x1="448.6" y1="426.8" x2="448.6" y2="430.3" stroke="#000" stroke-width="0.9" />
<line x1="453.45" y1="506.4" x2="453.45" y2="502.9" stroke="#000" stroke-width="0.9" />
<line x1="453.45" y1="426.8" x2="453.45" y2="430.3" stroke="#000" stroke-width="0.9" />
<line x1="457.41" y1="506.4" x2="457.41" y2="502.9" stroke="#000" stroke-width="0.9" />
<line x1="457.41" y1="426.8" x2="457.41" y2="430.3" stroke="#000" stroke-width="0.9" />
<line x1="460.75" y1="506.4" x2="460.75" y2="502.9" stroke="#000" stroke-width="0.9" />
<line x1="460.75" y1="426.8" x2="460.75" y2="430.3" stroke="#000" stroke-width="0.9" />
<line x1="463.65" y1="506.4" x2="463.65" y2="502.9" stroke="#000" stroke-width="0.9" />
<line x1="463.65" y1="426.8" x2="463.65" y2="430.3" stroke="#000" stroke-width="0.9" />
<line x1="466.21" y1="506.4" x2="466.21" y2="502.9" stroke="#000" stroke-width="0.9" />
<line x1="466.21" y1="426.8" x2="466.21" y2="430.3" stroke="#000" stroke-width="0.9" />
<line x1="468.5" y1="506.4" x2="468.5" y2="500.9" stroke="#000" stroke-width="0.9" />
<line x1="468.5" y1="426.8" x2="468.5" y2="432.3" stroke="#000" stroke-width="0.9" />
<line x1="483.55" y1="506.4" x2="483.55" y2="502.9" stroke="#000" stroke-width="0.9" />
<line x1="483.55" y1="426.8" x2="483.55" y2="430.3" stroke="#000" stroke-width="0.9" />
<line x1="492.36" y1="506.4" x2="492.36" y2="502.9" stroke="#000" stroke-width="0.9" />
<line x1="492.36" y1="426.8" x2="492.36" y2="430.3" stroke="#000" stroke-width="0.9" />
<line x1="498.6" y1="506.4" x2="498.6" y2="502.9" stroke="#000" stroke-width="0.9" />
<line x1="498.6" y1="426.8" x2="498.6" y2="430.3" stroke="#000" stroke-width="0.9" />
<line x1="503.45" y1="506.4" x2="503.45" y2="502.9" stroke="#000" stroke-width="0.9" />
<line x1="503.45" y1="426.8" x2="503.45" y2="430.3" stroke="#000" stroke-width="0.9" />
<line x1="507.41" y1="506.4" x2="507.41" y2="502.9" stroke="#000" stroke-width="0.9" />
<line x1="507.41" y1="426.8" x2="507.41" y2="430.3" stroke="#000" stroke-width="0.9" />
<line x1="318.3" y1="485.4" x2="323.8" y2="485.4" stroke="#000" stroke-width="0.9" />
<line x1="511" y1="485.4" x2="505.5" y2="485.4" stroke="#000" stroke-width="0.9" />
<line x1="318.3" y1="458.8" x2="323.8" y2="458.8" stroke="#000" stroke-width="0.9" />
<line x1="511" y1="458.8" x2="505.5" y2="458.8" stroke="#000" stroke-width="0.9" />
<line x1="318.3" y1="432.2" x2="323.8" y2="432.2" stroke="#000" stroke-width="0.9" />
<line x1="511" y1="432.2" x2="505.5" y2="432.2" stroke="#000" stroke-width="0.9" />
<rect x="318.3" y="426.8" width="192.7" height="79.6" fill="none" stroke="#000" stroke-width="1.5" />
<text transform="translate(298.62,437.50) scale(0.980,0.975)" font-size="13" fill="#000" >7.5</text>
<text transform="translate(298.62,463.40) scale(0.980,1.012)" font-size="13" fill="#000" >5.0</text>
<text transform="translate(299.60,491.60) scale(0.919,0.975)" font-size="13" fill="#000" >2.5</text>
<text transform="translate(308.78,520.00) scale(1.080,1.030)" font-size="13" fill="#000" >10<tspan font-size="8.3" dy="-4.2">0</tspan></text>
<text transform="translate(359.32,520.00) scale(1.080,1.030)" font-size="13" fill="#000" >10<tspan font-size="8.3" dy="-4.2">1</tspan></text>
<text transform="translate(408.78,520.00) scale(1.080,1.030)" font-size="13" fill="#000" >10<tspan font-size="8.3" dy="-4.2">2</tspan></text>
<text transform="translate(458.78,520.00) scale(1.080,1.030)" font-size="13" fill="#000" >10<tspan font-size="8.3" dy="-4.2">3</tspan></text>
<text transform="translate(292.05,493.30) rotate(-90) scale(1.104,0.782)" font-size="13" fill="#000" ><tspan font-style="italic">η</tspan> ,  mPa s</text>
<text transform="translate(396.30,536.00) scale(1.286,0.900)" font-size="13" fill="#000" ><tspan font-style="italic">γ</tspan> ,  s<tspan font-size="8.5" dy="-4.2">−1</tspan></text>
<circle cx="400.3" cy="527.7" r="0.85" fill="#000" stroke="none" stroke-width="1" />
<text transform="translate(422.67,420.00) scale(1.031,0.922)" font-size="13" fill="#000" >Literature<tspan font-size="9" dy="-4.5">∗</tspan></text>
<rect x="490.6" y="412.8" width="7.2" height="6.8" fill="#fff" stroke="#000" stroke-width="1.0" />
</svg>
</body></html>
